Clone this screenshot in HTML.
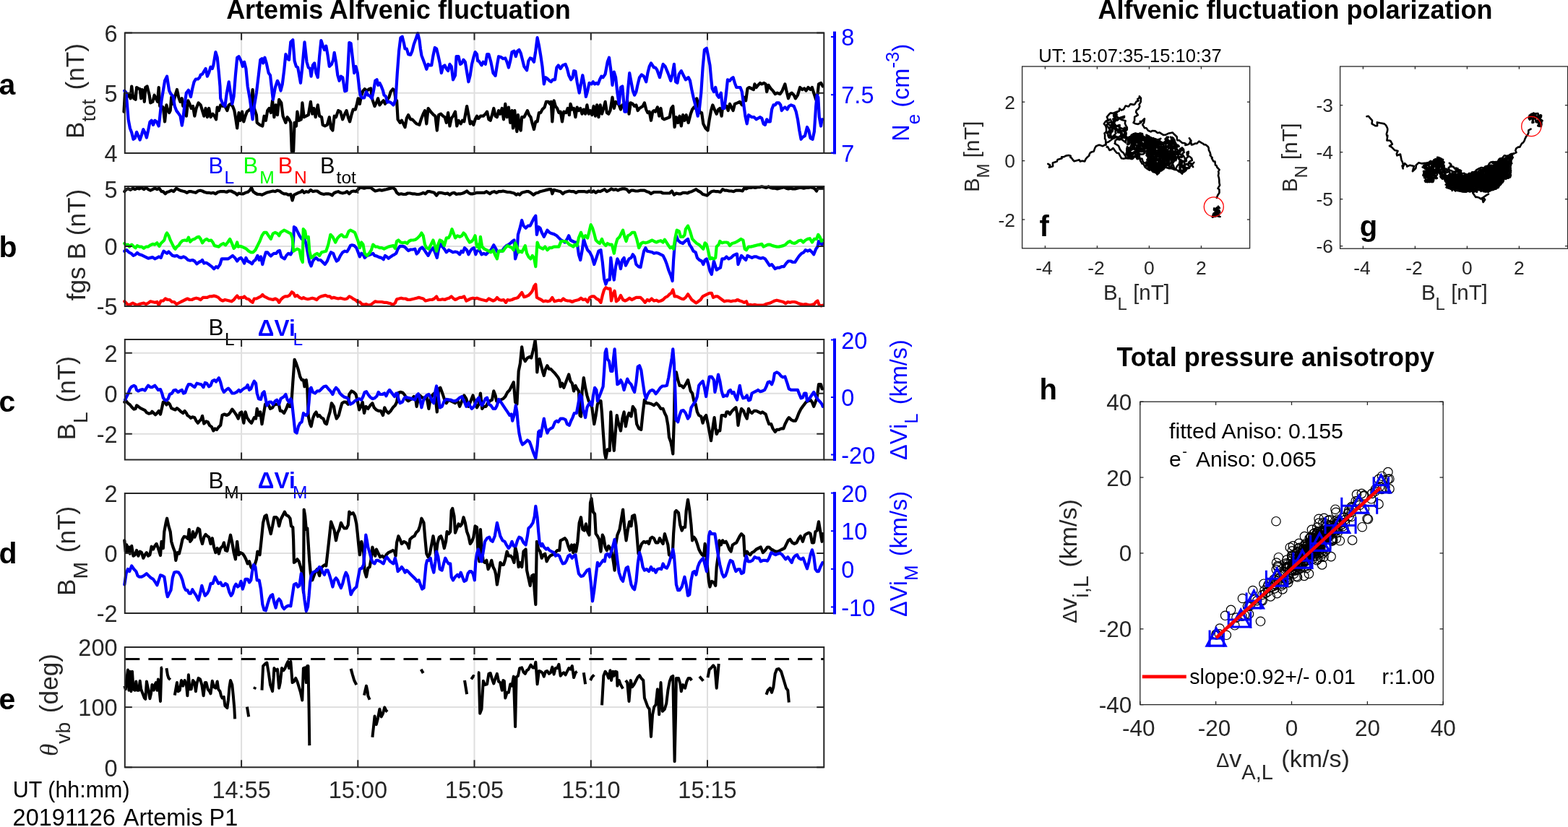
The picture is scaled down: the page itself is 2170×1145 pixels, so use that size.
<!DOCTYPE html><html><head><meta charset="utf-8"><style>html,body{margin:0;padding:0;background:#fff;overflow:hidden}svg{display:block}</style></head><body><svg width="2170" height="1145" viewBox="0 0 2170 1145" font-family="'Liberation Sans', Arial, Helvetica, sans-serif">
<rect width="2170" height="1145" fill="#fff"/>
<text x="551.5" y="26.4" font-size="36" text-anchor="middle" fill="#000" font-weight="bold" >Artemis Alfvenic fluctuation</text>
<text x="1792.5" y="26.4" font-size="36" text-anchor="middle" fill="#000" font-weight="bold" >Alfvenic fluctuation polarization</text>
<text x="1765.2" y="507.4" font-size="36" text-anchor="middle" fill="#000" font-weight="bold" >Total pressure anisotropy</text>
<text x="-1.5" y="130.5" font-size="41" text-anchor="start" fill="#000" font-weight="bold" >a</text>
<text x="-1.5" y="356.3" font-size="41" text-anchor="start" fill="#000" font-weight="bold" >b</text>
<text x="-1.5" y="570.3" font-size="41" text-anchor="start" fill="#000" font-weight="bold" >c</text>
<text x="-1.5" y="779.5" font-size="41" text-anchor="start" fill="#000" font-weight="bold" >d</text>
<text x="-1.5" y="981.5" font-size="41" text-anchor="start" fill="#000" font-weight="bold" >e</text>
<line x1="334.1" y1="45.5" x2="334.1" y2="212.0" stroke="#dfdfdf" stroke-width="2" />
<line x1="495.3" y1="45.5" x2="495.3" y2="212.0" stroke="#dfdfdf" stroke-width="2" />
<line x1="656.5" y1="45.5" x2="656.5" y2="212.0" stroke="#dfdfdf" stroke-width="2" />
<line x1="817.8" y1="45.5" x2="817.8" y2="212.0" stroke="#dfdfdf" stroke-width="2" />
<line x1="979.0" y1="45.5" x2="979.0" y2="212.0" stroke="#dfdfdf" stroke-width="2" />
<line x1="172.8" y1="128.8" x2="1140.3" y2="128.8" stroke="#dfdfdf" stroke-width="2" />
<polyline points="171.5,154.6 173.1,127.1 175.3,130.2 177.6,133.2 179.2,131.7 180.7,136.3 182.2,119.5 183.8,131.7 185.3,136.3 187.6,137.8 189.1,121.0 191.4,122.5 193.7,123.3 195.2,136.3 196.7,124.0 198.3,125.6 199.8,140.9 201.3,121.0 203.6,119.5 206.7,131.7 208.2,142.4 211.3,140.9 213.6,131.7 215.8,136.3 218.1,140.9 219.7,121.0 221.2,147.0 223.5,147.0 225.8,148.5 228.1,168.4 230.4,145.4 231.9,151.6 234.2,156.1 235.7,153.1 237.2,134.7 239.5,143.9 241.8,134.7 244.9,124.0 247.2,134.7 249.5,140.9 251.8,136.3 253.3,147.0 255.6,145.4 257.9,160.7 260.2,139.3 262.5,143.9 264.7,150.0 267.0,147.0 269.3,160.7 271.6,150.0 274.7,142.4 277.7,145.4 280.0,153.1 282.3,160.7 284.6,150.0 286.9,162.2 289.2,150.0 291.5,162.2 294.5,157.7 296.8,160.7 299.1,165.3 300.7,148.5 302.9,153.1 305.2,145.4 308.3,147.0 311.4,147.0 314.4,153.1 316.7,145.4 319.0,143.9 322.0,147.0 324.3,153.1 325.9,162.2 328.2,177.5 330.5,156.1 332.7,166.8 335.0,154.6 337.3,168.4 339.6,160.7 341.9,154.6 344.2,153.1 347.3,150.0 349.6,124.0 351.8,150.0 354.9,159.2 355.7,169.9 359.5,172.9 363.3,174.5 365.6,160.7 367.9,166.8 370.2,153.1 372.5,150.0 374.8,156.1 377.1,139.3 379.4,162.2 381.6,145.4 383.9,159.2 386.2,137.8 389.3,142.4 391.6,160.7 395.4,169.9 397.7,162.2 400.0,165.3 402.3,169.9 403.8,209.6 406.1,209.6 407.6,169.9 409.9,174.5 411.4,154.6 413.7,166.8 416.8,165.3 418.4,142.4 420.7,162.2 423.8,160.7 426.8,159.2 429.9,140.9 432.2,157.7 434.4,150.0 436.7,162.2 439.8,145.4 442.1,160.7 445.1,162.2 446.7,172.9 449.7,174.5 452.8,172.9 455.8,162.2 458.1,177.5 460.4,180.6 462.7,160.7 465.0,162.2 468.1,153.1 471.1,154.6 474.2,165.3 477.2,157.7 479.5,153.1 481.8,162.2 484.1,168.4 486.4,159.2 488.7,151.6 491.8,151.6 494.0,143.9 495.6,136.3 497.9,143.9 500.2,131.7 502.5,125.6 504.7,123.3 507.8,125.6 510.9,123.3 513.1,122.5 515.4,137.8 518.5,147.0 520.8,142.4 523.1,136.3 525.4,145.4 527.7,142.4 530.7,139.3 533.0,143.9 535.3,139.3 538.4,134.7 540.7,127.1 543.7,123.3 546.0,125.6 547.5,137.8 549.1,139.3 550.6,165.3 553.6,169.9 555.9,166.8 558.2,171.4 560.5,176.0 562.8,163.8 565.1,159.2 568.2,165.3 570.5,165.3 573.5,168.4 576.6,171.4 580.4,172.9 582.7,165.3 585.7,157.7 588.0,153.1 590.3,171.4 592.6,150.0 594.9,153.1 597.2,156.1 600.3,159.2 602.5,160.7 604.8,180.6 607.1,159.2 610.2,157.7 613.2,160.7 615.5,162.2 617.8,169.9 620.1,156.1 622.4,174.5 624.7,163.8 627.0,160.7 630.0,154.6 632.3,174.5 634.6,166.8 637.7,171.4 640.0,166.8 642.3,168.4 646.1,147.0 648.4,159.2 650.7,171.4 653.0,168.4 655.3,172.9 657.6,165.3 660.0,160.7 661.1,163.8 662.6,163.8 664.9,160.7 668.8,160.7 671.8,157.7 674.1,154.6 676.4,165.3 678.7,166.8 681.0,159.2 683.3,150.0 685.6,160.7 687.9,162.2 690.1,153.1 692.4,157.7 694.7,150.0 697.0,165.3 699.3,143.9 701.6,162.2 703.9,148.5 706.2,169.9 708.5,153.1 710.0,177.5 712.3,153.1 713.8,171.4 715.4,182.1 716.9,159.2 719.2,177.5 720.7,180.6 722.2,162.2 725.3,162.2 727.6,157.7 729.9,153.1 732.2,159.2 734.5,162.2 736.8,171.4 739.0,179.1 741.3,168.4 743.6,168.4 745.9,156.1 748.2,156.1 750.5,151.6 753.6,148.5 755.9,140.9 758.9,140.9 761.2,143.9 762.7,140.9 764.3,168.4 766.6,139.3 768.8,147.0 771.1,150.0 773.4,156.1 775.7,154.6 778.0,168.4 780.3,154.6 783.4,156.1 785.7,150.0 787.9,159.2 789.5,143.9 791.8,151.6 794.1,150.0 796.4,162.2 798.6,148.5 800.9,153.1 803.2,150.0 805.5,157.7 807.8,151.6 810.1,157.7 812.4,145.4 814.7,157.7 817.0,153.1 819.3,159.2 821.6,147.0 823.9,160.7 826.1,145.4 828.4,162.2 830.7,145.4 833.0,157.7 835.3,150.0 837.6,140.9 839.9,156.1 842.2,157.7 844.5,153.1 847.5,134.7 849.8,150.0 852.1,140.9 854.4,142.4 856.7,145.4 859.0,151.6 861.3,145.4 863.6,147.0 865.9,147.0 868.2,139.3 870.5,157.7 872.8,142.4 875.8,143.9 878.1,147.0 880.4,145.4 882.7,153.1 885.0,150.0 887.3,148.5 889.6,147.0 891.9,142.4 894.2,151.6 896.4,156.1 898.7,154.6 901.0,166.8 903.3,154.6 905.0,153.1 906.9,154.6 909.9,148.5 912.2,160.7 914.5,150.0 916.8,163.8 919.1,165.3 922.9,163.8 926.7,162.2 929.0,150.0 931.3,147.0 933.6,176.0 935.9,162.2 938.2,169.9 940.5,160.7 942.8,174.5 945.1,159.2 947.4,166.8 949.7,159.2 952.7,169.9 955.8,157.7 958.1,151.6 960.4,148.5 962.7,150.0 964.2,136.3 966.5,145.4 968.8,156.1 971.1,156.1 973.3,171.4 976.4,177.5 979.5,180.6 981.8,165.3 984.0,153.1 986.3,145.4 989.4,153.1 991.7,157.7 994.0,151.6 996.3,150.0 998.6,160.7 1000.1,148.5 1002.4,148.5 1005.4,147.0 1007.7,153.1 1010.0,143.9 1012.3,148.5 1014.6,153.1 1016.9,143.9 1020.7,142.4 1023.8,140.9 1026.8,145.4 1029.9,134.7 1032.2,139.3 1034.5,122.5 1036.8,121.0 1039.8,122.5 1042.9,124.0 1044.4,116.4 1046.7,121.0 1049.0,117.9 1052.0,114.9 1054.3,116.4 1057.4,114.9 1059.7,116.4 1061.2,127.1 1063.5,117.9 1066.6,122.5 1069.6,125.6 1072.7,130.2 1075.7,128.6 1079.6,130.2 1082.6,125.6 1086.4,116.4 1088.7,127.1 1091.0,136.3 1093.3,130.2 1095.6,128.6 1098.7,131.7 1100.9,136.3 1104.0,131.7 1107.1,121.0 1110.1,124.0 1113.2,122.5 1115.5,125.6 1118.5,121.0 1121.6,124.0 1123.9,121.0 1126.2,128.6 1129.2,137.8 1131.5,130.2 1133.0,116.4 1136.1,114.9 1138.7,119.5" fill="none" stroke="#000" stroke-width="4.2" stroke-linejoin="round"  stroke-linecap="round"/>
<polyline points="172.3,125.6 174.6,128.6 176.1,147.0 177.6,165.3 179.9,177.5 182.2,183.6 184.5,192.8 186.8,191.3 189.1,182.9 191.4,188.2 193.7,193.6 196.0,186.7 198.3,179.1 200.6,183.6 202.9,190.5 205.1,180.6 207.4,169.1 209.7,166.8 212.0,172.9 214.3,166.8 216.6,168.4 219.7,174.5 221.2,162.2 223.5,139.3 225.8,125.6 228.1,111.8 231.1,105.7 232.7,116.4 234.2,125.6 236.5,130.2 239.5,133.2 241.8,147.0 244.1,153.1 246.4,156.1 249.5,160.7 251.8,173.7 253.3,165.3 255.6,143.9 257.9,128.6 260.9,124.8 264.0,134.0 266.3,122.5 268.6,113.3 270.9,109.5 273.9,109.5 276.2,107.2 277.7,103.4 280.0,102.7 282.3,98.8 284.6,95.0 286.9,105.7 289.2,100.4 291.5,92.7 293.8,95.0 295.3,90.4 298.4,72.1 300.7,79.7 302.9,101.1 304.5,119.5 305.2,136.3 308.3,143.9 311.4,147.0 313.6,130.2 316.7,113.3 319.0,128.6 321.3,143.9 323.6,133.2 325.9,104.2 328.2,79.7 330.5,78.2 333.5,84.3 335.8,92.0 338.1,85.8 340.4,95.0 342.7,119.5 345.7,136.3 349.6,165.3 351.8,147.0 354.9,128.6 358.0,102.7 360.3,82.8 362.5,81.3 364.1,87.4 366.4,79.7 368.7,87.4 371.7,101.1 374.0,104.2 377.8,137.8 380.9,121.0 383.9,111.8 386.2,116.4 388.5,125.6 390.8,116.4 393.1,98.1 395.4,75.1 397.7,81.3 400.0,82.8 402.3,58.3 405.3,55.3 407.6,84.3 409.9,92.0 412.2,93.5 416.0,114.9 418.3,93.5 421.5,58.3 424.5,85.8 426.8,93.5 429.1,95.0 430.6,105.7 432.9,90.4 435.2,87.4 437.5,101.1 439.8,107.2 442.1,78.2 444.4,56.0 446.7,62.9 449.0,69.0 451.3,63.7 453.6,76.7 455.8,92.0 458.9,88.9 461.2,82.8 462.7,72.9 465.0,85.8 467.3,104.2 469.6,111.8 471.9,105.7 474.2,107.2 475.7,116.4 477.2,126.3 479.5,125.6 481.1,101.1 483.3,59.1 485.6,59.9 487.9,79.7 490.2,101.1 492.5,92.0 494.8,101.1 497.1,121.0 498.6,131.7 500.9,135.5 504.0,135.5 507.0,127.1 509.3,131.7 511.6,132.5 514.7,136.3 517.0,125.6 519.3,111.8 521.6,110.3 523.1,117.9 525.4,114.9 527.7,119.5 530.0,125.6 531.5,131.7 533.8,133.2 536.1,141.6 538.4,140.9 541.4,142.4 544.5,145.4 547.5,137.8 549.8,101.1 552.1,70.6 554.4,52.2 556.7,50.7 559.0,59.9 560.5,67.5 562.8,67.5 565.1,75.1 568.2,75.9 570.5,70.6 572.7,61.4 575.0,55.3 578.1,46.1 580.4,55.3 581.9,67.5 583.4,76.7 585.7,82.8 588.0,88.9 590.3,95.8 592.6,88.9 594.9,90.4 597.2,90.4 599.5,76.7 601.8,66.0 604.1,67.5 606.4,76.7 608.7,87.4 610.9,101.1 613.2,92.0 615.5,90.4 617.8,95.0 620.1,98.1 622.4,88.9 624.7,92.0 627.0,110.3 630.0,104.2 631.6,78.2 634.6,78.2 636.9,88.9 639.2,87.4 641.5,82.8 643.8,85.8 646.1,99.6 648.4,113.3 650.7,104.2 653.0,88.9 655.3,79.7 657.6,72.1 660.0,75.1 661.1,84.3 662.6,84.3 666.5,90.4 668.8,85.8 671.8,88.9 674.1,75.1 676.4,75.1 679.4,85.8 682.5,101.1 685.6,104.9 687.9,90.4 690.1,78.2 693.2,79.0 696.3,81.3 699.3,80.5 701.6,85.8 703.9,93.5 706.2,84.3 708.5,72.1 711.5,70.6 713.8,78.2 716.1,70.6 718.4,69.0 720.7,73.6 723.0,82.8 725.3,92.0 729.1,97.3 731.4,84.3 733.7,80.5 736.0,81.3 739.0,85.8 741.3,70.6 743.6,52.2 745.9,62.9 748.2,76.7 750.5,92.0 752.8,116.4 755.1,107.2 757.4,108.8 760.4,111.8 762.7,113.3 765.0,110.3 768.1,110.3 770.4,93.5 772.7,90.4 775.7,95.0 778.8,90.4 782.6,88.9 784.9,95.0 787.2,104.2 790.2,110.3 792.5,107.2 794.1,98.1 796.4,98.8 798.6,113.3 801.7,128.6 804.0,116.4 806.3,104.2 808.6,116.4 810.9,134.0 813.2,125.6 815.5,114.9 818.5,116.4 820.8,113.3 823.1,116.4 825.4,114.9 827.7,116.4 830.0,110.3 832.3,105.7 834.6,107.2 837.6,102.7 840.7,85.8 843.0,79.7 845.3,96.5 847.5,117.9 849.8,99.6 852.1,107.2 854.4,128.6 856.7,143.9 859.0,121.0 861.3,119.5 862.8,136.3 864.4,154.6 866.6,154.6 868.9,125.6 871.2,101.1 873.5,113.3 875.8,125.6 878.1,131.7 880.4,127.1 882.7,116.4 885.0,107.2 888.0,103.4 891.1,105.7 894.2,113.3 896.4,101.1 898.7,92.0 901.0,87.4 905.0,93.5 906.9,93.5 909.2,96.5 913.0,107.2 915.3,98.1 917.6,88.9 920.6,92.0 924.4,101.1 928.3,111.8 930.6,102.7 932.9,88.9 935.1,113.3 937.4,114.9 939.7,102.7 942.8,98.1 945.8,104.2 948.9,110.3 952.7,107.2 955.0,111.8 957.3,124.0 959.6,134.7 962.7,147.0 965.7,160.7 968.0,150.0 970.3,128.6 972.6,93.5 974.9,69.0 977.9,66.7 980.2,78.2 982.5,90.4 984.0,107.2 985.6,122.5 987.9,127.1 990.2,121.0 992.5,131.7 994.7,134.7 997.8,128.6 1000.1,150.0 1002.4,150.0 1004.7,131.7 1007.0,110.3 1010.0,111.8 1012.3,108.8 1014.6,107.2 1016.9,114.9 1019.2,121.0 1022.2,121.0 1024.5,121.0 1026.8,127.1 1029.1,143.9 1031.4,160.7 1033.7,171.4 1036.0,159.2 1038.3,160.7 1040.6,162.2 1043.6,162.2 1046.7,165.3 1049.0,163.8 1052.0,162.2 1054.3,163.8 1056.6,171.4 1058.9,172.9 1061.2,165.3 1063.5,168.4 1065.8,168.4 1068.1,151.6 1070.4,145.4 1072.7,145.4 1075.0,142.4 1078.0,142.4 1080.3,145.4 1081.8,153.1 1084.1,150.0 1086.4,148.5 1089.5,151.6 1091.8,147.0 1094.8,145.4 1098.7,147.0 1101.7,154.6 1104.0,165.3 1106.3,180.6 1108.6,192.8 1110.9,189.8 1113.9,188.2 1117.0,176.0 1119.3,180.6 1121.6,191.3 1124.6,192.8 1126.9,182.1 1129.2,147.0 1130.7,131.7 1132.3,134.7 1133.8,162.2 1136.1,174.5 1137.6,165.3 1138.7,165.3" fill="none" stroke="#0000ff" stroke-width="4.2" stroke-linejoin="round"  stroke-linecap="round"/>
<rect x="172.8" y="45.5" width="967.5" height="166.5" fill="none" stroke="#262626" stroke-width="2"/>
<line x1="334.1" y1="212.0" x2="334.1" y2="202.0" stroke="#262626" stroke-width="2" />
<line x1="334.1" y1="45.5" x2="334.1" y2="55.5" stroke="#262626" stroke-width="2" />
<line x1="495.3" y1="212.0" x2="495.3" y2="202.0" stroke="#262626" stroke-width="2" />
<line x1="495.3" y1="45.5" x2="495.3" y2="55.5" stroke="#262626" stroke-width="2" />
<line x1="656.5" y1="212.0" x2="656.5" y2="202.0" stroke="#262626" stroke-width="2" />
<line x1="656.5" y1="45.5" x2="656.5" y2="55.5" stroke="#262626" stroke-width="2" />
<line x1="817.8" y1="212.0" x2="817.8" y2="202.0" stroke="#262626" stroke-width="2" />
<line x1="817.8" y1="45.5" x2="817.8" y2="55.5" stroke="#262626" stroke-width="2" />
<line x1="979.0" y1="212.0" x2="979.0" y2="202.0" stroke="#262626" stroke-width="2" />
<line x1="979.0" y1="45.5" x2="979.0" y2="55.5" stroke="#262626" stroke-width="2" />
<line x1="172.8" y1="212.0" x2="182.8" y2="212.0" stroke="#262626" stroke-width="2" />
<line x1="1140.3" y1="212.0" x2="1130.3" y2="212.0" stroke="#262626" stroke-width="2" />
<text x="162.6" y="224.2" font-size="32.5" text-anchor="end" fill="#262626" font-weight="normal" >4</text>
<line x1="172.8" y1="128.8" x2="182.8" y2="128.8" stroke="#262626" stroke-width="2" />
<line x1="1140.3" y1="128.8" x2="1130.3" y2="128.8" stroke="#262626" stroke-width="2" />
<text x="162.6" y="140.9" font-size="32.5" text-anchor="end" fill="#262626" font-weight="normal" >5</text>
<line x1="172.8" y1="45.5" x2="182.8" y2="45.5" stroke="#262626" stroke-width="2" />
<line x1="1140.3" y1="45.5" x2="1130.3" y2="45.5" stroke="#262626" stroke-width="2" />
<text x="162.6" y="57.7" font-size="32.5" text-anchor="end" fill="#262626" font-weight="normal" >6</text>
<line x1="1140.3" y1="212.0" x2="1155.0" y2="212.0" stroke="#262626" stroke-width="2" />
<line x1="1155.0" y1="43.6" x2="1155.0" y2="213.4" stroke="#0000ff" stroke-width="4" />
<line x1="1155.0" y1="211.5" x2="1150.0" y2="211.5" stroke="#0000ff" stroke-width="2" />
<text x="1164.3" y="223.7" font-size="32.5" text-anchor="start" fill="#0000ff" font-weight="normal" >7</text>
<line x1="1155.0" y1="131.2" x2="1150.0" y2="131.2" stroke="#0000ff" stroke-width="2" />
<text x="1164.3" y="143.4" font-size="32.5" text-anchor="start" fill="#0000ff" font-weight="normal" >7.5</text>
<line x1="1155.0" y1="51.0" x2="1150.0" y2="51.0" stroke="#0000ff" stroke-width="2" />
<text x="1164.3" y="63.2" font-size="32.5" text-anchor="start" fill="#0000ff" font-weight="normal" >8</text>
<text transform="translate(116.1,126.0) rotate(-90)" text-anchor="middle" fill="#262626" font-size="35.2"><tspan font-size="35.2" dy="0.0" >B</tspan><tspan font-size="28.2" dy="16.3" >tot</tspan><tspan font-size="35.2" dy="-16.3" dx="3"> (nT)</tspan></text>
<text transform="translate(1257.5,128.2) rotate(-90)" text-anchor="middle" fill="#0000ff" font-size="32.5"><tspan font-size="32.5" dy="0.0" >N</tspan><tspan font-size="26" dy="15.0" >e</tspan><tspan font-size="32.5" dy="-15.0" > (cm</tspan><tspan font-size="26" dy="-14.0" >-3</tspan><tspan font-size="32.5" dy="14.0" >)</tspan></text>
<text x="288.4" y="239.7" font-size="30.8" fill="#0000ff" font-weight="normal">B</text>
<text x="310.5" y="254.0" font-size="24.6" fill="#0000ff" font-weight="normal">L</text>
<text x="336.6" y="239.7" font-size="30.8" fill="#00ff00" font-weight="normal">B</text>
<text x="359.3" y="254.0" font-size="24.6" fill="#00ff00" font-weight="normal">M</text>
<text x="384.8" y="239.7" font-size="30.8" fill="#ff0000" font-weight="normal">B</text>
<text x="406.9" y="254.0" font-size="24.6" fill="#ff0000" font-weight="normal">N</text>
<text x="443.1" y="239.7" font-size="30.8" fill="#000" font-weight="normal">B</text>
<text x="465.6" y="254.0" font-size="24.6" fill="#000" font-weight="normal">tot</text>
<line x1="334.1" y1="258.0" x2="334.1" y2="424.0" stroke="#dfdfdf" stroke-width="2" />
<line x1="495.3" y1="258.0" x2="495.3" y2="424.0" stroke="#dfdfdf" stroke-width="2" />
<line x1="656.5" y1="258.0" x2="656.5" y2="424.0" stroke="#dfdfdf" stroke-width="2" />
<line x1="817.8" y1="258.0" x2="817.8" y2="424.0" stroke="#dfdfdf" stroke-width="2" />
<line x1="979.0" y1="258.0" x2="979.0" y2="424.0" stroke="#dfdfdf" stroke-width="2" />
<line x1="172.8" y1="341.0" x2="1140.3" y2="341.0" stroke="#dfdfdf" stroke-width="2" />
<polyline points="172.3,347.7 175.3,346.2 178.4,349.3 181.5,350.8 184.5,353.9 187.6,352.3 189.9,350.0 192.9,352.3 196.0,353.1 199.0,354.6 202.1,356.1 205.1,357.7 208.2,356.9 211.3,356.1 214.3,358.4 217.4,356.9 219.7,355.4 222.7,356.9 225.0,350.8 226.5,347.7 228.8,349.3 231.1,350.8 233.4,348.5 235.7,350.8 238.8,353.9 241.8,354.6 244.9,353.9 247.9,356.1 251.0,356.9 254.0,355.4 257.1,356.9 260.2,360.0 263.2,360.7 266.3,360.0 269.3,361.5 272.4,365.3 275.4,363.0 278.5,361.5 280.0,360.0 282.3,364.6 284.6,363.8 286.9,364.6 290.0,366.8 293.0,369.1 296.1,372.2 299.1,369.1 301.4,370.7 304.5,366.1 306.8,358.4 309.8,358.4 312.9,358.4 315.9,358.4 319.0,356.1 322.0,353.9 325.1,356.9 328.2,361.5 330.5,358.4 333.5,356.9 335.8,360.0 338.1,364.6 340.4,356.9 342.7,361.5 345.7,363.0 348.8,365.3 351.1,361.5 353.4,360.0 356.4,353.9 358.7,360.0 361.0,355.4 363.3,366.1 365.6,356.9 367.9,349.3 370.2,349.3 372.5,352.3 374.8,354.6 377.1,352.3 379.4,350.8 382.4,350.8 384.7,347.7 387.0,347.0 389.3,355.4 391.6,356.9 393.9,358.4 396.2,353.9 399.2,350.8 402.3,352.3 404.6,347.7 406.1,332.5 406.9,314.1 409.2,315.7 411.4,320.2 414.5,326.3 417.6,330.9 420.0,330.9 421.5,330.9 423.8,338.6 426.0,350.8 428.3,363.0 430.6,368.4 432.9,361.5 435.2,358.4 437.5,356.9 440.6,360.0 443.6,360.0 446.7,363.0 449.7,366.1 452.8,361.5 455.8,353.9 458.1,349.3 461.2,350.8 463.5,356.9 465.8,361.5 468.1,360.0 471.1,353.9 474.2,349.3 477.2,347.7 480.3,348.5 482.6,344.7 484.9,340.1 487.2,339.3 490.2,340.1 493.3,343.2 495.6,349.3 497.9,355.4 500.2,350.8 502.5,352.3 504.7,356.9 507.8,353.9 510.9,353.1 513.1,352.3 516.2,350.8 518.5,353.9 521.6,354.6 524.6,356.1 527.7,356.9 530.7,359.2 533.0,353.9 535.3,355.4 537.6,357.7 540.7,355.4 542.9,353.9 546.0,352.3 548.3,350.8 550.6,344.7 553.6,340.9 556.7,340.9 559.8,341.6 562.8,344.7 565.1,347.0 568.2,345.5 571.2,345.5 574.3,344.7 576.6,351.6 578.9,349.3 581.1,344.7 584.2,342.4 587.3,346.2 590.3,350.8 592.6,353.9 595.7,347.7 599.5,343.2 602.5,350.8 604.8,356.9 607.1,344.7 609.4,337.8 611.7,340.9 614.8,344.7 617.8,349.3 620.9,346.2 623.9,347.7 627.0,349.3 630.0,348.5 633.1,349.3 636.2,352.3 638.5,347.7 640.7,349.3 643.0,343.2 646.1,346.2 648.4,352.3 650.7,347.7 653.0,344.7 656.0,343.2 658.3,352.3 660.0,347.7 663.4,346.2 666.5,352.3 669.5,350.8 672.6,352.3 675.6,349.3 679.4,346.2 683.3,339.3 685.6,343.2 688.6,349.3 691.7,347.7 694.7,347.7 697.8,343.2 700.8,340.1 703.9,338.6 707.0,336.3 709.2,334.0 711.5,332.5 713.1,358.4 715.4,350.8 716.9,324.8 719.2,317.2 722.2,305.0 724.5,312.6 727.6,315.7 730.6,312.6 733.7,312.6 736.0,308.0 739.0,301.9 741.3,298.8 742.9,324.8 745.2,314.1 747.5,315.7 749.7,321.8 752.8,327.9 755.1,323.3 757.4,318.7 760.4,321.8 763.5,323.3 766.6,324.1 770.4,326.3 773.4,329.4 776.5,332.5 779.5,334.0 781.8,335.5 784.9,330.9 787.2,326.3 789.5,332.5 792.5,334.0 795.6,335.5 798.6,335.5 800.9,352.3 803.2,360.0 805.5,347.7 807.8,330.9 810.1,338.6 813.2,346.2 816.2,349.3 819.3,355.4 822.3,366.1 825.4,356.9 828.4,347.7 831.5,346.2 833.8,363.0 836.1,385.9 838.4,393.6 840.7,387.5 843.7,387.5 845.3,356.9 847.5,375.2 849.8,387.5 852.1,369.1 854.4,358.4 856.7,363.0 859.0,372.2 861.3,360.0 863.6,356.9 865.9,367.6 868.2,363.0 870.5,358.4 873.5,356.9 875.8,352.3 878.1,355.4 880.4,366.1 883.5,369.1 886.5,369.9 888.8,358.4 891.1,347.7 893.4,343.2 895.7,347.7 899.5,348.5 902.6,349.3 905.0,350.8 908.4,350.0 911.5,350.8 914.5,352.3 917.6,353.9 920.6,360.0 922.9,366.1 925.2,373.7 928.3,381.4 930.6,389.0 932.1,360.0 933.6,340.1 935.9,326.3 938.2,332.5 941.3,335.5 945.1,337.0 948.1,334.0 952.0,330.9 954.2,338.6 957.3,343.2 959.6,347.7 962.7,349.3 964.9,356.9 968.0,360.0 971.1,361.5 973.3,366.1 975.6,360.0 977.9,358.4 980.2,366.1 982.5,375.2 984.8,379.8 986.3,370.7 987.9,361.5 989.4,366.1 991.7,373.7 994.0,372.2 997.0,370.7 999.3,358.4 1002.4,358.4 1005.4,355.4 1008.5,358.4 1011.6,356.9 1014.6,353.9 1017.7,352.3 1020.0,351.6 1021.5,366.1 1023.8,360.0 1026.1,353.9 1029.1,356.9 1032.2,360.0 1034.5,353.9 1037.5,355.4 1040.6,356.9 1043.6,355.4 1046.7,355.4 1049.8,356.9 1052.8,357.7 1055.9,356.9 1058.9,358.4 1062.0,363.0 1065.0,367.6 1068.1,366.1 1070.4,369.1 1072.7,372.2 1075.7,370.7 1078.8,370.7 1081.8,369.1 1084.9,369.1 1088.0,364.6 1091.0,361.5 1094.1,361.5 1097.1,363.0 1100.2,363.0 1103.2,358.4 1106.3,353.9 1109.4,350.8 1112.4,349.3 1114.7,346.2 1117.8,347.7 1120.8,346.2 1123.9,349.3 1126.2,352.3 1129.2,344.7 1131.5,341.6 1133.0,334.0 1135.3,337.0 1137.6,338.6 1138.7,337.0" fill="none" stroke="#0000ff" stroke-width="4.2" stroke-linejoin="round"  stroke-linecap="round"/>
<polyline points="172.3,337.0 174.6,340.1 176.9,338.6 179.2,341.6 182.2,338.6 185.3,341.6 187.6,343.2 189.9,340.1 192.9,341.6 196.0,341.6 199.0,343.9 202.1,341.6 205.1,341.6 208.2,339.3 211.3,337.8 214.3,338.6 217.4,336.3 220.4,340.9 222.7,337.0 225.0,334.8 227.3,332.5 229.6,324.8 231.1,322.5 233.4,326.3 235.7,332.5 238.8,338.6 241.1,343.2 242.6,344.7 244.9,341.6 247.2,340.1 249.5,336.3 252.5,333.2 255.6,332.5 258.6,333.2 260.9,328.6 263.2,334.8 266.3,331.7 269.3,330.9 272.4,328.6 275.4,327.9 277.7,330.9 280.0,336.3 283.1,332.5 286.1,330.9 289.2,333.2 292.2,332.5 294.5,335.5 296.8,340.1 299.9,340.9 302.9,341.6 306.0,338.6 309.1,337.0 312.1,339.3 315.2,335.5 318.2,330.9 321.3,337.8 323.6,343.9 325.9,341.6 328.2,335.5 329.7,341.6 332.0,340.9 335.0,341.6 338.1,343.2 341.1,344.7 344.2,347.7 347.3,349.3 350.3,349.3 353.4,346.2 356.4,340.1 359.5,334.0 362.5,326.3 365.6,321.8 368.7,321.8 371.7,326.3 374.8,330.9 377.8,323.3 380.9,321.8 383.9,323.3 386.2,326.3 388.5,321.8 393.1,318.7 396.2,320.2 399.2,321.8 402.3,323.3 404.6,329.4 406.1,347.7 408.4,346.2 411.4,344.7 414.5,346.2 416.8,358.4 418.8,363.0 419.7,317.2 422.2,320.2 423.8,329.4 426.8,327.9 428.3,347.7 430.6,356.9 432.9,355.4 436.0,352.3 439.0,350.8 442.1,353.9 445.1,349.3 448.2,348.5 451.3,347.7 454.3,338.6 457.4,324.8 460.4,327.9 464.2,335.5 467.3,329.4 470.4,326.3 472.7,324.8 475.7,327.9 479.5,327.9 482.6,320.2 484.9,318.7 487.9,320.2 491.0,321.8 493.3,327.9 495.6,334.0 497.9,343.2 500.2,335.5 502.5,338.6 504.7,350.8 507.8,353.9 510.9,350.8 513.9,346.2 516.2,338.6 519.3,341.6 522.3,341.6 525.4,343.2 528.4,343.2 531.5,344.7 534.5,343.2 537.6,341.6 540.7,340.9 544.5,340.1 546.8,343.9 549.1,334.0 551.4,332.5 554.4,335.5 557.5,336.3 560.5,335.5 563.6,337.0 565.9,334.0 568.9,332.5 572.0,332.5 575.0,331.7 578.1,329.4 581.1,326.3 583.4,322.5 585.7,326.3 588.0,338.6 590.3,343.2 593.4,344.7 596.4,338.6 599.5,332.5 601.8,340.1 604.1,347.7 606.4,338.6 608.7,332.5 611.7,334.0 614.8,340.1 617.8,329.4 620.9,329.4 623.2,324.8 625.5,317.2 627.8,323.3 630.0,329.4 633.1,326.3 636.2,327.9 639.2,326.3 641.5,322.5 643.8,324.8 646.9,330.9 649.9,335.5 653.0,334.0 655.3,330.9 657.6,326.3 660.0,341.6 661.9,338.6 663.4,344.7 664.9,327.9 667.2,341.6 670.3,344.7 673.3,346.2 676.4,347.7 679.4,349.3 682.5,346.2 685.6,353.9 687.9,358.4 690.1,347.7 693.2,347.7 696.3,347.7 699.3,343.2 702.4,340.1 705.4,341.6 708.5,343.2 710.8,346.2 713.1,336.3 715.4,341.6 717.7,349.3 719.9,347.7 722.2,349.3 724.5,344.7 726.8,340.1 729.1,350.8 731.4,355.4 734.5,358.4 736.8,353.9 739.0,356.9 741.3,369.1 743.6,335.5 745.9,341.6 748.2,343.2 751.3,344.7 754.3,341.6 757.4,346.2 760.4,343.2 763.5,343.2 766.6,341.6 769.6,341.6 773.4,341.6 776.5,334.0 779.5,334.0 782.6,334.0 784.9,335.5 787.9,338.6 791.0,340.1 793.3,341.6 795.6,338.6 798.6,340.1 800.9,329.4 804.0,321.8 807.0,329.4 810.1,326.3 813.2,329.4 815.5,320.2 817.7,311.1 820.0,315.7 822.3,323.3 824.6,332.5 827.7,335.5 830.0,337.0 833.0,330.9 835.3,337.0 838.4,340.1 840.7,337.0 843.7,338.6 846.8,338.6 849.8,350.8 852.1,338.6 854.4,330.9 857.5,327.9 859.8,323.3 862.1,318.7 864.4,327.9 866.6,334.0 868.9,326.3 872.0,324.8 875.0,321.8 878.1,321.8 881.2,330.9 884.2,343.2 887.3,337.0 890.3,335.5 893.4,336.3 896.4,335.5 899.5,334.0 902.6,332.5 905.0,334.0 908.4,335.5 911.5,334.0 914.5,333.2 917.6,335.5 919.9,331.7 922.9,336.3 925.2,340.1 927.5,343.2 929.8,341.6 932.1,344.7 934.4,329.4 936.7,318.7 939.7,320.2 942.0,327.9 945.1,327.9 947.4,325.6 948.9,317.2 952.0,312.6 955.0,320.2 958.1,330.9 961.1,334.0 964.2,337.0 967.2,338.6 970.3,341.6 973.3,344.7 975.6,336.3 977.9,338.6 980.2,347.7 982.5,358.4 984.8,356.9 987.9,358.4 990.2,356.9 991.7,341.6 994.7,338.6 996.3,334.0 999.3,336.3 1002.4,335.5 1005.4,335.5 1007.7,336.3 1010.0,340.1 1013.1,337.0 1016.1,336.3 1019.2,334.8 1022.2,333.2 1025.3,330.9 1028.4,332.5 1030.7,344.7 1032.9,346.2 1036.0,341.6 1039.1,341.6 1042.1,340.9 1045.2,340.1 1048.2,339.3 1051.3,338.6 1054.3,337.8 1056.6,341.6 1059.7,340.1 1062.7,338.6 1065.8,338.6 1068.9,340.1 1071.9,340.9 1075.0,341.6 1078.0,341.6 1081.1,340.9 1084.1,340.1 1087.2,338.6 1090.3,335.5 1093.3,334.0 1096.4,336.3 1099.4,337.0 1102.5,335.5 1105.5,333.2 1108.6,332.5 1111.6,335.5 1114.7,332.5 1117.8,330.9 1120.8,330.2 1123.9,335.5 1126.9,330.9 1130.0,330.9 1132.3,324.8 1134.6,327.9 1136.9,334.0 1138.7,332.5" fill="none" stroke="#00ff00" stroke-width="4.2" stroke-linejoin="round"  stroke-linecap="round"/>
<polyline points="172.3,417.3 174.6,419.6 177.6,422.6 180.7,421.1 183.8,419.6 186.8,421.1 189.9,422.6 192.9,421.1 196.0,420.3 199.0,419.6 202.1,421.1 205.1,419.6 208.2,417.3 211.3,418.0 214.3,418.8 217.4,418.0 219.7,422.6 222.7,416.5 225.8,416.5 228.8,413.5 231.9,415.0 234.9,415.0 238.0,418.0 241.1,418.0 244.1,421.1 247.2,419.6 250.2,418.0 253.3,416.5 256.3,415.0 259.4,413.5 262.5,415.0 265.5,415.0 268.6,413.5 271.6,412.7 274.7,413.5 277.7,415.0 280.8,411.9 283.8,411.9 286.9,411.9 290.0,410.4 293.0,410.4 296.1,409.6 299.1,410.4 302.2,411.9 305.2,415.0 308.3,416.5 311.4,415.0 314.4,415.7 317.5,416.5 320.5,417.3 323.6,415.0 325.9,411.9 328.2,409.6 330.5,412.7 333.5,411.9 336.6,411.9 338.1,410.4 341.1,413.5 344.2,414.2 347.3,417.3 349.6,418.8 351.8,413.5 354.9,413.5 358.0,411.9 361.0,410.4 363.3,408.1 365.6,410.4 368.7,411.9 371.7,413.5 374.8,414.2 377.8,415.0 380.9,413.5 383.9,415.0 386.2,418.8 388.5,415.0 391.6,411.9 394.6,410.4 397.7,410.4 400.7,408.9 403.8,404.3 406.1,405.8 408.4,410.4 411.4,408.9 414.5,411.9 417.6,413.5 420.0,411.9 420.7,412.7 423.0,413.5 426.0,414.2 429.1,413.5 432.2,412.7 435.2,413.5 438.3,415.0 441.3,411.9 444.4,410.4 447.4,409.6 450.5,408.9 453.6,410.4 456.6,410.4 458.9,412.7 462.0,411.9 465.0,412.7 468.1,413.5 471.1,412.7 474.2,413.5 477.2,414.2 480.3,413.5 483.3,410.4 486.4,411.9 489.5,414.2 492.5,415.7 494.8,418.0 497.9,418.0 500.9,421.1 504.0,421.9 507.0,421.1 510.1,422.6 513.1,421.9 516.2,419.6 519.3,417.3 522.3,418.0 525.4,418.0 528.4,418.0 531.5,418.8 534.5,418.8 537.6,419.6 540.7,420.3 543.7,421.9 546.8,419.6 549.1,414.2 552.1,413.5 555.2,412.7 558.2,413.5 561.3,413.5 564.3,415.0 567.4,415.0 570.5,414.2 573.5,413.5 576.6,412.7 579.6,411.9 582.7,412.7 585.7,413.5 588.8,416.5 591.8,415.7 594.9,415.0 598.0,415.0 601.0,413.5 604.1,410.4 606.4,415.0 609.4,415.0 612.5,414.2 615.5,415.0 618.6,413.5 621.6,412.7 624.7,410.4 627.8,413.5 630.0,415.0 633.1,413.5 636.2,411.9 639.2,411.9 642.3,410.4 645.3,416.5 648.4,415.0 651.4,413.5 654.5,412.7 657.6,413.5 660.0,412.7 664.2,414.2 667.2,415.0 670.3,415.7 673.3,416.5 676.4,413.5 679.4,415.0 682.5,416.5 685.6,415.0 687.9,411.9 690.9,415.0 694.0,415.7 697.0,415.0 700.1,418.8 702.4,415.0 705.4,415.7 708.5,415.0 711.5,413.5 714.6,412.7 716.9,411.9 719.2,408.9 722.2,405.0 725.3,411.2 728.3,410.4 731.4,408.9 734.5,405.8 736.8,402.8 739.0,396.6 741.3,393.6 742.9,411.9 745.9,413.5 749.0,415.0 752.0,417.3 755.1,416.5 758.1,417.3 761.2,416.5 764.3,411.9 767.3,417.3 770.4,416.5 773.4,415.7 776.5,416.5 779.5,413.5 782.6,415.7 785.7,416.5 788.7,416.5 791.8,418.0 794.8,416.5 797.9,415.7 800.9,415.0 804.0,412.7 807.0,415.0 810.1,414.2 813.2,418.0 816.2,411.9 819.3,410.4 822.3,410.4 825.4,413.5 828.4,415.0 831.5,418.8 833.8,408.9 836.1,401.2 838.4,398.2 841.4,399.7 844.5,399.7 846.0,416.5 848.3,407.3 850.6,402.8 852.9,417.3 855.9,415.0 859.0,408.9 862.1,415.0 865.1,416.5 868.2,415.0 871.2,412.7 874.3,415.0 877.3,413.5 880.4,411.9 883.5,411.9 886.5,411.9 889.6,415.0 892.6,418.8 895.7,415.0 898.7,416.5 901.8,413.5 905.0,416.5 908.4,415.7 911.5,417.3 914.5,416.5 917.6,415.0 920.6,411.9 923.7,410.4 926.7,407.3 929.0,405.8 931.3,401.2 933.6,410.4 936.7,410.4 939.7,411.9 942.8,413.5 945.8,414.2 948.9,411.9 952.0,407.3 954.2,410.4 957.3,415.0 960.4,417.3 963.4,419.6 966.5,417.3 969.5,415.0 972.6,410.4 975.6,408.9 978.7,407.3 981.8,405.8 984.8,405.8 987.1,411.9 990.2,410.4 993.2,410.4 996.3,412.7 999.3,415.0 1002.4,417.3 1005.4,416.5 1008.5,416.5 1011.6,417.3 1014.6,416.5 1017.7,416.5 1020.7,415.0 1023.8,416.5 1026.8,417.3 1029.9,418.8 1032.9,417.3 1035.2,422.6 1038.3,421.9 1041.4,422.6 1044.4,421.9 1047.5,422.6 1050.5,422.6 1053.6,422.6 1056.6,422.6 1059.7,421.1 1062.7,420.3 1065.8,419.6 1068.9,418.0 1071.9,416.5 1075.0,415.7 1078.0,416.5 1081.1,417.3 1084.1,418.0 1087.2,420.3 1090.3,418.0 1093.3,418.8 1096.4,418.0 1099.4,418.0 1102.5,418.8 1105.5,420.3 1108.6,421.1 1111.6,421.9 1114.7,421.1 1117.8,421.9 1120.8,422.6 1123.9,421.9 1126.9,421.1 1129.2,418.0 1131.5,416.5 1133.8,422.6 1136.9,423.4 1138.7,422.6" fill="none" stroke="#ff0000" stroke-width="4.2" stroke-linejoin="round"  stroke-linecap="round"/>
<polyline points="172.3,265.2 174.6,262.2 177.6,261.4 180.7,262.9 183.8,260.6 186.8,262.2 189.9,260.6 192.9,261.4 196.0,259.9 199.0,262.2 202.1,259.9 205.1,262.2 208.2,263.7 211.3,262.2 214.3,260.6 217.4,262.2 220.4,260.6 223.5,265.2 225.8,265.2 228.8,268.3 231.1,266.0 234.2,265.2 237.2,263.7 240.3,265.2 244.1,260.6 246.4,262.2 249.5,263.7 252.5,264.5 255.6,265.2 258.6,266.8 261.7,265.2 264.7,265.2 267.8,266.0 270.9,266.8 273.9,264.5 277.0,263.7 280.0,264.5 283.1,266.0 286.1,266.8 289.2,266.8 292.2,267.5 295.3,266.8 298.4,268.3 301.4,266.0 304.5,265.2 307.5,265.2 310.6,265.2 313.6,266.0 316.7,264.5 319.8,264.5 322.8,266.0 325.9,267.5 328.2,269.8 330.5,267.5 333.5,268.3 336.6,268.3 339.6,266.8 342.7,266.0 345.7,263.7 348.0,259.9 350.3,265.2 353.4,267.5 356.4,269.0 359.5,269.0 362.5,269.8 365.6,268.3 368.7,266.8 371.7,266.0 374.8,265.2 377.8,264.5 380.9,265.2 383.9,263.7 387.0,264.5 390.0,266.8 393.1,268.3 396.2,268.3 399.2,269.8 402.3,269.0 404.6,277.4 406.9,269.8 409.9,268.3 413.0,266.8 416.0,266.0 418.3,263.7 420.7,266.8 423.8,265.2 426.8,266.0 429.9,262.9 432.9,265.2 436.0,264.5 439.0,264.5 442.1,266.8 445.1,268.3 448.2,269.0 451.3,268.3 454.3,268.3 457.4,269.0 459.7,270.6 462.0,267.5 465.0,266.0 468.1,265.2 471.1,266.8 474.2,267.5 477.2,266.8 480.3,265.2 483.3,268.3 486.4,265.2 489.5,264.5 492.5,265.2 495.6,262.2 497.9,259.9 500.9,259.9 504.0,260.6 507.0,259.9 510.1,259.9 513.1,259.9 516.2,262.2 519.3,264.5 522.3,263.7 525.4,262.9 528.4,263.7 531.5,262.9 534.5,262.2 537.6,261.4 540.7,260.6 543.7,259.9 546.8,262.2 549.1,266.8 552.1,269.0 555.2,268.3 558.2,269.0 561.3,269.0 564.3,267.5 567.4,267.5 570.5,268.3 573.5,268.3 576.6,269.0 579.6,269.0 582.7,268.3 585.7,266.8 588.8,268.3 591.8,265.2 594.9,265.2 598.0,266.0 601.0,266.8 604.1,270.6 607.1,266.8 610.2,266.8 613.2,267.5 616.3,268.3 619.4,267.5 622.4,269.8 625.5,267.5 628.5,266.8 631.6,269.0 634.6,268.3 637.7,268.3 640.7,267.5 643.8,266.0 646.1,264.5 648.4,266.8 651.4,268.3 654.5,268.3 657.6,267.5 660.0,266.8 664.2,266.8 667.2,266.8 670.3,266.8 673.3,265.2 677.9,268.3 681.0,266.0 684.0,265.2 687.1,266.8 690.1,265.2 693.2,265.2 696.3,264.5 699.3,265.2 702.4,266.0 705.4,266.0 708.5,266.8 711.5,267.5 714.6,269.8 716.9,268.3 719.2,269.8 722.2,266.8 725.3,266.0 728.3,265.2 731.4,265.2 734.5,266.8 738.3,269.8 741.3,267.5 744.4,266.8 747.5,265.2 750.5,264.5 753.6,263.7 756.6,262.9 759.7,262.2 762.7,262.2 764.3,268.3 766.6,262.9 769.6,263.7 772.7,264.5 775.7,265.2 778.8,268.3 781.8,266.0 784.9,265.2 787.9,264.5 791.0,265.2 794.1,265.2 797.1,266.8 800.2,265.2 803.2,265.2 806.3,265.2 809.3,265.2 812.4,266.0 815.5,264.5 818.5,266.0 821.6,264.5 824.6,266.8 827.7,264.5 830.7,265.2 833.8,263.7 836.8,262.2 839.9,265.2 843.0,263.7 846.0,261.4 849.1,262.9 852.1,262.2 855.2,263.7 858.2,262.2 861.3,261.4 864.4,261.4 867.4,262.2 870.5,266.0 873.5,263.7 876.6,263.7 879.6,264.5 882.7,264.5 885.7,263.7 888.8,263.7 891.9,263.7 894.9,265.2 898.0,266.0 901.0,268.3 903.3,266.8 905.0,266.0 908.4,266.0 911.5,266.0 914.5,266.0 917.6,267.5 920.6,267.5 923.7,267.5 926.7,267.5 929.8,264.5 932.9,269.8 935.9,267.5 939.0,268.3 942.0,268.3 945.1,266.8 948.1,266.8 951.2,267.5 954.2,266.0 957.3,265.2 960.4,263.7 963.4,262.2 966.5,264.5 969.5,266.0 972.6,269.0 975.6,269.8 978.7,270.6 981.8,267.5 984.8,265.2 987.9,264.5 990.9,265.2 994.0,265.2 997.0,266.0 1000.1,262.2 1003.1,263.7 1006.2,263.7 1009.3,264.5 1012.3,264.5 1015.4,265.2 1018.4,263.7 1021.5,263.7 1024.5,263.7 1027.6,264.5 1029.9,260.6 1032.9,261.4 1036.0,259.9 1039.1,259.9 1042.1,259.1 1045.2,259.9 1048.2,259.1 1051.3,259.1 1054.3,258.3 1057.4,259.1 1060.5,259.9 1063.5,258.3 1066.6,259.9 1069.6,260.6 1072.7,260.6 1075.7,261.4 1078.8,260.6 1081.8,259.9 1084.9,259.1 1088.0,260.6 1091.0,261.4 1094.1,260.6 1097.1,261.4 1100.2,261.4 1103.2,260.6 1106.3,259.9 1109.4,259.9 1112.4,260.6 1115.5,259.9 1118.5,259.9 1121.6,259.1 1124.6,259.9 1127.7,261.4 1130.0,264.5 1132.3,259.9 1135.3,259.1 1138.7,259.9" fill="none" stroke="#000" stroke-width="4.2" stroke-linejoin="round"  stroke-linecap="round"/>
<rect x="172.8" y="258.0" width="967.5" height="166.0" fill="none" stroke="#262626" stroke-width="2"/>
<line x1="334.1" y1="424.0" x2="334.1" y2="414.0" stroke="#262626" stroke-width="2" />
<line x1="334.1" y1="258.0" x2="334.1" y2="268.0" stroke="#262626" stroke-width="2" />
<line x1="495.3" y1="424.0" x2="495.3" y2="414.0" stroke="#262626" stroke-width="2" />
<line x1="495.3" y1="258.0" x2="495.3" y2="268.0" stroke="#262626" stroke-width="2" />
<line x1="656.5" y1="424.0" x2="656.5" y2="414.0" stroke="#262626" stroke-width="2" />
<line x1="656.5" y1="258.0" x2="656.5" y2="268.0" stroke="#262626" stroke-width="2" />
<line x1="817.8" y1="424.0" x2="817.8" y2="414.0" stroke="#262626" stroke-width="2" />
<line x1="817.8" y1="258.0" x2="817.8" y2="268.0" stroke="#262626" stroke-width="2" />
<line x1="979.0" y1="424.0" x2="979.0" y2="414.0" stroke="#262626" stroke-width="2" />
<line x1="979.0" y1="258.0" x2="979.0" y2="268.0" stroke="#262626" stroke-width="2" />
<line x1="172.8" y1="424.0" x2="182.8" y2="424.0" stroke="#262626" stroke-width="2" />
<line x1="1140.3" y1="424.0" x2="1130.3" y2="424.0" stroke="#262626" stroke-width="2" />
<text x="162.6" y="436.2" font-size="32.5" text-anchor="end" fill="#262626" font-weight="normal" >-5</text>
<line x1="172.8" y1="341.0" x2="182.8" y2="341.0" stroke="#262626" stroke-width="2" />
<line x1="1140.3" y1="341.0" x2="1130.3" y2="341.0" stroke="#262626" stroke-width="2" />
<text x="162.6" y="353.2" font-size="32.5" text-anchor="end" fill="#262626" font-weight="normal" >0</text>
<line x1="172.8" y1="262.0" x2="182.8" y2="262.0" stroke="#262626" stroke-width="2" />
<line x1="1140.3" y1="262.0" x2="1130.3" y2="262.0" stroke="#262626" stroke-width="2" />
<text x="162.6" y="274.2" font-size="32.5" text-anchor="end" fill="#262626" font-weight="normal" >5</text>
<text transform="translate(117.6,339.0) rotate(-90)" text-anchor="middle" fill="#262626" font-size="35.2"><tspan font-size="35.2" dy="0.0" >fgs B (nT)</tspan></text>
<text x="288.4" y="464.4" font-size="31.5" fill="#000" font-weight="normal">B</text>
<text x="311.0" y="478.2" font-size="24.5" fill="#000" font-weight="normal">L</text>
<text x="356.8" y="464.6" font-size="31.5" fill="#0000ff" font-weight="bold">ΔVi</text>
<text x="405.4" y="478.2" font-size="24.5" fill="#0000ff" font-weight="normal">L</text>
<line x1="334.1" y1="470.0" x2="334.1" y2="636.5" stroke="#dfdfdf" stroke-width="2" />
<line x1="495.3" y1="470.0" x2="495.3" y2="636.5" stroke="#dfdfdf" stroke-width="2" />
<line x1="656.5" y1="470.0" x2="656.5" y2="636.5" stroke="#dfdfdf" stroke-width="2" />
<line x1="817.8" y1="470.0" x2="817.8" y2="636.5" stroke="#dfdfdf" stroke-width="2" />
<line x1="979.0" y1="470.0" x2="979.0" y2="636.5" stroke="#dfdfdf" stroke-width="2" />
<line x1="172.8" y1="488.7" x2="1140.3" y2="488.7" stroke="#dfdfdf" stroke-width="2" />
<line x1="172.8" y1="544.7" x2="1140.3" y2="544.7" stroke="#dfdfdf" stroke-width="2" />
<line x1="172.8" y1="600.7" x2="1140.3" y2="600.7" stroke="#dfdfdf" stroke-width="2" />
<polyline points="172.3,556.7 174.6,555.2 176.9,558.2 179.9,560.5 183.0,564.3 185.3,566.6 187.6,565.9 189.1,561.3 191.4,562.8 194.4,565.1 197.5,566.6 200.6,568.1 202.9,571.2 205.9,572.7 209.0,572.0 210.5,569.7 212.8,572.0 215.1,574.3 217.4,572.0 219.7,568.9 222.0,573.5 224.2,564.3 225.8,556.7 228.1,556.7 230.4,560.5 232.7,557.5 234.9,559.7 237.2,565.1 240.3,566.6 242.6,567.4 244.9,565.1 247.9,567.4 251.0,570.4 253.3,572.0 255.6,568.9 257.9,572.0 259.4,575.0 261.7,576.6 264.0,578.8 266.3,577.3 269.3,578.1 271.6,582.7 273.9,585.7 276.2,582.7 278.5,580.4 280.0,575.8 282.3,586.5 285.4,583.4 287.7,584.2 290.0,588.8 293.0,591.1 295.3,596.4 297.6,593.4 299.9,594.9 302.2,591.8 305.2,588.8 307.5,575.0 310.6,573.5 313.6,575.0 316.7,573.5 319.0,570.4 321.3,566.6 324.3,570.4 327.4,575.0 329.7,579.6 332.0,572.0 334.3,570.4 337.3,585.7 339.6,570.4 341.9,578.1 345.0,582.7 348.0,585.7 350.3,581.1 351.8,578.1 354.1,579.6 355.7,565.9 358.0,575.0 360.3,570.4 362.5,587.2 364.8,573.5 367.1,559.7 369.4,558.2 371.7,560.5 374.0,565.9 377.1,564.3 379.4,560.5 383.2,559.7 385.5,558.2 387.8,568.9 390.0,568.9 393.1,572.0 396.2,565.9 398.5,559.7 400.7,562.8 403.0,562.8 405.3,529.2 407.6,497.9 409.9,503.2 413.0,512.4 415.3,521.5 417.6,526.1 420.0,526.1 421.5,535.3 423.8,526.1 425.3,538.3 426.8,576.6 429.1,587.2 430.6,590.3 432.9,579.6 435.2,573.5 437.5,570.4 439.8,576.6 442.1,575.0 444.4,578.1 447.4,579.6 449.7,585.7 452.0,587.2 454.3,578.1 456.6,570.4 458.9,558.2 462.0,562.8 463.5,572.0 465.8,579.6 468.8,575.0 471.1,565.9 473.4,558.2 475.7,556.7 478.8,556.7 481.8,559.7 483.3,546.0 486.4,541.4 489.5,542.9 492.5,546.0 494.8,555.2 497.1,567.4 499.4,562.8 501.7,556.7 504.0,572.0 506.3,562.8 509.3,565.9 512.4,561.3 515.4,558.2 517.7,564.3 520.8,567.4 523.8,568.9 526.9,568.9 530.0,575.0 532.2,564.3 534.5,568.9 537.6,572.0 540.7,568.9 543.7,564.3 546.8,561.3 549.1,556.7 551.4,543.7 554.4,542.9 557.5,543.7 560.5,547.5 562.8,553.6 565.1,555.2 567.4,553.6 570.5,552.1 572.7,549.0 575.0,550.6 576.6,562.8 578.9,552.1 581.1,547.5 584.2,550.6 587.3,550.6 590.3,549.0 593.4,565.9 595.7,552.1 598.0,547.5 601.0,544.5 603.3,556.7 604.8,570.4 607.1,538.3 609.4,536.8 611.7,542.9 614.8,552.1 617.8,558.2 620.9,553.6 623.9,555.2 627.0,556.7 630.0,558.2 633.1,553.6 636.2,562.8 639.2,555.2 642.3,547.5 645.3,552.1 648.4,562.8 651.4,555.2 654.5,547.5 657.6,558.2 660.0,564.3 662.6,559.7 664.9,544.5 667.2,565.9 669.5,562.8 672.6,562.8 674.9,558.2 677.9,555.2 681.0,553.6 683.3,541.4 685.6,547.5 687.1,555.2 689.4,556.7 692.4,553.6 696.3,552.1 699.3,549.0 702.4,542.9 705.4,539.9 708.5,533.8 710.8,529.2 713.1,556.7 715.4,559.7 716.9,530.7 717.7,513.9 719.9,503.2 722.2,480.3 724.5,495.6 726.8,500.1 729.9,495.6 732.9,494.0 735.2,495.6 738.3,483.3 740.6,471.1 742.1,484.9 743.3,515.4 745.2,498.6 746.7,497.1 749.0,506.3 751.3,515.4 752.8,520.0 755.1,510.8 757.4,506.3 759.7,510.8 762.0,510.8 765.0,513.9 768.1,517.0 770.4,520.0 772.7,523.1 774.2,526.1 775.7,535.3 778.0,530.7 780.3,536.8 782.6,530.7 784.9,524.6 787.2,518.5 789.5,527.7 791.8,530.7 794.1,541.4 796.4,533.8 798.6,538.3 800.9,541.4 802.5,575.0 804.0,576.6 805.5,542.9 807.8,523.1 810.1,536.8 812.4,547.5 814.7,555.2 817.0,558.2 819.3,564.3 822.3,587.2 824.6,575.0 826.9,559.7 829.2,555.2 831.5,555.2 833.0,572.0 834.6,596.4 836.8,627.0 838.4,634.6 840.7,622.4 843.7,623.9 845.3,570.4 847.5,602.5 849.8,623.9 851.4,602.5 853.7,575.0 855.9,585.7 859.0,596.4 861.3,579.6 863.6,570.4 865.9,590.3 868.2,578.1 870.5,572.0 873.5,576.6 875.8,562.8 878.9,567.4 881.2,587.2 884.2,593.4 887.3,594.9 889.6,572.0 891.9,553.6 894.9,558.2 898.0,558.2 901.0,559.0 905.0,561.3 908.4,558.2 911.5,561.3 914.5,565.9 917.6,565.9 919.9,572.0 922.2,576.6 924.4,588.8 926.0,605.6 928.3,611.7 929.8,619.3 931.3,628.5 932.9,579.6 933.9,526.1 935.9,515.4 938.2,526.1 940.5,533.8 942.8,533.8 945.8,536.8 948.9,532.2 952.0,526.1 953.5,532.2 955.8,541.4 958.1,544.5 960.4,555.2 962.7,559.7 964.9,570.4 967.2,575.0 970.3,576.6 972.6,585.7 974.9,578.1 977.2,575.0 979.5,585.7 981.8,597.9 984.0,610.2 986.3,593.4 988.6,578.1 990.2,591.8 991.7,601.0 994.0,596.4 996.3,596.4 998.6,575.0 1001.6,575.0 1003.9,576.6 1005.4,570.4 1007.7,570.4 1010.0,573.5 1013.1,568.9 1016.1,565.9 1018.4,564.3 1020.0,572.0 1021.5,588.8 1023.8,575.0 1026.1,565.9 1029.1,568.9 1031.4,575.0 1033.7,579.6 1036.0,565.9 1038.3,570.4 1040.6,572.0 1043.6,568.9 1046.7,568.9 1049.8,570.4 1052.8,572.0 1055.1,570.4 1057.4,572.0 1059.7,573.5 1062.0,581.1 1064.3,587.2 1067.3,587.2 1069.6,593.4 1072.7,597.9 1075.0,594.9 1078.0,594.9 1081.1,593.4 1084.1,593.4 1086.4,587.2 1089.5,581.1 1091.8,578.1 1094.8,581.1 1097.9,582.7 1100.9,582.7 1103.2,578.1 1105.5,572.0 1108.6,565.9 1110.9,562.8 1113.2,559.7 1115.5,556.7 1118.5,555.2 1121.6,553.6 1123.9,556.7 1126.2,562.8 1128.5,556.7 1130.7,550.6 1133.0,532.2 1136.1,532.2 1137.6,538.3 1138.7,538.3" fill="none" stroke="#000" stroke-width="4.2" stroke-linejoin="round"  stroke-linecap="round"/>
<polyline points="173.1,553.6 175.3,549.0 177.6,544.5 179.9,538.3 182.2,535.3 185.3,533.8 187.6,535.3 189.1,539.9 191.4,541.4 194.4,539.9 197.5,539.1 200.6,540.6 202.9,536.8 205.1,533.8 208.2,536.1 210.5,536.1 214.3,533.8 216.6,536.8 218.9,539.9 222.0,539.1 224.2,544.5 225.8,550.6 228.1,553.6 230.4,554.4 232.7,552.1 234.9,546.0 238.0,544.5 240.3,540.6 243.3,539.9 246.4,542.9 248.7,541.4 251.8,539.9 254.0,544.5 256.3,543.7 258.6,536.8 260.9,532.2 264.0,532.2 267.0,534.5 269.3,536.1 272.4,530.7 275.4,531.5 278.5,532.2 281.6,536.1 283.8,529.9 286.1,530.7 289.2,535.3 291.5,533.8 293.8,527.7 296.8,526.1 299.1,528.4 302.9,523.1 305.2,529.2 307.5,538.3 309.8,542.9 312.9,539.9 315.9,537.6 318.2,539.9 321.3,544.5 324.3,544.5 327.4,542.9 330.5,539.9 332.7,542.2 335.0,539.9 338.1,537.6 340.4,536.8 342.7,533.0 345.0,539.9 347.3,538.3 349.6,532.2 351.8,527.7 354.1,530.7 355.7,544.5 358.0,552.1 361.0,552.9 363.3,544.5 365.6,542.2 367.9,553.6 369.4,561.3 372.5,556.7 375.5,556.7 377.8,559.7 380.9,555.2 383.2,553.6 386.2,559.7 388.5,552.1 390.8,550.6 393.1,549.0 395.4,546.0 397.7,553.6 400.0,556.7 402.3,552.1 403.8,555.2 406.1,576.6 408.4,597.9 410.7,599.5 413.0,590.3 415.3,585.7 417.6,584.2 420.0,572.0 420.7,573.5 423.8,575.0 426.0,572.0 427.6,556.7 429.1,538.3 430.6,536.8 432.9,542.9 436.0,544.5 439.0,541.4 442.1,541.4 445.1,538.3 448.2,535.3 451.3,534.5 454.3,538.3 457.4,541.4 460.4,546.0 462.7,539.9 465.0,536.8 468.1,539.9 470.4,544.5 473.4,547.5 476.5,549.8 479.5,550.6 481.8,552.1 484.9,559.7 487.9,558.2 491.0,555.2 494.0,553.6 497.1,552.1 500.2,553.6 502.5,549.0 504.7,542.9 507.0,542.2 509.3,546.0 512.4,549.8 515.4,552.1 518.5,551.3 521.6,548.3 523.8,542.9 526.1,546.0 529.2,546.0 532.2,544.5 534.5,548.3 536.8,542.9 539.1,539.9 541.4,542.9 543.7,546.0 546.0,549.0 548.3,544.5 549.8,544.5 551.4,552.1 553.6,558.2 556.7,556.7 559.0,552.1 561.3,549.8 564.3,550.6 567.4,551.3 570.5,552.1 574.3,553.6 576.6,547.5 578.9,545.2 581.1,552.1 583.4,564.3 585.7,555.2 588.0,550.6 590.3,547.5 593.4,546.0 595.7,549.8 598.0,555.2 600.3,558.2 602.5,541.4 604.1,534.5 606.4,547.5 608.7,564.3 611.7,562.8 614.8,555.2 617.8,552.9 620.9,553.6 623.9,553.6 627.0,555.2 630.0,555.2 633.1,553.6 636.2,550.6 639.2,549.0 642.3,555.2 645.3,562.8 648.4,557.5 650.7,562.8 653.0,565.9 656.0,562.8 660.0,553.6 662.6,550.6 664.9,558.2 667.2,561.3 669.5,556.7 671.8,552.1 674.1,550.6 676.4,559.7 679.4,561.3 682.5,565.9 685.6,565.9 687.9,561.3 690.1,552.9 693.2,556.7 696.3,561.3 699.3,565.9 702.4,570.4 705.4,575.0 707.7,573.5 709.2,582.7 711.5,575.0 713.8,561.3 715.4,570.4 716.9,587.2 718.4,599.5 720.7,610.2 723.0,615.5 726.1,613.2 729.9,609.4 732.9,611.7 735.2,617.8 738.3,627.0 741.3,634.6 743.6,617.8 745.2,597.9 746.7,596.4 748.2,604.1 750.5,591.8 752.8,579.6 755.1,591.8 757.4,599.5 759.7,594.9 762.0,593.4 765.0,591.8 768.1,584.2 770.4,582.7 772.7,584.2 775.7,579.6 779.5,579.6 782.6,581.1 784.9,587.2 787.9,588.8 790.2,582.7 792.5,578.1 794.8,572.0 797.9,572.0 800.2,559.7 802.5,546.0 804.8,549.0 807.0,567.4 810.1,578.1 812.4,564.3 814.7,559.7 817.0,556.7 819.3,561.3 820.8,549.0 823.1,536.8 825.4,539.9 826.9,555.2 830.0,547.5 832.3,541.4 834.6,535.3 836.1,513.9 837.6,487.9 839.1,483.3 840.7,497.1 843.0,500.1 845.3,513.9 847.5,513.9 849.1,495.6 850.6,483.3 852.1,504.7 854.4,532.2 856.7,530.7 859.0,526.1 861.3,530.7 863.6,539.9 865.9,532.2 868.2,524.6 870.5,529.2 873.5,532.2 875.8,538.3 878.1,542.9 880.4,529.2 882.7,507.8 885.0,506.3 887.3,512.4 889.6,529.2 891.9,544.5 894.2,552.1 896.4,546.0 899.5,541.4 902.6,539.9 905.0,541.4 907.6,545.2 910.7,541.4 913.8,536.8 916.8,534.5 919.9,534.5 922.9,533.8 925.2,523.1 927.5,509.3 929.8,495.6 931.3,483.3 932.9,503.2 934.4,541.4 935.5,581.1 938.2,584.2 940.5,575.0 942.8,568.9 945.8,568.1 948.9,572.0 952.0,579.6 954.2,576.6 956.5,564.3 959.6,559.7 962.7,555.2 964.9,549.0 967.2,533.8 969.5,530.7 972.6,527.7 974.9,536.8 977.2,549.0 979.5,533.8 981.8,521.5 984.8,521.5 987.9,526.1 989.4,542.9 991.7,532.2 994.0,518.5 996.3,527.7 998.6,541.4 1000.9,549.0 1003.9,547.5 1006.2,548.3 1008.5,541.4 1010.8,539.9 1013.1,544.5 1015.4,542.9 1017.7,549.0 1020.0,553.6 1022.2,541.4 1023.8,533.8 1026.1,546.0 1028.4,551.3 1031.4,550.6 1033.7,547.5 1036.0,554.4 1038.3,553.6 1040.6,544.5 1043.6,542.9 1046.7,541.4 1049.0,539.9 1052.0,542.2 1055.1,541.4 1058.2,539.9 1060.5,535.3 1062.7,529.2 1065.0,528.4 1068.1,532.2 1070.4,526.1 1071.9,517.0 1075.0,515.4 1078.0,517.0 1081.1,520.8 1083.4,522.3 1086.4,521.5 1089.5,530.7 1091.8,538.3 1094.8,539.9 1097.9,539.9 1100.9,539.9 1104.0,539.9 1106.3,546.0 1108.6,551.3 1110.9,550.6 1113.2,544.5 1115.5,544.5 1117.0,555.2 1120.0,552.1 1123.1,547.5 1126.2,542.9 1129.2,549.0 1132.3,553.6 1135.3,556.7 1137.6,559.7 1138.7,562.8" fill="none" stroke="#0000ff" stroke-width="4.2" stroke-linejoin="round"  stroke-linecap="round"/>
<rect x="172.8" y="470.0" width="967.5" height="166.5" fill="none" stroke="#262626" stroke-width="2"/>
<line x1="334.1" y1="636.5" x2="334.1" y2="626.5" stroke="#262626" stroke-width="2" />
<line x1="334.1" y1="470.0" x2="334.1" y2="480.0" stroke="#262626" stroke-width="2" />
<line x1="495.3" y1="636.5" x2="495.3" y2="626.5" stroke="#262626" stroke-width="2" />
<line x1="495.3" y1="470.0" x2="495.3" y2="480.0" stroke="#262626" stroke-width="2" />
<line x1="656.5" y1="636.5" x2="656.5" y2="626.5" stroke="#262626" stroke-width="2" />
<line x1="656.5" y1="470.0" x2="656.5" y2="480.0" stroke="#262626" stroke-width="2" />
<line x1="817.8" y1="636.5" x2="817.8" y2="626.5" stroke="#262626" stroke-width="2" />
<line x1="817.8" y1="470.0" x2="817.8" y2="480.0" stroke="#262626" stroke-width="2" />
<line x1="979.0" y1="636.5" x2="979.0" y2="626.5" stroke="#262626" stroke-width="2" />
<line x1="979.0" y1="470.0" x2="979.0" y2="480.0" stroke="#262626" stroke-width="2" />
<line x1="172.8" y1="488.7" x2="182.8" y2="488.7" stroke="#262626" stroke-width="2" />
<line x1="1140.3" y1="488.7" x2="1130.3" y2="488.7" stroke="#262626" stroke-width="2" />
<text x="162.6" y="500.9" font-size="32.5" text-anchor="end" fill="#262626" font-weight="normal" >2</text>
<line x1="172.8" y1="544.7" x2="182.8" y2="544.7" stroke="#262626" stroke-width="2" />
<line x1="1140.3" y1="544.7" x2="1130.3" y2="544.7" stroke="#262626" stroke-width="2" />
<text x="162.6" y="556.9" font-size="32.5" text-anchor="end" fill="#262626" font-weight="normal" >0</text>
<line x1="172.8" y1="600.7" x2="182.8" y2="600.7" stroke="#262626" stroke-width="2" />
<line x1="1140.3" y1="600.7" x2="1130.3" y2="600.7" stroke="#262626" stroke-width="2" />
<text x="162.6" y="612.9" font-size="32.5" text-anchor="end" fill="#262626" font-weight="normal" >-2</text>
<line x1="1140.3" y1="636.5" x2="1155.0" y2="636.5" stroke="#262626" stroke-width="2" />
<line x1="1155.0" y1="468.6" x2="1155.0" y2="638.0" stroke="#0000ff" stroke-width="4" />
<line x1="1155.0" y1="470.5" x2="1150.0" y2="470.5" stroke="#0000ff" stroke-width="2" />
<text x="1164.3" y="482.7" font-size="32.5" text-anchor="start" fill="#0000ff" font-weight="normal" >20</text>
<line x1="1155.0" y1="550.0" x2="1150.0" y2="550.0" stroke="#0000ff" stroke-width="2" />
<text x="1164.3" y="562.2" font-size="32.5" text-anchor="start" fill="#0000ff" font-weight="normal" >0</text>
<line x1="1155.0" y1="629.5" x2="1150.0" y2="629.5" stroke="#0000ff" stroke-width="2" />
<text x="1164.3" y="641.7" font-size="32.5" text-anchor="start" fill="#0000ff" font-weight="normal" >-20</text>
<text transform="translate(104.2,551.2) rotate(-90)" text-anchor="middle" fill="#262626" font-size="35.2"><tspan font-size="35.2" dy="0.0" >B</tspan><tspan font-size="28.2" dy="16.3" >L</tspan><tspan font-size="35.2" dy="-16.3" dx="3"> (nT)</tspan></text>
<text transform="translate(1254.5,553.5) rotate(-90)" text-anchor="middle" fill="#0000ff" font-size="32.5"><tspan font-size="32.5" dy="0.0" >ΔVi</tspan><tspan font-size="26" dy="15.0" >L</tspan><tspan font-size="32.5" dy="-15.0" dx="3"> (km/s)</tspan></text>
<text x="288.4" y="675.8" font-size="31.5" fill="#000" font-weight="normal">B</text>
<text x="310.3" y="689.6" font-size="24.5" fill="#000" font-weight="normal">M</text>
<text x="356.8" y="675.8" font-size="31.5" fill="#0000ff" font-weight="bold">ΔVi</text>
<text x="405.0" y="689.6" font-size="24.5" fill="#0000ff" font-weight="normal">M</text>
<line x1="334.1" y1="683.0" x2="334.1" y2="849.0" stroke="#dfdfdf" stroke-width="2" />
<line x1="495.3" y1="683.0" x2="495.3" y2="849.0" stroke="#dfdfdf" stroke-width="2" />
<line x1="656.5" y1="683.0" x2="656.5" y2="849.0" stroke="#dfdfdf" stroke-width="2" />
<line x1="817.8" y1="683.0" x2="817.8" y2="849.0" stroke="#dfdfdf" stroke-width="2" />
<line x1="979.0" y1="683.0" x2="979.0" y2="849.0" stroke="#dfdfdf" stroke-width="2" />
<line x1="172.8" y1="766.0" x2="1140.3" y2="766.0" stroke="#dfdfdf" stroke-width="2" />
<polyline points="172.3,748.3 173.8,763.6 175.3,754.4 176.9,763.6 178.4,757.5 179.9,766.6 182.2,755.9 184.5,769.7 186.8,768.2 189.1,762.0 191.4,769.7 193.7,763.6 196.0,765.1 198.3,772.7 200.6,768.2 202.9,765.1 205.1,769.7 207.4,768.2 209.7,756.7 212.0,760.5 214.3,755.9 216.6,752.9 218.9,759.0 222.0,768.9 223.5,749.8 225.8,759.0 227.3,736.1 229.6,723.8 231.1,717.7 233.4,728.4 235.7,736.1 237.2,749.8 239.5,757.5 241.8,763.6 243.3,775.8 245.6,765.1 247.9,766.6 250.2,757.5 252.5,746.8 254.8,742.9 257.9,743.7 260.2,746.0 261.7,733.0 263.2,749.8 265.5,746.8 267.0,736.1 269.3,743.7 271.6,739.1 273.9,731.5 276.2,733.0 277.7,745.2 280.0,752.9 282.3,743.7 284.6,739.9 286.9,742.2 289.2,743.7 291.5,752.9 293.8,745.2 296.1,757.5 298.4,765.1 300.7,759.0 302.9,766.6 305.2,759.0 308.3,755.9 309.8,751.3 312.1,762.0 314.4,762.8 316.7,751.3 319.0,740.7 321.3,751.3 323.6,765.1 325.9,774.3 328.2,749.8 330.5,768.2 332.7,765.1 335.8,766.6 338.1,769.7 340.4,774.3 342.7,780.4 345.0,777.3 347.3,785.0 349.6,788.0 352.6,781.9 354.9,774.3 356.4,763.6 359.5,768.2 361.8,746.8 364.1,723.8 366.4,714.7 368.7,713.1 370.9,723.8 373.2,733.0 374.8,739.1 377.1,728.4 379.4,716.2 382.4,716.2 383.9,717.7 386.2,728.4 388.5,719.3 390.8,714.7 393.9,708.6 396.2,713.1 399.2,714.7 401.5,717.7 403.0,728.4 405.3,730.0 406.1,746.8 406.9,778.9 409.2,777.3 411.4,774.3 413.7,777.3 416.0,785.0 418.3,794.1 420.0,820.1 420.7,705.5 422.2,714.7 423.8,733.0 425.3,731.5 426.8,754.4 428.3,777.3 429.9,794.1 432.2,803.3 434.4,797.2 436.7,791.1 439.0,788.0 442.1,797.2 444.4,786.5 447.4,783.4 449.7,781.9 451.3,783.4 453.6,763.6 455.8,743.7 458.1,722.3 460.4,728.4 462.7,734.5 465.0,748.3 467.3,737.6 469.6,733.0 471.9,723.8 474.2,728.4 476.5,731.5 479.5,731.5 481.8,726.9 483.3,708.6 485.6,711.6 488.7,710.1 491.0,714.7 493.3,725.4 494.8,739.1 496.3,754.4 497.9,768.2 500.2,749.8 501.7,755.9 503.2,765.1 504.7,791.1 507.0,798.7 509.3,786.5 511.6,785.0 513.9,772.7 515.4,757.5 517.0,763.6 519.3,769.7 520.8,760.5 523.1,765.1 526.1,771.2 529.2,769.7 532.2,772.7 534.5,768.2 537.6,765.1 540.7,763.6 543.7,762.0 546.0,763.6 547.5,769.7 549.1,751.3 551.4,742.2 553.6,746.8 555.9,752.9 559.0,749.8 562.0,751.3 564.3,754.4 565.9,759.0 567.4,746.8 570.5,743.7 573.5,742.2 575.8,737.6 578.9,734.5 581.1,728.4 583.4,717.7 586.5,723.8 588.0,742.2 590.3,766.6 592.6,771.2 594.9,766.6 597.2,754.4 599.5,742.2 601.8,755.9 603.3,769.7 605.6,751.3 607.9,743.7 610.2,742.2 612.5,748.3 614.8,759.0 617.1,749.8 618.6,736.1 620.9,739.1 623.2,736.1 624.7,707.0 626.2,704.0 628.5,714.7 630.0,737.6 632.3,731.5 634.6,725.4 636.9,728.4 639.2,725.4 641.5,716.2 643.8,723.8 646.1,736.1 648.4,742.2 650.7,752.9 653.0,749.8 655.3,743.7 657.6,728.4 660.0,730.0 661.1,757.5 663.4,777.3 664.9,733.0 666.5,757.5 668.8,777.3 671.0,778.9 673.3,775.8 675.6,788.0 677.9,783.4 680.2,775.8 682.5,785.0 684.8,789.6 686.3,795.7 687.9,809.4 690.1,797.2 692.4,778.9 694.7,781.9 697.0,781.9 699.3,774.3 701.6,763.6 703.9,769.7 707.0,769.7 709.2,772.7 711.5,778.9 713.1,757.5 715.4,766.6 717.7,785.0 719.9,778.9 722.2,785.0 724.5,763.6 727.6,760.5 729.1,789.6 731.4,800.2 733.7,810.9 736.0,797.2 738.3,795.7 739.8,818.6 741.3,836.9 742.9,749.8 745.2,760.5 747.5,763.6 749.7,772.7 752.0,768.2 754.3,766.6 756.6,777.3 758.9,772.7 761.2,769.7 764.3,768.2 767.3,766.6 771.1,762.0 774.2,762.0 775.7,748.3 778.8,746.8 781.8,745.2 784.1,748.3 786.4,755.9 788.7,762.0 791.0,754.4 793.3,765.1 794.8,754.4 797.1,763.6 799.4,749.8 801.7,723.8 804.0,716.2 806.3,733.0 808.6,734.5 810.9,725.4 813.2,736.1 815.5,740.7 817.0,696.3 818.5,690.2 820.8,708.6 823.1,711.6 824.6,739.1 826.9,742.2 829.2,746.8 831.5,763.6 833.8,740.7 835.3,743.7 837.6,757.5 839.9,762.0 842.2,755.9 844.5,759.0 846.8,765.1 849.1,778.9 850.6,789.6 852.1,754.4 854.4,740.7 857.5,733.0 859.8,719.3 862.1,705.5 864.4,731.5 866.6,748.3 868.9,733.0 871.2,722.3 873.5,728.4 875.0,714.7 878.1,713.1 880.4,728.4 881.9,746.8 883.5,766.6 885.7,759.0 888.0,752.9 891.1,749.8 893.4,751.3 895.7,749.8 898.0,752.9 900.3,745.2 902.6,743.7 905.0,745.2 907.6,751.3 910.7,751.3 913.0,745.2 915.3,749.8 917.6,752.9 919.9,739.1 922.2,746.8 924.4,754.4 926.0,768.2 928.3,769.7 930.6,771.2 932.1,739.1 934.4,708.6 935.9,707.0 939.0,710.1 941.3,726.9 943.6,734.5 945.8,730.0 948.1,730.0 949.7,707.0 952.0,691.8 954.2,705.5 956.5,726.9 958.1,748.3 960.4,743.7 962.7,746.8 964.9,752.9 967.2,760.5 969.5,765.1 971.8,768.2 974.1,769.7 975.6,752.9 977.2,760.5 978.7,781.9 981.0,804.8 982.5,812.5 984.8,804.8 987.9,806.4 990.2,810.9 991.7,785.0 994.0,768.2 995.5,748.3 997.8,754.4 1000.1,748.3 1002.4,751.3 1004.7,749.8 1007.0,754.4 1009.3,760.5 1011.6,763.6 1013.8,754.4 1016.1,752.9 1019.2,751.3 1021.5,746.8 1023.8,742.2 1026.1,739.1 1029.1,742.2 1030.7,769.7 1033.7,763.6 1036.0,766.6 1038.3,768.2 1040.6,765.1 1043.6,763.6 1046.7,760.5 1049.8,759.0 1052.8,757.5 1055.9,765.1 1058.9,762.0 1062.0,757.5 1064.3,757.5 1067.3,760.5 1070.4,762.0 1073.4,763.6 1076.5,763.6 1079.6,762.0 1082.6,760.5 1085.7,759.0 1088.7,752.9 1091.0,748.3 1093.3,746.8 1096.4,751.3 1099.4,752.9 1102.5,751.3 1105.5,745.2 1107.8,742.2 1110.9,749.8 1113.9,740.7 1116.2,739.1 1119.3,737.6 1121.6,739.1 1123.9,751.3 1126.2,751.3 1128.5,736.1 1130.7,734.5 1133.0,722.3 1135.3,736.1 1137.6,749.8 1138.7,739.1" fill="none" stroke="#000" stroke-width="4.2" stroke-linejoin="round"  stroke-linecap="round"/>
<polyline points="172.3,809.4 174.6,794.1 176.9,788.0 179.2,791.1 182.2,783.4 185.3,788.0 188.3,791.1 190.6,797.2 192.9,798.7 196.0,798.7 199.0,797.2 202.9,794.1 205.9,797.2 209.0,800.2 212.0,801.8 215.1,806.4 217.4,810.2 219.7,803.3 222.0,796.4 225.0,797.2 227.3,798.7 228.8,807.9 230.4,820.1 231.9,826.2 234.2,821.6 236.5,817.1 238.8,800.2 241.1,792.6 244.1,791.8 247.2,792.6 250.2,797.2 252.5,803.3 254.8,812.5 257.1,817.1 259.4,817.1 261.7,821.6 264.0,821.6 266.3,816.3 268.6,820.1 271.6,824.7 274.7,830.8 277.0,821.6 279.3,810.9 281.6,818.6 283.8,824.7 286.9,821.6 289.2,817.1 291.5,807.9 294.5,807.9 297.6,798.7 299.9,803.3 302.2,807.9 305.2,806.4 307.5,810.9 309.8,810.9 312.1,807.9 314.4,809.4 317.5,820.1 319.8,824.7 322.0,821.6 324.3,812.5 326.6,808.7 328.9,812.5 331.2,810.9 333.5,804.8 335.8,815.5 337.3,810.9 339.6,801.8 342.7,801.8 345.0,806.4 347.3,803.3 348.8,792.6 351.1,781.9 353.4,785.0 355.7,803.3 358.7,803.3 361.0,815.5 363.3,836.9 365.6,844.6 367.9,845.3 370.2,836.9 372.5,829.3 374.8,824.7 377.1,823.2 379.4,833.9 381.6,841.5 383.9,832.3 386.2,829.3 388.5,832.3 390.8,840.0 393.1,843.0 396.2,840.0 399.2,838.5 402.3,839.2 404.6,824.7 406.9,809.4 409.9,807.9 412.2,812.5 414.5,810.9 416.8,794.1 418.3,800.2 419.7,815.5 421.5,830.8 423.8,846.1 426.0,840.0 427.6,824.7 429.1,806.4 430.6,797.2 432.9,792.6 436.0,791.1 439.0,789.6 442.1,785.0 444.4,786.5 446.7,792.6 449.0,795.7 451.3,789.6 453.6,789.6 455.8,795.7 458.1,803.3 460.4,812.5 462.7,803.3 465.0,800.2 467.3,803.3 469.6,809.4 471.9,814.0 474.2,807.9 476.5,798.7 478.8,792.6 481.1,797.2 483.3,809.4 485.6,823.2 487.9,818.6 490.2,815.5 493.3,812.5 495.6,800.2 497.9,788.0 500.9,786.5 503.2,781.9 504.7,763.6 506.3,740.7 507.8,748.3 509.3,757.5 511.6,765.1 513.9,774.3 516.2,778.9 518.5,780.4 520.8,775.8 523.1,775.8 526.1,777.3 528.4,778.9 530.7,780.4 533.0,774.3 535.3,771.2 537.6,774.3 539.9,777.3 542.2,778.9 544.5,780.4 546.8,772.7 549.1,781.9 550.6,791.1 553.6,788.0 555.9,785.0 558.2,788.0 560.5,792.6 562.8,789.6 565.9,792.6 568.9,795.7 572.0,798.7 575.0,801.8 577.3,804.8 579.6,803.3 581.9,809.4 584.2,815.5 586.5,814.0 588.0,798.7 589.6,781.9 591.1,775.8 593.4,775.8 595.7,772.7 598.0,785.0 600.3,792.6 602.5,777.3 604.1,763.6 606.4,771.2 608.7,788.0 611.7,789.6 614.0,780.4 616.3,772.7 618.6,777.3 620.9,780.4 623.2,780.4 624.7,798.7 627.0,803.3 630.0,798.7 633.1,795.7 635.4,798.7 637.7,792.6 640.0,798.7 642.3,804.8 645.3,803.3 647.6,794.1 649.9,791.1 652.2,791.1 654.5,794.1 656.8,803.3 658.3,777.3 660.0,766.6 661.9,760.5 664.2,769.7 666.5,777.3 668.8,763.6 671.0,749.8 674.1,745.2 677.2,743.7 679.4,748.3 681.7,749.8 684.8,742.2 687.9,723.8 690.1,733.0 692.4,742.2 695.5,748.3 698.6,749.8 700.8,754.4 703.9,759.0 706.2,755.9 708.5,749.8 710.8,755.9 713.8,755.9 716.1,748.3 718.4,743.7 721.5,745.2 724.5,751.3 727.6,754.4 729.9,742.2 731.4,731.5 734.5,728.4 737.5,723.8 739.8,714.7 741.3,700.9 743.6,716.2 745.2,736.1 746.7,751.3 749.0,755.9 750.5,752.9 752.8,757.5 755.9,760.5 758.1,759.0 760.4,762.0 763.5,763.6 766.6,765.1 768.8,769.7 771.9,768.2 774.2,769.7 776.5,775.8 778.8,780.4 781.8,779.6 784.1,775.8 786.4,769.7 788.7,768.2 791.8,772.7 794.1,769.7 796.4,768.2 798.6,781.9 800.9,794.1 804.0,798.0 807.0,797.2 809.3,794.1 812.4,789.6 815.5,788.0 817.7,806.4 820.0,832.3 822.3,817.1 824.6,797.2 826.9,778.9 829.2,783.4 832.3,778.9 834.6,775.8 836.8,777.3 838.4,768.2 840.7,766.6 843.7,771.2 846.0,763.6 848.3,755.9 850.6,746.8 852.1,755.9 854.4,775.8 856.7,792.6 859.8,801.8 862.1,804.8 864.4,794.1 866.6,786.5 868.9,785.0 871.2,797.2 873.5,809.4 875.8,814.0 878.1,816.3 880.4,804.8 882.7,780.4 885.0,765.1 887.3,772.7 889.6,785.0 891.9,789.6 894.9,788.0 898.0,791.1 901.0,785.0 903.3,789.6 905.0,788.0 907.6,792.6 909.9,788.0 913.0,787.3 915.3,788.0 917.6,780.4 919.9,785.0 922.9,786.5 925.2,781.9 927.5,774.3 929.8,766.6 931.3,760.5 932.9,769.7 934.4,788.0 935.9,809.4 938.2,817.1 940.5,817.1 943.6,812.5 945.8,804.8 947.4,798.7 949.7,809.4 952.0,824.7 954.2,823.2 956.5,803.3 958.8,792.6 961.1,791.1 963.4,795.7 965.7,785.0 968.0,778.9 970.3,775.8 973.3,772.7 975.6,781.9 977.9,791.1 979.5,769.7 981.0,742.2 982.5,736.1 984.8,739.1 987.1,739.1 989.4,739.1 991.7,754.4 994.0,769.7 996.3,781.9 999.3,794.1 1001.6,798.7 1003.9,797.2 1006.2,791.1 1008.5,781.9 1010.8,775.8 1013.8,777.3 1016.1,785.0 1018.4,791.1 1021.5,788.0 1023.8,788.0 1026.1,794.1 1029.1,792.6 1030.7,778.9 1032.9,769.7 1035.2,777.3 1038.3,777.3 1041.4,775.8 1044.4,771.2 1047.5,772.7 1050.5,772.7 1052.8,777.3 1055.9,775.8 1058.9,775.8 1062.0,776.6 1064.3,772.7 1067.3,765.1 1070.4,766.6 1073.4,768.2 1076.5,766.6 1079.6,765.9 1082.6,768.2 1084.9,771.2 1087.2,774.3 1090.3,771.2 1092.5,774.3 1095.6,778.9 1097.9,772.7 1100.2,769.7 1103.2,768.2 1105.5,772.7 1108.6,774.3 1111.6,772.7 1113.9,778.9 1117.0,787.3 1119.3,778.9 1121.6,768.2 1123.9,761.3 1126.2,769.7 1128.5,788.0 1130.7,791.1 1133.0,791.1 1135.3,785.0 1138.4,778.9" fill="none" stroke="#0000ff" stroke-width="4.2" stroke-linejoin="round"  stroke-linecap="round"/>
<rect x="172.8" y="683.0" width="967.5" height="166.0" fill="none" stroke="#262626" stroke-width="2"/>
<line x1="334.1" y1="849.0" x2="334.1" y2="839.0" stroke="#262626" stroke-width="2" />
<line x1="334.1" y1="683.0" x2="334.1" y2="693.0" stroke="#262626" stroke-width="2" />
<line x1="495.3" y1="849.0" x2="495.3" y2="839.0" stroke="#262626" stroke-width="2" />
<line x1="495.3" y1="683.0" x2="495.3" y2="693.0" stroke="#262626" stroke-width="2" />
<line x1="656.5" y1="849.0" x2="656.5" y2="839.0" stroke="#262626" stroke-width="2" />
<line x1="656.5" y1="683.0" x2="656.5" y2="693.0" stroke="#262626" stroke-width="2" />
<line x1="817.8" y1="849.0" x2="817.8" y2="839.0" stroke="#262626" stroke-width="2" />
<line x1="817.8" y1="683.0" x2="817.8" y2="693.0" stroke="#262626" stroke-width="2" />
<line x1="979.0" y1="849.0" x2="979.0" y2="839.0" stroke="#262626" stroke-width="2" />
<line x1="979.0" y1="683.0" x2="979.0" y2="693.0" stroke="#262626" stroke-width="2" />
<line x1="172.8" y1="683.0" x2="182.8" y2="683.0" stroke="#262626" stroke-width="2" />
<line x1="1140.3" y1="683.0" x2="1130.3" y2="683.0" stroke="#262626" stroke-width="2" />
<text x="162.6" y="695.2" font-size="32.5" text-anchor="end" fill="#262626" font-weight="normal" >2</text>
<line x1="172.8" y1="766.0" x2="182.8" y2="766.0" stroke="#262626" stroke-width="2" />
<line x1="1140.3" y1="766.0" x2="1130.3" y2="766.0" stroke="#262626" stroke-width="2" />
<text x="162.6" y="778.2" font-size="32.5" text-anchor="end" fill="#262626" font-weight="normal" >0</text>
<line x1="172.8" y1="849.0" x2="182.8" y2="849.0" stroke="#262626" stroke-width="2" />
<line x1="1140.3" y1="849.0" x2="1130.3" y2="849.0" stroke="#262626" stroke-width="2" />
<text x="162.6" y="861.2" font-size="32.5" text-anchor="end" fill="#262626" font-weight="normal" >-2</text>
<line x1="1140.3" y1="849.0" x2="1155.0" y2="849.0" stroke="#262626" stroke-width="2" />
<line x1="1155.0" y1="681.1" x2="1155.0" y2="850.4" stroke="#0000ff" stroke-width="4" />
<line x1="1155.0" y1="682.6" x2="1150.0" y2="682.6" stroke="#0000ff" stroke-width="2" />
<text x="1164.3" y="694.8" font-size="32.5" text-anchor="start" fill="#0000ff" font-weight="normal" >20</text>
<line x1="1155.0" y1="735.2" x2="1150.0" y2="735.2" stroke="#0000ff" stroke-width="2" />
<text x="1164.3" y="747.4" font-size="32.5" text-anchor="start" fill="#0000ff" font-weight="normal" >10</text>
<line x1="1155.0" y1="787.8" x2="1150.0" y2="787.8" stroke="#0000ff" stroke-width="2" />
<text x="1164.3" y="800.0" font-size="32.5" text-anchor="start" fill="#0000ff" font-weight="normal" >0</text>
<line x1="1155.0" y1="840.4" x2="1150.0" y2="840.4" stroke="#0000ff" stroke-width="2" />
<text x="1164.3" y="852.6" font-size="32.5" text-anchor="start" fill="#0000ff" font-weight="normal" >-10</text>
<text transform="translate(104.4,762.8) rotate(-90)" text-anchor="middle" fill="#262626" font-size="35.2"><tspan font-size="35.2" dy="0.0" >B</tspan><tspan font-size="28.2" dy="16.3" >M</tspan><tspan font-size="35.2" dy="-16.3" dx="3"> (nT)</tspan></text>
<text transform="translate(1254.5,767.0) rotate(-90)" text-anchor="middle" fill="#0000ff" font-size="32.5"><tspan font-size="32.5" dy="0.0" >ΔVi</tspan><tspan font-size="26" dy="15.0" >M</tspan><tspan font-size="32.5" dy="-15.0" dx="3"> (km/s)</tspan></text>
<line x1="334.1" y1="896.0" x2="334.1" y2="1062.3" stroke="#dfdfdf" stroke-width="2" />
<line x1="495.3" y1="896.0" x2="495.3" y2="1062.3" stroke="#dfdfdf" stroke-width="2" />
<line x1="656.5" y1="896.0" x2="656.5" y2="1062.3" stroke="#dfdfdf" stroke-width="2" />
<line x1="817.8" y1="896.0" x2="817.8" y2="1062.3" stroke="#dfdfdf" stroke-width="2" />
<line x1="979.0" y1="896.0" x2="979.0" y2="1062.3" stroke="#dfdfdf" stroke-width="2" />
<line x1="172.8" y1="979.1" x2="1140.3" y2="979.1" stroke="#dfdfdf" stroke-width="2" />
<line x1="173.3" y1="912.6" x2="1140.3" y2="912.6" stroke="#000" stroke-width="3" stroke-dasharray="20,12.1"/>
<polyline points="172.3,949.6 173.8,954.2 175.3,940.4 176.9,927.4 178.4,955.7 179.9,929.7 181.5,957.2 183.0,929.7 184.5,954.2 186.8,955.7 188.3,943.5 189.9,955.7 192.2,955.7 193.7,942.7 195.2,954.2 197.5,960.3 199.8,966.4 201.3,967.9 202.9,943.5 205.1,954.2 207.4,967.2 209.0,960.3 210.5,948.1 212.8,955.7 214.3,948.1 215.8,945.0 217.4,955.7 218.9,940.4 220.4,954.2 222.0,971.0 223.5,924.4 224.7,924.4" fill="none" stroke="#000" stroke-width="4" stroke-linejoin="round" stroke-linecap="butt"/>
<polyline points="230.4,925.1 231.9,934.3 233.4,938.9 235.7,941.2" fill="none" stroke="#000" stroke-width="4" stroke-linejoin="round" stroke-linecap="butt"/>
<polyline points="241.8,962.6 243.3,954.2 244.9,945.0 246.4,957.2 248.7,955.7 251.0,942.0 253.3,949.6 255.6,942.0 257.9,948.1 259.4,963.3 260.9,934.3 262.5,954.2 264.7,954.2 267.0,942.0 269.3,945.0 270.9,957.2 272.4,946.5 274.7,938.9 277.0,940.4 279.3,948.1 281.6,963.3 283.8,945.0 285.4,945.0 287.7,954.2 290.0,957.2 291.5,960.3 293.8,942.7 296.1,951.1 298.4,952.7 300.7,943.5 302.2,954.2 304.5,957.2 306.0,963.3 307.5,966.4 309.8,964.9 311.4,977.1 314.4,980.2 315.9,969.5 317.5,951.1 319.0,942.0 321.3,948.1 322.8,963.3 324.3,980.2 325.1,995.4" fill="none" stroke="#000" stroke-width="4" stroke-linejoin="round" stroke-linecap="butt"/>
<polyline points="341.9,978.6 344.2,992.4" fill="none" stroke="#000" stroke-width="4" stroke-linejoin="round" stroke-linecap="butt"/>
<polyline points="351.8,954.2 353.4,951.1" fill="none" stroke="#000" stroke-width="4" stroke-linejoin="round" stroke-linecap="butt"/>
<polyline points="362.5,955.7 364.1,922.1 367.1,919.0 369.4,917.5 371.7,931.3 374.0,948.1 377.1,957.2 378.6,938.9 379.4,925.1 381.6,928.2 383.9,926.7 386.2,952.7 387.8,945.0 390.0,925.1 392.3,928.2 394.6,925.1 396.2,920.6 398.5,916.0 400.0,925.1 402.3,916.0 404.6,945.0 406.9,943.5 409.2,938.9 411.4,943.5 413.7,951.1 416.0,958.8 418.3,969.5 419.9,925.1 422.2,924.4 423.8,945.0 425.3,922.1 426.5,922.1 427.6,981.7 428.3,1032.1" fill="none" stroke="#000" stroke-width="4" stroke-linejoin="round" stroke-linecap="butt"/>
<polyline points="485.6,925.9 487.9,934.3 490.2,942.0 493.3,948.1" fill="none" stroke="#000" stroke-width="4" stroke-linejoin="round" stroke-linecap="butt"/>
<polyline points="504.0,962.6 505.5,955.7 507.0,949.6 508.6,957.2 509.3,963.3 511.6,968.7" fill="none" stroke="#000" stroke-width="4" stroke-linejoin="round" stroke-linecap="butt"/>
<polyline points="515.4,1020.7 517.0,1006.1 518.5,991.6 520.8,1003.1 523.1,993.9 525.4,981.7 527.7,992.4 530.0,987.8 532.2,979.4 534.5,984.0 536.1,985.5" fill="none" stroke="#000" stroke-width="4" stroke-linejoin="round" stroke-linecap="butt"/>
<polyline points="582.7,926.7 585.7,932.0" fill="none" stroke="#000" stroke-width="4" stroke-linejoin="round" stroke-linecap="butt"/>
<polyline points="643.0,942.0 646.1,961.1" fill="none" stroke="#000" stroke-width="4" stroke-linejoin="round" stroke-linecap="butt"/>
<polyline points="652.2,940.4 655.3,935.8 656.5,936.6" fill="none" stroke="#000" stroke-width="4" stroke-linejoin="round" stroke-linecap="butt"/>
<polyline points="661.1,931.3 662.6,931.3 664.2,987.8 666.5,981.7 668.8,942.7 671.0,948.1 674.1,947.3 676.4,932.8 678.7,932.0 681.0,940.4 683.3,946.5 685.6,938.9 687.9,932.8 690.1,943.5 692.4,945.0 694.7,955.7 696.3,942.0 697.8,942.7 699.3,966.4 701.6,958.8 703.9,958.8 706.2,947.3 708.5,949.6 710.8,936.6 713.1,1006.1 714.6,937.4 716.9,935.8 719.2,925.1 722.2,924.4 724.5,930.5 726.8,932.8 729.1,928.2 731.4,926.7 734.5,920.6 737.5,924.4 739.8,924.4 741.3,916.7 743.6,947.3 745.9,929.0 748.2,929.7 750.5,931.3 752.8,936.6 755.1,929.7 757.4,929.0 759.7,932.8 762.0,931.3 764.3,923.6 766.6,933.6 768.8,925.1 771.1,925.1 773.4,919.8 775.7,935.8 778.0,932.8 780.3,931.3 782.6,934.3 784.9,929.7 787.2,925.1 789.5,926.7 791.8,922.1 794.1,938.1 796.4,931.3 798.6,929.7" fill="none" stroke="#000" stroke-width="4" stroke-linejoin="round" stroke-linecap="butt"/>
<polyline points="807.8,931.3 810.1,947.3" fill="none" stroke="#000" stroke-width="4" stroke-linejoin="round" stroke-linecap="butt"/>
<polyline points="817.0,942.0 819.3,937.4 822.3,934.3" fill="none" stroke="#000" stroke-width="4" stroke-linejoin="round" stroke-linecap="butt"/>
<polyline points="833.0,976.3 835.3,935.8 837.6,929.7 839.9,932.8 842.2,938.9 844.5,928.2 846.0,942.0 848.3,929.7 849.8,935.8 851.4,929.7 853.7,930.5 854.4,949.6 856.7,942.0 859.0,948.1 862.1,953.4" fill="none" stroke="#000" stroke-width="4" stroke-linejoin="round" stroke-linecap="butt"/>
<polyline points="865.9,942.0 868.2,945.0 870.5,971.0 872.8,942.0 875.0,951.1 877.3,948.1 879.6,943.5 882.7,937.4 885.0,935.1 887.3,938.9 890.3,942.0 891.9,966.4 894.2,972.5 896.4,978.6 898.7,981.7 901.0,1019.9 903.1,989.3 905.3,978.6 907.6,975.6 909.9,954.2 912.2,989.3 914.5,945.0 916.8,984.7 919.9,981.7 922.2,974.0 924.4,955.7 926.7,943.5 929.0,937.4 931.3,935.8 932.1,981.7 933.6,1054.3 935.1,989.3 935.9,938.9 939.0,938.9 941.3,946.5 942.8,957.2 945.1,948.1 948.1,952.7 950.4,943.5 952.7,938.9 955.0,938.9 957.3,942.0" fill="none" stroke="#000" stroke-width="4" stroke-linejoin="round" stroke-linecap="butt"/>
<polyline points="968.0,936.6 973.3,942.7" fill="none" stroke="#000" stroke-width="4" stroke-linejoin="round" stroke-linecap="butt"/>
<polyline points="979.5,938.1 981.8,926.7 984.0,925.1 987.1,921.3 989.4,924.4 991.7,952.7 993.2,935.8 994.7,919.0" fill="none" stroke="#000" stroke-width="4" stroke-linejoin="round" stroke-linecap="butt"/>
<polyline points="1060.5,961.8 1062.7,955.7 1065.8,952.7 1068.1,958.8 1070.4,951.1 1072.7,932.8 1075.0,926.7 1078.0,925.9 1081.1,929.7 1083.4,937.4 1085.7,945.0 1088.0,952.7 1090.3,955.7 1091.8,972.5" fill="none" stroke="#000" stroke-width="4" stroke-linejoin="round" stroke-linecap="butt"/>
<rect x="172.8" y="896.0" width="967.5" height="166.3" fill="none" stroke="#262626" stroke-width="2"/>
<line x1="334.1" y1="1062.3" x2="334.1" y2="1052.3" stroke="#262626" stroke-width="2" />
<line x1="334.1" y1="896.0" x2="334.1" y2="906.0" stroke="#262626" stroke-width="2" />
<line x1="495.3" y1="1062.3" x2="495.3" y2="1052.3" stroke="#262626" stroke-width="2" />
<line x1="495.3" y1="896.0" x2="495.3" y2="906.0" stroke="#262626" stroke-width="2" />
<line x1="656.5" y1="1062.3" x2="656.5" y2="1052.3" stroke="#262626" stroke-width="2" />
<line x1="656.5" y1="896.0" x2="656.5" y2="906.0" stroke="#262626" stroke-width="2" />
<line x1="817.8" y1="1062.3" x2="817.8" y2="1052.3" stroke="#262626" stroke-width="2" />
<line x1="817.8" y1="896.0" x2="817.8" y2="906.0" stroke="#262626" stroke-width="2" />
<line x1="979.0" y1="1062.3" x2="979.0" y2="1052.3" stroke="#262626" stroke-width="2" />
<line x1="979.0" y1="896.0" x2="979.0" y2="906.0" stroke="#262626" stroke-width="2" />
<line x1="172.8" y1="1062.3" x2="182.8" y2="1062.3" stroke="#262626" stroke-width="2" />
<line x1="1140.3" y1="1062.3" x2="1130.3" y2="1062.3" stroke="#262626" stroke-width="2" />
<text x="162.6" y="1074.5" font-size="32.5" text-anchor="end" fill="#262626" font-weight="normal" >0</text>
<line x1="172.8" y1="979.1" x2="182.8" y2="979.1" stroke="#262626" stroke-width="2" />
<line x1="1140.3" y1="979.1" x2="1130.3" y2="979.1" stroke="#262626" stroke-width="2" />
<text x="162.6" y="991.4" font-size="32.5" text-anchor="end" fill="#262626" font-weight="normal" >100</text>
<line x1="172.8" y1="896.0" x2="182.8" y2="896.0" stroke="#262626" stroke-width="2" />
<line x1="1140.3" y1="896.0" x2="1130.3" y2="896.0" stroke="#262626" stroke-width="2" />
<text x="162.6" y="908.2" font-size="32.5" text-anchor="end" fill="#262626" font-weight="normal" >200</text>
<text transform="translate(80.3,976.0) rotate(-90)" text-anchor="middle" fill="#262626" font-size="35.2"><tspan font-size="35.2" dy="0.0" font-family="'Liberation Serif', serif" font-style="italic">θ</tspan><tspan font-size="28.2" dy="16.3" >vb</tspan><tspan font-size="35.2" dy="-16.3" dx="3"> (deg)</tspan></text>
<text x="334.1" y="1104.7" font-size="32.5" text-anchor="middle" fill="#262626" font-weight="normal" >14:55</text>
<text x="495.3" y="1104.7" font-size="32.5" text-anchor="middle" fill="#262626" font-weight="normal" >15:00</text>
<text x="656.5" y="1104.7" font-size="32.5" text-anchor="middle" fill="#262626" font-weight="normal" >15:05</text>
<text x="817.8" y="1104.7" font-size="32.5" text-anchor="middle" fill="#262626" font-weight="normal" >15:10</text>
<text x="979.0" y="1104.7" font-size="32.5" text-anchor="middle" fill="#262626" font-weight="normal" >15:15</text>
<text x="17.8" y="1103.9" font-size="30.45" text-anchor="start" fill="#000" font-weight="normal" >UT (hh:mm)</text>
<text x="17.6" y="1143.4" font-size="32.5" text-anchor="start" fill="#000" font-weight="normal" >20191126</text>
<text x="170.8" y="1143.4" font-size="32.4" text-anchor="start" fill="#000" font-weight="normal" >Artemis P1</text>
<polyline points="1450.3,226.9 1453.2,228.7 1452.0,231.8 1457.1,230.2 1456.9,225.4 1459.9,224.4 1462.9,223.5 1463.6,221.1 1469.5,219.3 1469.1,217.3 1472.5,217.1 1475.2,215.6 1478.8,215.0 1481.7,215.8 1481.3,217.6 1483.1,218.9 1484.5,221.0 1486.6,223.3 1493.7,221.3 1495.0,223.6 1497.5,222.8 1501.2,223.4 1502.8,219.8 1504.7,217.7 1507.3,215.6 1507.5,213.9 1509.1,211.2 1511.3,210.3 1513.7,209.7 1515.3,204.9 1516.8,202.5 1520.2,200.9 1521.8,200.8 1526.0,202.3 1530.2,199.8 1530.9,197.4 1534.1,196.5 1537.1,194.3 1539.5,192.3 1541.6,191.5 1545.6,189.6 1546.0,190.8 1549.5,189.0 1552.7,186.2 1556.7,188.0 1557.3,188.8 1559.8,189.9" fill="none" stroke="#000" stroke-width="2.6" stroke-linejoin="round"  stroke-linecap="round"/>
<polyline points="1530.5,200.6 1530.3,196.4 1530.1,193.4 1529.1,192.2 1529.1,186.7 1528.5,184.5 1530.5,183.0 1531.1,181.1 1531.0,177.1 1530.1,174.2 1527.8,171.5 1530.2,167.9 1533.7,166.2 1531.9,161.9 1534.9,158.3 1536.9,156.4 1539.8,156.8 1541.9,156.3 1545.7,154.7 1548.8,153.8 1549.4,150.3 1551.9,152.6 1555.2,151.2 1557.7,146.5 1561.7,147.5 1562.2,147.2 1564.5,144.1 1568.6,144.9 1570.4,144.4 1572.8,140.4 1575.4,139.5 1574.2,137.4 1576.8,135.5 1576.9,133.2 1579.0,135.8 1578.7,139.3 1578.8,141.1 1576.5,144.9 1577.3,147.1 1575.7,150.4 1572.7,152.7 1572.1,155.2 1574.8,159.3 1571.6,161.1 1570.2,161.7 1570.1,167.2 1568.6,169.9 1571.1,171.2 1575.0,171.9 1579.2,169.5 1577.9,168.0 1580.0,168.2 1584.0,164.3 1583.1,170.0 1581.2,172.6 1584.1,177.2 1586.4,177.3 1589.0,180.7 1592.6,182.4 1594.6,181.0 1598.9,181.4 1602.0,184.0 1604.6,183.4 1610.0,186.9 1611.6,186.7 1612.8,186.8 1616.8,184.8 1622.9,183.5 1624.0,185.0 1625.4,186.2 1628.6,189.2 1629.2,194.1 1632.2,194.4 1636.3,197.9 1638.6,198.0 1641.1,198.9 1640.3,200.9 1643.8,200.2 1645.8,199.2 1648.0,194.6 1645.9,191.3 1648.5,195.0 1648.0,196.0 1648.9,200.4 1650.9,200.1 1654.4,198.5 1656.2,198.8 1659.4,195.6 1662.6,197.6 1665.3,199.2 1666.2,200.2 1668.7,200.4 1671.7,202.9 1672.6,204.7 1672.9,207.9 1674.5,210.9 1675.5,214.6 1674.7,215.0 1677.7,218.3 1676.9,218.9 1679.3,223.4 1681.4,223.5 1682.0,228.6 1683.5,229.2 1684.3,231.5 1687.6,235.1 1686.2,237.2 1686.6,239.8 1686.0,243.2 1686.9,246.3 1687.3,249.5 1687.3,251.3 1687.4,253.3 1688.1,256.4 1685.5,260.9 1687.4,262.2 1687.5,266.5 1687.1,267.5 1685.3,270.2 1683.8,273.8" fill="none" stroke="#000" stroke-width="2.6" stroke-linejoin="round"  stroke-linecap="round"/>
<polyline points="1531.7,203.5 1532.9,203.1 1535.6,208.0 1538.3,207.0 1540.5,205.1 1542.6,208.1 1545.5,211.8 1548.2,212.1 1550.0,215.6 1552.1,219.3 1555.1,219.8 1557.8,219.1 1561.3,219.1 1558.8,218.7 1556.5,214.5 1554.5,211.4 1552.2,209.8 1550.0,206.9 1548.2,202.4 1547.2,201.4 1542.6,198.7 1543.2,197.9 1543.5,194.5 1546.1,192.7 1549.3,193.5 1552.1,192.8 1556.1,195.9 1558.1,197.5 1558.0,194.9 1558.5,191.9 1557.8,188.2 1556.2,183.6 1556.8,183.0 1555.1,179.0 1552.4,177.8 1549.5,176.8 1549.6,173.1 1546.3,174.1 1542.2,175.2 1542.1,177.7 1536.8,175.9 1535.6,178.9 1532.5,174.5 1530.9,173.5 1534.9,169.6 1539.5,169.2 1542.8,167.6 1545.8,166.6 1545.9,164.5 1550.2,163.9 1551.7,165.8 1557.7,167.2 1556.8,170.3 1557.9,173.6 1559.8,176.4 1559.8,179.4" fill="none" stroke="#000" stroke-width="2.6" stroke-linejoin="round"  stroke-linecap="round"/>
<polyline points="1578.3,222.2 1577.8,221.9 1580.6,226.7 1582.4,227.0 1584.7,231.4 1586.5,232.8 1590.8,235.7 1590.4,232.2 1588.9,231.7 1588.0,227.1 1586.5,224.4 1590.7,227.7 1593.0,228.9 1595.2,230.4 1596.9,232.1 1598.3,234.4 1597.2,235.5 1599.8,238.4 1601.5,241.6 1604.1,239.2 1606.0,234.5 1607.9,235.1 1610.2,234.6 1611.8,231.8 1615.3,232.0 1618.0,233.2 1620.9,233.1 1623.4,234.1 1625.4,234.9 1628.7,235.1 1631.0,237.2 1634.0,238.6 1636.0,240.7 1638.5,235.5 1638.0,233.8 1639.8,231.9 1644.2,232.6 1646.3,231.5 1647.0,230.4 1650.7,226.9 1652.4,224.8" fill="none" stroke="#000" stroke-width="2.6" stroke-linejoin="round"  stroke-linecap="round"/>
<polyline points="1626.1,196.9 1624.7,199.2 1623.3,198.5 1622.1,196.5 1621.2,194.9 1621.1,193.1 1620.9,191.7 1623.4,191.1 1622.4,190.2 1622.1,191.8 1623.4,192.7 1624.7,192.8 1625.5,194.7 1624.1,197.1 1625.0,198.9 1627.6,200.5 1629.4,201.5 1631.8,202.5 1629.9,203.3 1626.7,201.4 1624.9,201.2 1624.2,198.4 1623.7,196.2 1622.4,194.7 1622.7,192.2 1620.1,189.7 1622.7,192.2 1624.1,191.4 1621.3,192.2 1620.7,195.4 1617.8,195.4 1616.6,197.7 1614.9,198.4 1611.9,198.4 1610.8,199.7 1608.2,199.6 1605.7,200.1 1603.1,197.8 1600.1,196.4 1598.6,199.7 1602.0,201.5 1600.7,204.0 1597.7,203.5 1596.6,206.4 1593.6,205.2 1591.5,206.4 1588.9,204.3 1592.0,206.3 1594.2,208.6 1596.8,207.7 1597.7,209.2 1595.3,210.9 1592.2,210.5 1591.2,209.0 1590.6,207.2 1588.5,207.1 1587.7,203.5 1586.9,200.7 1587.6,198.5 1586.3,197.1 1586.9,195.2 1590.1,194.9 1591.0,192.5 1591.4,189.9 1592.9,190.5 1594.5,192.5 1596.8,192.5 1598.8,194.8 1601.4,196.5 1601.9,198.9 1599.8,200.1 1599.5,203.6 1597.1,205.7 1593.8,204.8 1593.0,206.6 1591.7,207.0 1590.0,206.1 1591.1,203.7 1593.0,204.5 1592.4,206.6 1594.6,207.9 1596.7,208.6 1599.0,205.9 1598.5,203.5 1597.8,202.3 1597.8,200.4 1596.5,198.0 1594.9,196.0 1596.9,194.3 1599.4,196.8 1600.0,198.3 1601.4,200.9 1601.3,202.5 1601.5,205.0 1604.1,205.0 1604.6,206.6 1605.7,208.1 1607.5,210.7 1607.6,212.3 1605.8,214.7 1603.2,213.4 1601.1,215.6 1600.8,217.0 1598.3,218.2 1596.1,219.9 1593.8,222.3 1592.2,220.8 1591.8,217.2 1590.1,213.9 1589.9,211.8 1588.6,211.3 1586.4,211.6 1587.8,211.4 1588.6,209.6 1590.4,208.8 1591.7,211.8 1590.4,213.8 1588.4,215.9 1586.5,215.2 1589.2,217.2 1589.2,219.5 1587.3,221.5 1589.5,223.1 1589.3,225.1 1592.3,227.2 1591.1,230.6 1591.0,234.0 1592.5,234.5 1594.2,234.1 1595.7,232.8 1597.5,231.1 1599.1,230.2 1600.5,232.6 1601.4,234.1 1604.9,234.5 1607.6,232.5 1609.3,233.1 1608.5,234.4 1608.1,235.8 1606.7,236.6 1604.7,235.9 1603.9,234.7 1603.1,233.7 1601.2,232.9 1600.1,230.7 1600.3,229.3 1600.8,227.5 1598.1,225.9 1596.5,225.0 1595.5,222.9 1592.0,222.4" fill="none" stroke="#000" stroke-width="2.6" stroke-linejoin="round"  stroke-linecap="round"/>
<polyline points="1618.2,222.3 1615.3,220.9 1615.3,219.4 1618.6,218.6 1620.5,217.4 1622.9,217.2 1625.7,217.7 1626.7,214.7 1629.7,212.6 1632.7,212.8 1633.9,214.1 1636.3,216.9 1635.5,218.0 1632.6,217.1 1631.0,217.2 1630.2,215.4 1630.0,213.9 1630.1,211.6 1629.2,210.1 1626.0,211.8 1624.7,212.0 1621.4,211.6 1619.0,214.4 1616.4,213.7 1616.8,211.9 1614.7,211.1 1611.7,213.5 1612.5,215.6 1611.5,216.5 1612.7,218.9 1613.8,219.7 1615.2,222.9 1616.7,222.5 1617.0,220.0 1618.1,218.3 1619.7,218.4 1620.1,220.3 1621.9,220.5 1625.3,221.6 1627.0,219.2 1628.7,217.3 1630.6,217.4 1631.1,219.5 1632.6,221.7 1633.9,224.5 1632.0,227.6 1633.1,229.0 1632.3,232.3 1634.2,235.3 1633.4,236.5 1634.3,237.8 1637.2,235.6 1639.7,236.3 1638.5,235.1 1636.9,236.4 1634.5,237.0 1637.9,235.9 1639.3,235.0 1642.7,233.4 1641.2,236.0 1638.8,238.1 1636.0,236.4 1634.4,235.6 1632.2,237.2 1632.4,234.6 1634.0,232.8 1635.2,230.1 1633.9,227.8 1636.1,225.5 1636.6,223.9 1634.4,222.9 1632.3,224.2 1632.0,227.4 1634.7,228.7 1637.8,229.1 1637.6,231.6 1640.0,232.2 1640.1,234.7 1639.7,236.1 1637.5,233.2 1637.1,231.8 1639.8,231.0 1639.4,229.4 1642.1,226.9 1643.8,227.0 1646.3,225.5 1648.6,227.5 1650.0,229.1 1651.2,231.1 1649.1,228.4 1648.3,226.0 1646.8,226.5 1645.4,226.2 1645.1,224.7 1647.2,223.0 1649.9,222.1 1649.2,219.3 1646.6,216.9 1645.3,216.4 1642.9,214.6 1642.6,210.9 1644.8,209.9 1644.7,212.6 1643.6,215.5 1643.9,217.5 1641.5,219.3 1641.9,223.1 1639.2,223.8 1639.2,226.9 1642.4,227.7 1645.3,229.1 1646.0,232.8 1642.9,233.5 1640.2,231.9 1638.1,229.7 1636.1,228.3 1632.9,229.1 1631.0,227.7 1629.1,229.8 1627.3,233.3 1626.1,234.0 1623.0,231.9 1621.0,231.0 1619.7,231.5 1618.1,230.7 1617.2,229.1 1614.9,228.4 1612.5,225.9 1610.9,224.4 1612.9,221.4 1613.2,218.7 1611.8,218.3 1612.1,216.7 1611.3,215.2 1608.7,216.3 1605.5,214.2 1604.1,215.6 1606.0,217.7 1607.5,216.7 1611.2,216.7 1612.2,214.4 1613.1,211.7 1613.8,210.0 1612.3,206.7 1611.3,205.5 1609.2,205.9 1607.5,205.3 1605.6,207.5 1603.1,209.5 1599.9,208.1 1597.2,206.4" fill="none" stroke="#000" stroke-width="2.6" stroke-linejoin="round"  stroke-linecap="round"/>
<polyline points="1600.8,198.4 1598.9,198.6 1598.2,201.1 1596.4,203.4 1594.1,203.9 1594.3,205.8 1592.5,207.5 1589.9,209.1 1588.3,208.6 1589.9,205.3 1592.6,205.4 1596.2,206.3 1598.2,206.4 1599.0,207.8 1598.6,210.7 1599.4,214.4 1599.1,216.1 1599.5,219.8 1602.9,220.3 1606.2,221.2 1606.1,222.7 1606.5,225.2 1607.2,228.6 1609.0,228.6 1611.4,231.0 1610.5,232.2 1609.2,232.1 1608.2,230.4 1610.4,228.4 1611.5,227.1 1613.6,228.0 1613.3,229.4 1613.3,230.8 1615.1,232.2 1613.2,230.3 1611.1,229.1 1610.1,227.9 1611.6,224.8 1612.9,223.3 1611.0,221.3 1613.4,218.3 1617.1,219.1 1618.5,220.6 1618.1,223.8 1616.1,226.5 1612.5,225.9 1608.9,226.5 1608.6,229.6 1607.5,231.5 1606.1,233.3 1603.2,233.4 1600.1,231.9 1598.8,232.5 1596.4,229.9 1594.7,230.0 1593.7,228.5 1592.1,227.3 1589.5,228.4 1592.0,228.4 1593.5,227.6 1595.8,227.0 1598.0,226.1 1598.3,223.7 1595.0,221.8 1593.9,223.7 1594.0,225.4 1593.7,227.2 1595.4,227.5 1597.6,227.4 1597.7,225.6 1594.3,224.7 1590.8,225.4 1589.2,224.2 1588.4,221.7 1588.9,218.0 1587.6,215.4 1589.0,214.1 1591.9,211.6 1591.9,208.8 1591.3,207.1 1589.9,207.1 1588.4,206.7 1588.7,204.7 1590.9,203.2 1592.0,204.6 1590.2,207.4 1587.4,206.7 1588.5,203.8 1586.3,202.8 1587.7,202.7 1588.4,200.7 1591.5,200.8 1592.9,204.1 1595.5,204.0 1596.1,205.2 1594.7,208.1 1592.1,209.9 1589.4,212.0 1586.7,212.9 1590.0,212.0 1593.6,213.4 1593.0,214.9 1595.4,217.5 1596.8,219.7 1597.0,221.9 1595.8,223.1 1593.4,226.0 1594.2,227.2 1594.7,230.8 1596.1,233.1 1596.1,236.3 1599.7,237.1 1601.8,238.6 1603.7,238.8 1604.0,236.6 1603.2,235.2 1605.1,233.6 1606.9,235.1 1604.8,235.6 1604.5,234.2 1604.0,232.3 1604.0,230.3 1604.9,228.5 1607.7,225.9 1609.6,224.5 1608.2,222.2 1605.4,222.1 1605.1,225.1 1608.5,226.2 1611.3,226.8 1611.6,229.8 1609.4,230.7 1607.0,230.0 1605.3,232.3 1603.5,233.1 1601.2,231.0 1598.3,232.0 1597.1,232.8 1594.5,233.5 1592.0,232.7 1592.0,234.1 1591.9,230.7 1592.8,228.1 1595.3,228.2 1596.9,227.1 1600.7,227.1 1602.1,226.0 1603.8,228.2 1605.4,230.3 1607.3,232.5 1609.6,231.8" fill="none" stroke="#000" stroke-width="2.6" stroke-linejoin="round"  stroke-linecap="round"/>
<polyline points="1605.9,223.9 1603.1,225.3 1601.1,226.8 1602.3,228.6 1603.8,230.6 1605.7,229.7 1607.9,226.8 1611.4,226.0 1611.1,224.1 1611.1,222.7 1608.9,221.0 1607.5,222.8 1609.0,224.1 1608.0,226.2 1609.2,229.7 1607.8,231.0 1606.8,232.5 1604.4,232.9 1601.9,230.7 1600.4,231.5 1597.0,230.4 1594.3,232.6 1594.5,234.8 1593.9,236.4 1595.6,234.7 1597.5,232.8 1596.1,230.8 1598.6,228.9 1599.6,226.0 1599.7,223.2 1598.5,222.7 1597.3,220.5 1593.6,222.0 1591.7,221.9 1588.3,221.8 1589.8,224.2 1591.9,225.4 1591.2,229.1 1592.7,232.2 1595.0,233.6 1596.5,232.0 1597.4,230.9 1600.4,232.2 1600.0,234.8 1601.7,236.4 1603.8,234.8 1605.2,233.4 1608.3,233.9 1606.2,234.9 1604.1,234.4 1603.1,232.0 1601.5,231.8 1600.7,234.5 1601.7,236.4 1600.8,237.5 1597.3,238.3 1595.5,238.0 1599.0,238.5 1599.8,239.6 1600.7,236.4 1599.4,235.3 1597.2,233.1 1594.1,231.6 1590.4,232.0 1589.0,231.5 1590.0,229.9 1588.7,228.7 1592.0,229.6 1595.8,228.8 1597.0,231.6 1600.0,233.7 1602.1,233.4 1603.5,235.5 1602.8,237.7 1601.6,238.7 1603.8,237.1 1602.9,239.4 1600.5,236.9 1598.4,235.9 1594.9,234.8 1595.4,231.3 1596.5,228.9 1598.6,229.8 1600.5,231.7 1600.7,234.2 1597.8,236.5 1595.9,236.1 1599.4,236.9 1601.4,235.8 1600.5,233.1 1598.3,233.0 1596.7,233.5 1593.7,234.1 1591.5,232.7 1589.4,231.5 1591.2,230.1 1592.0,228.1 1594.9,228.1 1595.2,224.9 1598.1,225.2 1598.5,223.2 1596.6,219.8 1599.5,217.4 1601.2,218.5 1600.8,219.8 1601.9,221.0 1599.5,223.3 1600.1,226.8 1603.7,227.1 1604.5,230.9 1605.0,233.3 1603.3,234.9 1603.9,237.3 1600.0,236.6 1597.1,236.2 1596.8,237.9 1598.6,235.1 1600.1,233.3 1601.8,232.7 1602.7,230.0 1604.8,229.6 1604.5,227.0 1601.9,225.6 1600.5,227.2 1598.2,228.0 1596.1,229.8 1594.3,231.4 1592.7,233.5 1595.0,234.3 1596.5,232.9 1596.4,230.5 1596.8,229.3 1596.9,227.3 1596.6,225.5 1598.6,224.9 1597.9,222.4 1598.3,219.5 1598.3,217.6 1594.9,216.7 1594.6,212.9 1592.4,213.1 1591.7,211.7 1589.7,212.6 1587.9,215.3 1589.6,218.5 1592.6,217.2 1594.4,219.9 1595.4,220.7 1596.6,220.2 1598.3,222.1 1600.2,222.9" fill="none" stroke="#000" stroke-width="2.6" stroke-linejoin="round"  stroke-linecap="round"/>
<polyline points="1600.6,239.0 1599.1,236.5 1599.3,233.9 1596.6,231.8 1596.9,230.0 1598.8,227.5 1602.1,226.8 1603.6,228.5 1605.6,231.0 1606.9,230.7 1607.6,227.3 1606.9,225.3 1605.3,225.3 1605.2,223.9 1608.0,223.7 1608.8,222.6 1611.0,223.3 1610.7,224.8 1608.0,226.0 1605.8,224.7 1605.0,222.3 1603.5,221.7 1600.5,220.7 1599.9,222.3 1597.2,221.9 1594.5,221.1 1592.8,222.9 1591.6,225.8 1590.5,228.6 1592.4,225.3 1593.2,223.5 1596.3,224.4 1597.7,222.8 1598.7,221.7 1598.4,220.1 1596.9,219.9 1595.8,216.6 1595.1,214.5 1597.7,212.5 1599.2,210.8 1600.1,211.7 1600.8,214.4 1603.0,216.0 1605.9,214.9 1608.9,215.5 1610.1,216.2 1611.8,213.4 1614.4,215.0 1612.8,218.2 1612.1,221.0 1610.7,220.8 1608.4,223.3 1607.2,222.3 1604.7,219.4 1604.8,215.8 1603.2,214.2 1603.2,212.3 1601.3,209.1 1603.1,207.2 1606.4,205.7 1605.7,204.1 1602.8,202.2 1603.4,199.6 1604.7,199.2 1607.1,198.7 1608.6,199.2 1610.3,198.2 1612.2,197.9 1614.7,196.6 1618.5,196.3 1619.6,195.4 1621.9,197.1 1621.5,199.5 1620.5,201.1 1617.6,201.7 1614.9,202.5 1613.4,202.9 1611.6,204.2 1609.4,202.8 1607.8,204.1 1608.5,205.6 1608.5,208.1 1608.2,209.7 1607.6,213.6 1604.6,214.1 1604.1,212.4 1601.2,210.9 1601.7,209.5 1604.5,208.0 1606.1,207.1 1609.8,207.4 1609.8,209.5 1609.1,212.2 1607.0,212.6 1606.2,213.7 1607.0,216.9 1603.9,219.3 1605.0,221.1 1605.3,222.6 1605.3,225.7 1604.8,228.3 1605.2,231.0 1603.0,231.7 1599.9,233.0 1598.7,233.7 1599.5,235.2 1597.4,238.1 1598.8,237.1 1598.9,235.3 1597.3,233.3 1595.8,230.4 1592.4,230.6 1591.0,233.0 1591.6,231.3 1592.5,230.0 1596.1,230.1 1597.2,233.9 1597.8,235.1 1598.5,237.7 1596.0,237.8 1599.2,238.4 1601.0,239.3 1602.3,239.5 1600.4,236.4 1598.1,234.0 1597.8,231.4 1597.2,227.9 1598.4,226.9 1600.0,228.3 1602.4,229.9 1602.3,231.7 1602.4,235.3 1603.1,237.6 1600.3,239.5 1602.3,238.1 1603.6,235.5 1605.8,234.4 1608.4,231.6 1609.6,232.2 1610.7,231.4 1608.5,230.3 1606.9,231.4 1605.9,232.8 1605.5,235.4 1605.7,233.8 1607.2,231.3 1604.9,229.5 1602.3,229.9 1600.1,230.0 1598.7,233.2 1599.1,236.1" fill="none" stroke="#000" stroke-width="2.6" stroke-linejoin="round"  stroke-linecap="round"/>
<polyline points="1590.8,196.9 1589.8,194.4 1591.8,192.5 1593.4,194.1 1593.9,196.6 1593.9,198.7 1591.1,200.6 1588.3,200.8 1588.1,204.1 1588.8,205.5 1590.8,206.0 1592.3,203.9 1595.1,204.6 1597.3,204.3 1599.0,207.0 1599.8,208.8 1597.4,210.6 1595.6,209.7 1593.9,207.9 1590.6,207.0 1587.3,204.9 1587.4,203.6 1588.1,201.7 1591.5,201.0 1592.8,197.5 1594.4,194.4 1595.7,193.4 1597.8,192.0 1597.5,194.5 1599.2,195.9 1601.2,195.5 1603.3,194.2 1606.3,191.9 1604.8,192.8 1601.8,193.6 1600.5,193.0 1597.3,194.3 1595.1,195.3 1593.5,193.9 1593.1,192.2 1589.6,194.0 1588.2,194.4 1586.7,194.0 1586.0,192.1 1586.5,189.1 1586.5,186.7 1587.0,188.2 1587.2,190.7 1586.8,194.2 1589.6,194.8 1591.9,197.2 1590.4,199.0 1589.7,200.7 1588.5,201.2 1587.8,203.7 1589.1,204.6 1591.2,206.9 1592.2,209.4 1591.1,210.0 1589.2,210.8 1587.7,209.6 1588.0,207.9 1590.1,205.8 1590.8,204.6 1591.9,203.2 1593.9,200.3 1597.0,198.0 1600.4,199.5 1603.0,202.3 1604.9,205.0 1608.4,205.6 1612.3,205.5 1614.2,207.2 1616.2,209.1 1619.9,209.5 1622.7,207.3 1623.1,206.0 1620.6,204.4 1621.2,201.5 1619.8,199.4 1618.2,197.8 1617.3,196.6 1616.3,194.7 1614.8,191.7 1617.2,189.9 1614.6,189.7 1614.1,191.5 1612.5,192.3 1613.3,194.8 1616.8,196.3 1620.7,195.9 1622.0,196.5 1623.1,194.6 1624.8,195.1 1625.6,194.0 1625.7,195.6 1626.7,197.6 1628.4,200.7 1626.9,203.2 1626.8,204.8 1628.9,206.8 1630.9,208.6 1633.8,207.2 1636.6,206.1 1638.0,206.6 1635.9,204.5 1634.8,205.6 1633.2,205.9 1633.1,209.4 1632.6,212.5 1631.0,213.6 1630.6,215.9 1632.3,219.2 1632.0,220.8 1634.6,221.6 1636.5,223.1 1639.6,222.9 1640.1,221.4 1639.5,218.7 1637.9,215.9 1636.0,213.0 1638.8,210.7 1637.6,209.3 1638.4,208.0 1634.9,207.4 1634.0,209.9 1630.4,208.5 1629.0,212.0 1627.8,213.7 1625.4,216.4 1621.8,217.1 1621.0,219.8 1622.9,220.7 1624.4,217.9 1626.9,217.7 1628.6,218.8 1627.2,222.2 1623.8,220.8 1622.3,218.2 1622.6,216.9 1620.9,214.9 1618.0,212.4 1618.1,210.2 1619.6,208.2 1622.4,208.2 1624.0,209.9 1626.7,209.2 1627.8,210.0 1630.9,211.5 1632.0,212.5 1631.2,214.2" fill="none" stroke="#000" stroke-width="2.6" stroke-linejoin="round"  stroke-linecap="round"/>
<polyline points="1592.1,228.1 1592.5,229.4 1590.5,230.3 1591.4,232.0 1592.7,234.9 1594.2,235.8 1596.6,233.2 1596.8,231.2 1600.0,231.5 1601.9,234.1 1604.8,232.4 1606.7,235.8 1603.7,236.1 1601.7,234.7 1602.8,232.3 1604.8,228.9 1607.6,228.9 1611.5,229.3 1613.1,228.9 1614.3,227.9 1617.8,229.2 1618.6,228.0 1620.4,225.2 1621.5,224.0 1623.6,225.1 1625.0,223.0 1625.6,221.7 1625.6,219.7 1624.3,217.7 1622.0,217.8 1620.7,216.5 1619.9,215.3 1618.2,212.9 1617.0,212.2 1614.4,212.8 1612.8,212.5 1611.5,213.3 1609.7,212.9 1610.0,209.4 1608.0,206.7 1605.7,208.0 1603.2,207.0 1600.9,209.3 1599.1,209.9 1598.9,213.4 1602.1,213.9 1604.2,211.3 1606.2,211.2 1607.7,210.2 1611.1,209.9 1614.8,209.2 1617.1,211.8 1620.7,211.1 1622.2,210.5 1624.5,211.7 1625.7,215.0 1626.2,216.5 1627.7,217.5 1627.1,219.1 1623.7,219.6 1621.4,219.1 1620.7,221.2 1621.5,222.5 1621.8,224.2 1622.4,225.9 1623.9,229.3 1624.8,231.8 1623.7,232.8 1621.1,232.4 1617.8,232.8 1619.2,231.9 1620.9,229.8 1622.8,226.9 1623.3,225.3 1622.7,223.3 1621.3,222.9 1620.0,226.2 1617.6,226.5 1616.8,223.6 1615.1,223.5 1614.1,226.5 1613.1,227.4 1613.3,231.0 1611.7,230.3 1610.6,231.7 1607.4,232.0 1604.8,229.1 1602.3,226.2 1604.0,224.2 1602.8,222.5 1601.1,220.3 1599.5,217.1 1600.6,216.4 1602.1,216.5 1605.0,218.8 1607.3,217.8 1610.3,215.3 1613.7,215.1 1616.0,214.4 1619.7,213.5 1620.5,212.4 1623.3,214.3 1622.8,217.9 1621.5,220.3 1618.6,218.7 1617.0,218.6 1614.3,217.0 1612.6,215.5 1611.0,214.8 1611.3,211.5 1611.3,208.3 1613.6,207.5 1614.2,204.1 1616.7,203.7 1619.3,204.1 1620.1,207.0 1620.1,210.1 1619.4,212.7 1617.6,215.3 1618.4,217.0 1619.1,218.8 1620.9,218.8 1622.7,218.9 1622.9,215.3 1620.1,214.9 1617.3,216.0 1614.5,214.8 1612.8,215.0 1610.2,212.6 1607.9,212.1 1608.2,210.2 1606.0,209.5 1604.7,212.0 1603.7,213.1 1601.2,211.6 1599.9,209.7 1598.5,208.1 1595.2,207.4 1592.2,206.9 1591.1,210.4 1591.2,213.5 1589.8,215.1 1588.8,217.3 1591.2,219.9 1591.6,221.6 1591.3,223.2 1588.6,225.0 1590.7,222.7 1593.1,223.2 1594.0,220.9 1597.2,218.7" fill="none" stroke="#000" stroke-width="2.6" stroke-linejoin="round"  stroke-linecap="round"/>
<polyline points="1611.3,211.9 1614.1,212.1 1615.0,215.2 1613.8,216.6 1611.4,214.8 1609.8,212.9 1606.2,212.4 1605.7,214.7 1608.2,217.4 1607.4,218.8 1604.6,218.0 1604.5,214.2 1605.4,212.4 1604.8,211.1 1604.5,209.6 1605.9,209.2 1607.0,210.3 1610.0,211.7 1611.4,211.2 1613.1,208.1 1614.8,208.4 1616.7,206.5 1618.6,204.3 1621.6,205.8 1623.1,206.5 1624.3,204.7 1622.1,203.2 1621.0,201.6 1620.5,199.3 1617.3,197.8 1615.8,198.1 1613.3,196.4 1612.1,197.7 1610.4,198.6 1609.5,199.8 1610.8,201.9 1612.7,203.5 1615.6,202.9 1617.4,200.6 1620.8,201.1 1621.4,198.5 1620.1,196.3 1618.0,195.7 1615.1,194.7 1614.2,195.8 1612.3,196.0 1610.0,198.1 1607.6,198.2 1606.1,198.2 1603.3,199.4 1601.7,198.8 1600.7,197.5 1598.3,198.5 1596.6,196.4 1594.3,198.1 1591.9,199.3 1590.6,198.1 1588.9,196.6 1589.6,195.1 1588.9,193.1 1588.6,195.0 1590.2,195.9 1593.0,194.4 1592.3,192.7 1588.7,193.5 1587.4,194.5 1589.0,197.5 1587.2,200.3 1588.5,201.2 1590.8,200.3 1590.1,197.9 1592.0,197.0 1593.1,195.4 1595.6,196.3 1596.2,197.9 1593.0,199.2 1590.2,198.0 1590.6,196.2 1592.8,194.7 1592.4,193.4 1590.3,191.1 1589.7,189.4 1586.4,190.3 1588.1,190.1 1589.5,190.5 1590.3,188.7 1590.6,191.6 1587.6,193.6 1586.9,190.5 1587.9,189.2 1588.5,187.9 1587.2,187.1 1590.1,189.1 1589.5,192.9 1589.3,194.6 1591.6,197.1 1593.1,196.1 1594.2,193.8 1595.2,192.0 1597.9,192.3 1596.1,195.3 1594.1,196.2 1594.6,198.5 1596.6,199.1 1599.7,198.8 1602.1,197.4 1603.5,195.4 1604.2,193.2 1605.0,195.3 1604.2,198.0 1601.8,199.8 1602.2,203.7 1599.9,204.0 1597.9,203.0 1596.4,202.2 1596.2,199.4 1593.2,199.1 1590.4,198.7 1588.0,197.1 1588.8,198.8 1587.7,200.6 1588.3,203.1 1587.9,205.5 1589.6,206.7 1590.3,208.0 1591.2,209.4 1592.7,211.2 1595.2,213.1 1597.3,212.3 1599.0,213.0 1598.6,215.8 1600.3,217.2 1603.6,215.6 1605.0,216.4 1607.2,216.1 1610.3,216.3 1611.6,217.6 1613.6,218.6 1616.1,217.0 1615.3,215.3 1612.2,216.1 1610.3,213.7 1610.2,211.7 1612.3,209.4 1611.3,206.7 1609.1,204.7 1605.9,206.2 1603.4,204.8 1604.7,202.4 1606.7,202.6 1609.0,203.6" fill="none" stroke="#000" stroke-width="2.6" stroke-linejoin="round"  stroke-linecap="round"/>
<polyline points="1608.5,220.9 1608.5,218.7 1610.9,215.9 1608.8,213.7 1609.9,210.2 1610.7,208.9 1610.9,207.6 1612.7,206.5 1612.9,204.8 1611.3,204.4 1610.3,206.0 1610.1,209.6 1611.8,210.5 1613.6,209.9 1615.4,211.6 1617.2,212.8 1616.5,215.1 1616.0,217.9 1614.1,220.1 1611.5,218.9 1609.4,218.5 1607.5,217.9 1606.5,219.0 1605.1,220.5 1602.5,220.4 1599.8,220.6 1598.6,217.2 1599.2,215.8 1601.1,215.2 1601.1,213.8 1598.8,212.8 1597.6,211.3 1599.0,209.1 1600.5,208.3 1602.5,209.2 1603.8,209.3 1606.5,210.9 1607.8,212.0 1609.5,212.6 1609.9,214.7 1606.8,215.6 1604.3,214.3 1601.3,215.2 1600.6,213.1 1601.4,211.4 1603.3,211.1 1606.3,212.8 1607.6,213.0 1609.0,214.0 1610.7,214.6 1613.5,213.2 1614.9,212.3 1613.3,209.0 1612.2,206.1 1614.2,202.9 1613.3,201.6 1613.8,198.2 1617.2,198.1 1619.0,200.3 1622.4,201.7 1623.6,203.3 1627.1,202.3 1627.7,200.4 1630.5,201.0 1629.1,201.3 1625.7,203.2 1626.2,205.5 1626.5,207.6 1628.2,207.4 1628.4,203.8 1626.9,201.7 1627.4,200.0 1626.5,198.1 1623.0,198.5 1621.9,201.7 1623.3,203.4 1621.3,205.3 1620.3,204.3 1619.9,201.3 1617.8,199.7 1617.0,198.0 1618.0,197.1 1617.9,195.1 1616.4,193.3 1615.3,191.9 1613.6,192.5 1614.0,195.0 1613.0,197.2 1610.1,197.2 1608.5,197.5 1605.9,195.9 1604.5,197.8 1604.8,199.6 1607.7,200.7 1608.3,199.1 1606.3,197.9 1603.6,196.4 1601.9,195.0 1599.3,192.5 1599.0,195.8 1598.5,197.3 1595.2,199.1 1595.2,201.4 1597.1,201.5 1600.7,201.2 1602.0,200.6 1602.0,198.5 1600.7,197.4 1600.4,194.5 1597.9,192.5 1595.9,191.1 1594.1,191.8 1592.3,190.1 1591.1,192.6 1589.2,193.4 1589.7,195.0 1591.4,196.2 1592.7,198.4 1592.5,200.1 1592.0,203.3 1590.4,204.3 1588.3,204.2 1588.0,201.5 1590.0,200.8 1592.1,199.5 1593.9,201.2 1597.4,201.3 1597.9,204.8 1596.4,207.3 1592.8,206.6 1590.2,206.9 1588.6,209.5 1589.0,212.1 1588.5,215.1 1590.7,216.9 1588.8,219.9 1590.2,222.8 1589.1,225.7 1591.0,225.6 1590.9,222.0 1591.4,218.8 1593.2,216.4 1596.0,214.9 1597.8,214.0 1597.2,212.0 1596.0,210.5 1593.3,210.6 1593.2,208.2 1592.2,207.1 1592.9,203.7 1595.8,202.3" fill="none" stroke="#000" stroke-width="2.6" stroke-linejoin="round"  stroke-linecap="round"/>
<polyline points="1558.6,214.3 1560.5,214.6 1561.9,215.0 1563.7,214.6 1566.8,213.7 1566.8,212.3 1563.8,210.7 1563.9,209.1 1565.3,207.8 1566.3,205.8 1566.4,204.5 1567.8,204.1 1570.0,206.9 1571.8,206.0 1573.2,204.8 1572.9,203.5 1572.7,201.5 1574.2,200.7 1576.3,201.6 1579.0,199.0 1580.1,197.4 1579.7,194.7 1577.7,191.6 1577.6,188.1 1575.4,186.2 1573.7,186.1 1571.2,185.9 1568.9,185.6 1571.6,188.0 1575.2,187.3 1577.0,185.2 1579.5,184.8 1581.1,185.3 1581.3,188.9 1582.2,190.4 1585.7,191.7 1588.3,190.4 1589.4,188.4 1587.8,190.9 1584.7,192.2 1581.1,191.0 1578.5,193.6 1576.1,192.6 1575.4,190.0 1574.5,187.3 1571.6,186.6 1569.7,186.1 1568.4,185.6 1571.9,186.4 1573.6,189.4 1574.1,191.2 1571.2,192.7 1568.6,191.5 1566.6,190.3 1564.0,191.9 1562.1,192.8 1560.6,194.2 1561.7,197.5 1560.6,200.2 1563.5,198.2 1565.5,196.0 1567.1,197.0 1568.8,200.1 1570.6,200.4 1571.3,198.9 1570.3,197.5 1569.4,196.3 1569.5,194.7 1569.7,191.8 1570.9,188.2 1568.9,186.6 1570.5,186.7 1571.2,185.5 1570.8,187.3 1570.2,189.4 1568.6,190.0 1565.6,188.6 1565.9,186.9 1567.2,190.1 1568.8,190.8 1571.4,192.6 1573.7,193.6 1573.7,195.2 1572.8,197.1 1570.2,197.7 1566.6,197.1 1565.0,197.1 1562.4,196.1 1561.3,197.4 1560.1,199.8 1562.2,200.0 1563.3,197.6 1562.8,196.0 1563.0,194.5 1564.0,192.4 1566.6,189.7 1567.1,188.2 1567.4,192.0 1565.4,193.8 1563.2,192.5 1561.4,193.2 1564.3,193.6 1566.5,191.7 1569.4,189.4 1571.9,189.2 1572.9,191.6 1575.4,194.0 1575.0,196.7 1576.0,198.6 1573.8,201.8 1574.0,203.2" fill="none" stroke="#000" stroke-width="2.6" stroke-linejoin="round"  stroke-linecap="round"/>
<polyline points="1587.4,208.8 1584.5,209.7 1582.4,209.0 1581.0,207.7 1580.3,205.8 1577.3,204.1 1575.5,201.0 1576.2,197.1 1576.8,195.6 1577.6,194.5 1579.1,192.5 1580.2,191.5 1581.6,191.8 1583.0,190.3 1586.7,191.5 1587.6,193.3 1588.2,195.1 1586.6,197.5 1587.4,200.8 1585.0,203.1 1584.2,206.3 1583.4,207.7 1581.8,209.9 1578.6,210.0 1576.9,209.1 1574.4,206.9 1573.1,207.5 1571.7,208.9 1569.4,210.3 1568.3,211.2 1566.1,211.8 1566.3,214.6 1566.6,216.3 1567.1,218.8 1570.0,216.9 1572.9,215.3 1574.5,215.1 1575.3,217.6 1573.9,216.1 1575.1,214.0 1574.7,210.5 1577.3,208.6 1579.3,209.7 1581.9,207.6 1582.5,204.8 1583.3,201.3 1585.2,199.8 1587.4,197.6 1586.4,196.4 1585.1,193.9 1583.1,191.5 1582.8,189.7 1580.0,189.3 1578.5,191.6 1579.6,193.6 1582.2,193.6 1583.9,195.3 1585.3,198.1 1586.5,199.0 1585.0,200.2 1585.3,201.8 1588.0,203.4 1585.2,205.3 1584.2,207.1 1583.2,210.5 1583.9,211.9 1582.4,213.4 1579.3,213.8 1576.1,212.8 1573.6,210.1 1572.9,208.7 1571.6,207.3 1571.4,205.1 1569.0,203.3 1566.7,200.9 1565.8,199.7 1566.9,196.3 1565.2,193.1 1567.0,190.3 1567.5,186.9 1564.9,189.3 1562.8,190.8 1561.0,192.2 1561.1,190.6 1562.4,189.8 1565.3,188.8 1565.5,187.5 1567.7,186.0 1571.1,184.8 1573.1,184.9 1575.4,185.5 1577.8,184.4 1579.3,186.9 1579.0,188.2 1581.2,190.2 1580.0,193.8 1577.4,195.3 1573.8,195.7 1571.2,194.8 1569.9,193.7 1568.1,193.9 1567.6,196.7 1566.6,197.8 1565.4,200.7 1567.5,202.9 1567.7,205.1 1567.9,206.5 1564.7,208.2 1561.3,206.8 1559.6,207.0 1559.2,209.0" fill="none" stroke="#000" stroke-width="2.6" stroke-linejoin="round"  stroke-linecap="round"/>
<polyline points="1585.8,229.4 1585.9,227.3 1587.8,228.4 1587.5,226.1 1586.8,224.7 1587.3,227.1 1586.4,229.9 1587.0,228.0 1585.5,225.7 1583.1,225.3 1581.6,223.5 1580.6,219.9 1577.8,219.6 1575.3,219.8 1574.3,218.7 1573.5,216.9 1573.6,213.9 1574.2,212.0 1576.0,209.4 1578.5,208.1 1579.9,208.6 1583.1,206.9 1584.5,203.7 1585.9,203.9 1587.0,200.7 1588.7,199.2 1587.7,200.8 1588.3,202.6 1587.4,203.6 1585.4,205.0 1582.5,205.5 1580.6,202.6 1581.3,201.0 1581.5,199.6 1583.1,198.9 1585.4,195.7 1586.1,192.4 1589.5,191.1 1588.0,190.9 1585.3,191.1 1583.6,189.3 1580.9,187.9 1578.8,190.2 1575.6,192.1 1573.9,192.3 1572.5,188.7 1573.0,187.0 1571.0,184.6 1569.4,187.0 1568.8,189.4 1570.7,192.6 1569.5,195.1 1571.8,197.0 1575.3,198.1 1576.9,200.9 1577.6,204.2 1578.6,205.5 1579.3,207.1 1580.7,207.4 1582.6,204.3 1585.4,202.3 1587.6,201.9 1587.7,198.8 1588.8,197.4 1587.4,194.8 1584.6,192.5 1582.6,191.1 1578.9,191.5 1577.5,192.8 1578.0,195.2 1577.7,196.8 1579.4,198.8 1580.7,198.0 1583.3,199.2 1585.3,199.2 1586.1,197.8 1589.1,197.9 1586.2,198.6 1584.9,197.9 1584.7,195.7 1582.6,194.8 1581.4,193.8 1580.0,193.7 1579.4,196.3 1578.9,198.1 1578.8,201.2 1578.3,203.2 1576.1,205.4 1574.6,205.3 1573.6,202.5 1571.1,199.9 1569.1,200.0 1567.7,202.4 1565.0,202.4 1563.7,204.7 1562.7,206.2 1560.7,206.3 1561.8,207.0 1562.6,210.4 1564.4,212.9 1567.9,214.2 1569.7,212.1 1572.2,211.3 1573.8,209.5 1575.0,210.1 1576.9,209.9 1578.0,207.3 1575.5,205.1 1573.6,206.1 1574.1,207.9 1576.2,209.6" fill="none" stroke="#000" stroke-width="2.6" stroke-linejoin="round"  stroke-linecap="round"/>
<polyline points="1561.7,205.6 1565.2,206.5 1567.9,203.7 1569.8,202.6 1569.4,198.9 1565.7,197.7 1562.7,195.3 1563.4,193.3 1562.2,191.0 1560.9,190.6 1559.9,191.8 1560.9,192.9 1564.0,192.2 1565.7,190.9 1568.7,190.7 1569.4,192.2 1572.4,192.1 1576.3,192.5 1577.7,193.1 1579.9,195.7 1578.4,198.0 1576.6,200.5 1574.1,203.5 1574.8,204.9 1576.7,205.5 1579.1,206.4 1582.5,206.5 1584.9,205.1 1585.2,202.7 1582.6,201.7 1581.3,199.9 1579.0,199.6 1576.8,202.5 1576.0,206.0 1572.8,205.9 1572.2,208.5 1571.0,209.8 1570.3,212.4 1571.9,213.8 1570.0,217.1 1567.6,217.8 1567.3,219.2 1566.1,220.2 1563.7,219.0 1562.5,216.0 1561.0,216.1 1560.3,214.0 1561.0,212.4 1560.3,211.1 1558.6,211.7 1560.3,212.5 1561.8,214.4 1562.5,217.7 1561.8,214.3 1558.4,213.3 1560.9,213.4 1562.7,210.2 1560.9,208.6 1559.9,210.6 1561.8,211.5 1562.9,213.3 1564.1,214.1 1566.7,214.3 1569.2,211.4 1571.6,210.6 1574.8,211.6 1577.1,212.9 1576.8,216.1 1577.4,219.0 1575.0,219.9 1573.6,220.1 1572.6,217.8 1569.0,216.5 1565.2,216.9 1562.9,217.3 1561.4,219.4 1563.1,219.0 1565.3,217.7 1567.4,218.0 1568.7,218.6 1567.2,219.9 1564.1,218.3 1561.4,217.9 1560.5,216.2 1561.6,215.1 1563.0,214.5 1564.5,214.6 1565.1,212.3 1562.4,210.1 1562.2,208.5 1562.5,207.1 1563.0,205.7 1560.1,203.1 1559.3,206.2 1559.9,207.6 1559.6,210.0 1560.2,211.4 1562.6,212.2 1565.4,213.3 1565.1,215.5 1564.1,217.9 1562.2,216.9 1560.8,216.9 1560.3,213.6 1558.7,212.4 1560.5,212.5 1562.1,212.9 1562.3,214.8 1561.9,217.5 1563.8,219.7 1565.9,219.8" fill="none" stroke="#000" stroke-width="2.6" stroke-linejoin="round"  stroke-linecap="round"/>
<polyline points="1542.7,178.5 1543.3,179.8 1546.7,179.2 1549.2,180.9 1552.1,180.8 1554.8,181.6 1556.5,179.9 1557.9,177.1 1555.9,176.9 1555.7,178.2 1555.5,180.3 1556.6,183.8 1557.2,186.5 1558.4,187.1 1558.7,184.1 1555.8,181.9 1555.8,178.7 1559.0,177.9 1559.4,179.6 1557.6,182.2 1556.4,184.6 1554.8,187.9 1553.3,191.0 1555.3,189.1 1554.1,190.9 1552.5,191.5 1551.3,189.8 1552.7,188.2 1555.3,190.0 1554.6,188.0 1552.1,187.3 1552.4,184.4 1549.2,183.3 1547.3,180.1 1544.1,179.9 1543.5,182.8 1544.4,184.5 1543.4,185.7 1540.9,188.2 1541.0,190.0 1538.8,191.0 1537.5,190.6 1535.7,190.8 1534.3,190.2 1534.7,188.9 1535.9,188.2 1536.7,184.9 1535.4,183.7 1534.8,181.5 1536.7,180.4 1539.9,179.8 1540.3,177.7 1537.9,177.1 1536.4,174.3 1538.7,172.0 1541.6,173.2 1543.4,173.8 1544.9,175.3 1547.1,174.3 1548.3,175.4 1549.5,177.3 1550.3,178.8 1548.7,179.9 1546.4,180.5 1547.0,183.2 1548.4,183.5 1548.9,181.8 1546.3,180.3 1543.1,178.2 1544.6,174.6 1543.4,172.4 1540.7,171.6 1538.1,169.4 1537.8,167.5 1536.6,165.1 1535.4,165.7 1534.2,166.8 1532.3,166.9 1531.8,168.6 1532.9,170.1 1534.2,172.3 1536.9,173.5 1540.1,171.7 1541.9,174.4 1543.7,176.2 1544.5,177.5 1546.4,179.3 1547.9,178.9 1549.6,180.4 1552.2,183.0 1553.1,184.9 1551.1,185.9 1552.3,188.7 1554.4,188.4 1556.2,190.9 1558.2,189.5 1555.7,189.3 1554.3,187.4 1552.8,187.9 1553.0,191.4 1550.1,192.3 1547.5,190.6 1545.6,189.4 1542.5,188.0 1540.0,188.8 1536.5,190.2 1533.4,188.1 1533.6,186.0 1531.8,184.1 1534.0,182.4 1535.5,182.9 1539.4,182.4 1540.1,180.2 1538.8,179.4 1539.5,175.6 1540.5,174.4 1540.6,172.5 1542.2,169.9 1543.2,167.4 1541.1,165.6 1542.9,162.9 1541.2,160.9 1541.1,158.9 1543.4,158.1 1545.7,158.8 1544.6,162.0 1543.7,163.4 1543.2,164.7 1541.0,167.5 1541.9,170.0 1542.8,172.1 1541.8,175.7 1539.8,177.2 1538.3,175.6 1538.5,172.6 1541.2,170.4 1541.2,167.5 1540.3,164.6 1543.1,163.6 1542.3,161.2 1543.5,157.8 1546.0,155.5 1542.9,157.0 1543.0,159.8 1543.5,161.8 1543.5,164.3 1546.7,166.4 1547.6,165.5 1550.0,163.0 1553.1,161.9 1556.0,160.9 1555.9,162.4 1554.5,163.5 1551.2,163.1 1548.2,163.6 1545.5,161.3 1544.0,162.0 1542.3,163.8 1542.1,165.1 1541.1,168.8 1541.4,171.5 1542.7,173.6 1541.4,175.2 1539.0,176.3 1535.5,177.4 1535.8,180.8 1537.8,183.1 1537.1,186.0 1537.5,189.5 1540.4,189.9 1543.0,189.4" fill="none" stroke="#000" stroke-width="2.6" stroke-linejoin="round"  stroke-linecap="round"/>
<polyline points="1684.9,288.6 1686.0,285.7 1687.8,288.1 1686.6,288.3 1683.3,289.5 1680.2,288.4 1680.0,290.7 1682.3,291.7 1683.2,292.6 1684.7,291.6 1685.2,294.6 1688.3,293.9 1687.3,291.4 1686.3,292.1 1685.6,290.5 1682.1,291.2 1682.2,289.3 1684.1,290.8 1684.2,292.5 1681.7,291.1 1684.8,289.8 1685.2,287.8 1683.7,287.5 1684.3,289.4 1684.1,290.5 1682.4,291.6 1682.1,294.8 1682.1,296.7 1682.4,299.6 1685.2,297.5 1682.3,296.9 1682.7,295.7 1684.7,295.9 1685.8,296.5 1685.6,294.8 1687.1,295.6 1686.6,299.0 1685.0,297.7 1682.6,297.7 1682.2,296.3 1684.7,294.5 1685.3,295.6 1683.9,295.5 1681.8,297.1 1681.3,295.2 1683.8,295.8 1685.3,294.5 1684.5,293.4 1682.4,295.4 1682.5,293.8 1679.4,295.7 1678.3,298.6 1677.9,300.8 1681.1,299.5 1679.0,298.3 1679.8,297.0 1683.2,297.4 1685.6,299.4 1686.4,297.3 1683.3,296.4 1681.6,297.9 1682.0,294.7 1683.5,296.4 1685.6,298.5 1687.1,299.7 1688.6,300.0 1686.3,299.4 1686.2,296.6 1683.2,294.8 1682.4,292.3 1681.2,294.6" fill="none" stroke="#000" stroke-width="2.6" stroke-linejoin="round"  stroke-linecap="round"/>
<circle cx="1679.8" cy="286.3" r="13.5" fill="none" stroke="#ff0000" stroke-width="1.3"/>
<rect x="1414.6" y="92.0" width="315.0" height="251.8" fill="none" stroke="#262626" stroke-width="1.3"/>
<line x1="1446.4" y1="343.8" x2="1446.4" y2="340.1" stroke="#262626" stroke-width="1.3" />
<line x1="1446.4" y1="92.0" x2="1446.4" y2="95.7" stroke="#262626" stroke-width="1.3" />
<line x1="1518.4" y1="343.8" x2="1518.4" y2="340.1" stroke="#262626" stroke-width="1.3" />
<line x1="1518.4" y1="92.0" x2="1518.4" y2="95.7" stroke="#262626" stroke-width="1.3" />
<line x1="1590.4" y1="343.8" x2="1590.4" y2="340.1" stroke="#262626" stroke-width="1.3" />
<line x1="1590.4" y1="92.0" x2="1590.4" y2="95.7" stroke="#262626" stroke-width="1.3" />
<line x1="1662.4" y1="343.8" x2="1662.4" y2="340.1" stroke="#262626" stroke-width="1.3" />
<line x1="1662.4" y1="92.0" x2="1662.4" y2="95.7" stroke="#262626" stroke-width="1.3" />
<line x1="1414.6" y1="141.2" x2="1418.3" y2="141.2" stroke="#262626" stroke-width="1.3" />
<line x1="1729.6" y1="141.2" x2="1725.9" y2="141.2" stroke="#262626" stroke-width="1.3" />
<line x1="1414.6" y1="222.6" x2="1418.3" y2="222.6" stroke="#262626" stroke-width="1.3" />
<line x1="1729.6" y1="222.6" x2="1725.9" y2="222.6" stroke="#262626" stroke-width="1.3" />
<line x1="1414.6" y1="304.0" x2="1418.3" y2="304.0" stroke="#262626" stroke-width="1.3" />
<line x1="1729.6" y1="304.0" x2="1725.9" y2="304.0" stroke="#262626" stroke-width="1.3" />
<text x="1444.9" y="380.0" font-size="26.4" text-anchor="middle" fill="#262626" font-weight="normal" >-4</text>
<text x="1516.9" y="380.0" font-size="26.4" text-anchor="middle" fill="#262626" font-weight="normal" >-2</text>
<text x="1590.4" y="380.0" font-size="26.4" text-anchor="middle" fill="#262626" font-weight="normal" >0</text>
<text x="1662.4" y="380.0" font-size="26.4" text-anchor="middle" fill="#262626" font-weight="normal" >2</text>
<text x="1405.0" y="150.7" font-size="26.4" text-anchor="end" fill="#262626" font-weight="normal" >2</text>
<text x="1405.0" y="232.1" font-size="26.4" text-anchor="end" fill="#262626" font-weight="normal" >0</text>
<text x="1405.0" y="313.5" font-size="26.4" text-anchor="end" fill="#262626" font-weight="normal" >-2</text>
<text x="1564.0" y="86.1" font-size="25.6" text-anchor="middle" fill="#000" font-weight="normal" >UT: 15:07:35-15:10:37</text>
<text x="1527" y="415.2" font-size="29.4" fill="#262626">B<tspan font-size="24" dy="13.3">L</tspan><tspan dy="-13.3"> [nT]</tspan></text>
<text transform="translate(1355.4,266) rotate(-90)" font-size="29.4" fill="#262626">B<tspan font-size="24" dy="13.6">M</tspan><tspan dy="-13.6"> [nT]</tspan></text>
<text x="1438.4" y="326.9" font-size="40" text-anchor="start" fill="#000" font-weight="bold" >f</text>
<polyline points="2042.8,235.7 2047.1,233.1 2050.2,231.9 2053.9,232.7 2054.3,232.2 2055.4,230.6 2059.5,229.5 2061.2,226.2 2063.2,224.5 2066.0,224.1 2067.9,224.4 2073.4,224.0 2074.0,221.1 2075.6,219.5 2078.8,219.1 2080.4,217.2 2081.9,215.3 2087.0,216.3 2089.1,214.4 2091.7,213.0 2094.3,212.9" fill="none" stroke="#000" stroke-width="2.6" stroke-linejoin="round"  stroke-linecap="round"/>
<polyline points="2070.0,253.7 2072.7,253.6 2076.2,251.0 2077.2,248.3 2078.5,245.5 2079.2,242.6 2083.4,242.1 2085.2,238.7 2085.5,237.6 2086.8,235.0 2088.0,233.7 2089.3,228.6 2087.9,229.4 2092.3,226.2 2090.6,224.2 2091.9,220.8 2093.8,218.1 2091.9,214.8 2094.3,212.9" fill="none" stroke="#000" stroke-width="2.6" stroke-linejoin="round"  stroke-linecap="round"/>
<polyline points="1891.4,161.2 1893.6,160.7 1898.2,165.8 1899.0,166.8 1898.6,171.4 1903.7,174.3 1906.1,174.1 1905.9,169.4 1910.0,170.3 1915.8,171.4 1918.0,173.4 1919.7,176.6 1920.3,178.6 1920.1,181.2 1918.8,185.7 1920.0,190.0 1920.3,187.5 1919.8,191.6 1919.4,194.5 1922.2,194.5 1924.4,195.1 1926.9,199.6 1922.9,202.0 1925.9,203.6 1929.3,207.1 1930.3,208.0 1934.5,209.1 1932.8,213.0 1933.4,215.3 1938.0,213.5 1938.6,216.9 1938.7,217.2 1939.7,222.2 1940.7,223.8 1942.1,228.4 1940.5,229.6 1941.7,233.4 1941.2,232.2 1942.6,229.1 1944.1,226.1 1947.2,229.2 1947.3,230.6 1950.9,228.8 1956.8,230.1 1954.9,237.2 1959.3,233.0 1959.8,230.3 1959.5,229.0 1963.2,225.3 1967.9,226.4 1970.2,226.1 1974.4,225.5 1977.1,225.0 1980.0,222.9" fill="none" stroke="#000" stroke-width="2.6" stroke-linejoin="round"  stroke-linecap="round"/>
<polyline points="2094.7,212.7 2098.6,211.1 2097.3,208.9 2098.1,205.8 2100.4,203.9 2103.5,203.4 2104.2,201.8 2106.1,198.6 2107.9,197.5 2109.9,194.4 2110.1,193.1 2112.0,189.1 2114.1,186.6 2115.3,184.0 2115.4,180.4 2118.6,178.6" fill="none" stroke="#000" stroke-width="2.6" stroke-linejoin="round"  stroke-linecap="round"/>
<polyline points="2038.2,266.9 2042.3,272.9 2043.8,272.7 2047.0,273.7 2049.4,275.4 2051.2,274.2 2052.6,279.9 2055.1,276.4 2052.7,273.3 2057.4,270.1 2060.0,268.6" fill="none" stroke="#000" stroke-width="2.6" stroke-linejoin="round"  stroke-linecap="round"/>
<polyline points="2078.2,236.1 2076.3,235.5 2075.0,234.4 2074.4,232.0 2071.9,230.9 2070.3,231.8 2067.5,230.1 2064.6,230.2 2062.7,230.8 2062.9,234.1 2064.8,236.9 2063.5,237.9 2065.1,241.0 2066.1,242.3 2066.9,245.9 2070.4,245.8 2072.9,245.6 2075.9,245.0 2076.8,248.4 2075.9,252.2 2074.4,251.8 2072.7,253.4 2073.5,256.9 2073.5,260.0 2074.7,257.5 2076.1,255.6 2077.2,253.0 2079.3,252.1 2079.0,250.8 2081.4,248.2 2079.8,246.7 2080.2,243.6 2077.8,242.4 2075.0,241.4 2071.8,241.1 2070.3,240.5 2067.9,238.6 2066.6,238.1 2065.2,235.1 2062.3,235.3 2061.0,238.8 2057.6,238.2 2057.3,240.0 2058.2,242.4 2059.4,243.0 2060.5,246.7 2062.4,248.9 2064.0,249.7 2065.7,251.9 2067.8,252.0 2069.7,249.4 2070.9,248.6 2072.6,250.3 2074.9,252.4 2074.2,253.5 2073.4,254.9 2071.0,254.4 2068.5,255.4 2067.4,253.9 2066.1,253.0 2063.3,253.9 2061.2,256.1 2060.4,259.5 2057.7,261.8 2057.4,264.8 2059.2,265.6 2059.7,262.6 2060.7,260.3 2060.2,256.9 2060.1,255.6 2058.4,253.5 2055.9,252.3 2054.0,252.9 2051.1,252.9 2049.6,253.4 2049.5,257.3 2048.0,258.5 2047.7,261.9 2048.7,263.7 2051.9,264.1 2052.4,262.6 2056.1,261.6 2058.6,261.2 2059.6,258.1 2060.1,254.7 2063.6,253.5 2063.0,251.1 2064.0,249.7 2067.3,250.1 2067.7,253.2 2066.2,254.4 2063.5,253.6 2063.1,252.3 2059.6,252.9 2056.8,253.1 2053.2,254.5 2051.3,256.4 2052.5,258.0 2050.9,261.4 2052.1,262.4 2053.0,263.5 2054.9,263.8 2056.2,264.4 2055.7,265.6 2058.2,264.6 2058.2,262.4 2060.9,261.5 2063.9,259.5 2066.6,261.7 2064.8,262.5 2062.8,263.9 2064.1,263.0 2063.9,259.8 2061.6,258.3 2059.7,257.0 2056.7,255.6 2055.1,254.8 2055.1,251.8 2055.6,250.4 2059.3,249.6 2061.8,247.7 2061.8,245.5 2063.1,244.4 2064.6,244.7 2064.8,246.1 2063.7,249.8 2066.0,253.0 2065.0,254.7 2062.0,256.4 2060.6,256.9 2057.9,255.5 2057.5,253.4 2055.7,250.6 2057.3,248.5 2058.7,245.7 2060.4,244.6 2060.3,242.1 2057.1,241.3 2057.1,237.6 2059.8,237.1 2061.6,237.4 2063.5,234.1 2066.5,235.4 2069.2,235.7 2070.8,238.8 2069.3,239.7 2067.7,242.7 2065.2,241.6 2062.9,244.5 2059.9,246.9 2057.1,245.7 2053.4,246.6 2054.0,248.8 2053.4,251.9 2054.5,253.5 2057.2,253.6 2060.5,254.1 2062.0,255.4 2061.2,257.0 2062.8,258.1 2064.2,256.9 2065.6,253.3 2062.1,251.9 2060.8,251.6 2057.0,252.0 2056.9,255.6 2059.2,258.4 2060.3,259.8 2063.0,261.6 2063.3,263.6 2064.8,262.1" fill="none" stroke="#000" stroke-width="2.6" stroke-linejoin="round"  stroke-linecap="round"/>
<polyline points="2040.7,241.6 2040.5,243.9 2041.9,245.4 2042.6,249.0 2043.5,252.7 2041.0,254.1 2038.9,256.9 2036.3,255.5 2034.6,258.1 2036.6,259.5 2034.5,262.6 2035.4,264.7 2032.2,264.2 2031.7,262.6 2030.9,261.2 2029.0,261.8 2025.5,260.2 2024.7,257.0 2022.5,253.9 2019.7,253.2 2018.1,250.1 2015.3,250.2 2013.8,253.0 2013.6,255.9 2013.2,257.5 2014.1,258.5 2016.8,259.6 2018.7,258.5 2019.3,254.7 2021.1,253.6 2022.5,252.6 2023.8,254.3 2027.1,254.4 2027.1,256.5 2029.5,258.4 2031.4,260.5 2030.6,262.6 2030.3,264.9 2028.9,265.5 2025.5,265.5 2022.5,264.9 2021.9,262.2 2018.3,261.9 2017.8,263.8 2021.3,263.0 2023.6,264.4 2021.4,261.4 2020.0,258.3 2020.6,256.3 2019.1,253.7 2021.3,252.3 2022.6,254.2 2022.9,257.5 2024.9,259.4 2026.1,262.8 2027.3,264.2 2030.4,262.2 2028.8,259.3 2031.6,257.8 2033.8,256.8 2036.4,258.3 2037.8,259.3 2039.1,261.5 2041.7,263.2 2040.5,265.4 2037.2,264.6 2035.1,264.8 2034.9,262.2 2038.6,261.8 2039.5,260.8 2038.8,257.0 2039.2,254.4 2040.7,252.0 2038.5,249.6 2040.9,246.8 2043.2,244.4 2044.9,243.4 2048.0,241.8 2049.2,238.4 2052.3,237.3 2054.8,238.1 2056.0,240.1 2058.5,240.4 2058.9,243.7 2056.4,244.9 2055.6,248.4 2054.4,250.9 2056.6,252.2 2058.4,252.5 2061.0,253.1 2062.7,250.8 2065.4,251.4 2065.3,254.2 2063.4,254.1 2062.1,253.2 2060.3,251.6 2060.9,249.6 2057.5,248.1 2056.1,249.0 2052.4,247.8 2052.4,246.4 2050.7,245.6 2049.1,245.2 2048.3,246.4 2048.2,248.5 2049.5,249.4 2052.1,251.2 2053.6,253.6 2054.0,256.1 2057.0,257.9 2059.1,259.9 2061.7,261.7 2063.0,261.7 2065.3,258.6 2067.2,256.1 2066.1,254.7 2063.4,253.0 2060.3,253.7 2059.0,253.7 2056.9,254.7 2055.8,253.6 2052.0,253.1 2051.5,251.9 2053.3,248.9 2053.0,246.6 2053.8,244.4 2055.2,244.0 2055.9,246.0 2055.6,248.6 2052.0,248.5 2048.1,249.1 2045.4,251.6 2042.8,252.8 2041.7,251.3 2040.5,252.3 2036.8,251.7 2035.9,255.3 2033.2,255.0 2031.5,254.3 2029.6,253.8 2027.7,254.7 2025.5,253.3 2025.2,250.1 2024.6,247.4 2027.5,245.8 2028.8,246.7 2029.6,247.8 2028.8,250.2 2030.2,252.5 2029.7,254.1 2030.8,255.2 2033.8,253.1 2034.2,251.5 2031.0,250.7 2029.9,252.5 2028.3,252.9 2026.2,253.3 2023.5,253.3 2020.3,252.8 2017.0,253.0 2016.4,250.8 2015.8,248.9 2013.2,247.5 2010.1,245.2 2010.6,243.5 2009.1,243.1 2008.0,243.8 2005.3,241.8 2004.0,243.1 2004.3,246.1 2006.9,247.7" fill="none" stroke="#000" stroke-width="2.6" stroke-linejoin="round"  stroke-linecap="round"/>
<polyline points="2031.4,257.3 2031.2,259.6 2033.4,260.2 2036.2,261.8 2036.5,263.5 2039.9,262.8 2041.1,261.7 2043.2,260.4 2044.7,260.9 2047.9,261.7 2049.4,264.8 2051.5,263.7 2050.9,262.5 2050.6,261.1 2047.2,261.1 2046.8,262.6 2046.8,260.9 2049.7,258.6 2050.9,259.3 2053.8,261.1 2054.9,259.8 2055.4,256.4 2055.3,254.3 2053.8,253.8 2051.1,251.7 2048.1,251.1 2045.4,251.9 2045.7,254.8 2048.0,257.4 2047.9,258.9 2045.9,259.5 2043.8,262.0 2042.5,264.1 2040.6,262.9 2039.2,264.7 2041.7,263.7 2043.8,263.4 2047.1,262.9 2047.9,261.2 2048.7,259.1 2050.3,259.6 2052.1,260.4 2055.4,261.2 2058.1,263.5 2057.9,265.2 2056.5,263.6 2054.2,262.7 2052.0,260.5 2050.4,259.4 2047.9,258.2 2045.5,258.1 2045.6,255.8 2043.9,254.0 2045.1,252.0 2046.9,251.1 2045.9,248.9 2045.8,247.3 2046.8,245.1 2049.4,245.3 2050.9,242.0 2054.3,243.1 2055.1,241.8 2058.8,241.5 2061.3,242.0 2062.6,241.1 2065.9,241.5 2068.8,244.0 2072.1,242.9 2073.5,246.6 2075.6,246.1 2076.3,248.6 2078.6,251.6 2077.7,253.2 2074.5,253.5 2073.1,254.9 2070.8,255.2 2069.4,256.1 2067.0,256.1 2066.9,257.8 2069.0,260.6 2068.8,262.0 2067.3,260.0 2065.9,260.9 2066.6,257.8 2065.9,255.6 2068.8,253.1 2069.3,251.2 2071.2,251.3 2072.3,247.5 2070.9,246.9 2069.1,247.8 2069.4,249.7 2069.5,252.5 2069.1,253.8 2070.9,255.0 2070.2,257.0 2071.0,259.8 2068.9,258.7 2067.4,257.4 2064.8,257.8 2063.8,260.6 2062.8,262.1 2064.0,261.2 2065.1,260.4 2067.2,260.1 2068.7,257.7 2070.2,257.3 2071.4,256.9 2074.0,257.5 2072.5,254.5 2070.4,254.4 2068.8,254.2 2067.1,254.4 2066.7,252.7 2066.6,251.1 2066.9,249.4 2066.8,247.5 2064.1,245.2 2063.9,243.4 2062.4,242.3 2061.8,240.5 2063.3,238.1 2061.8,235.6 2063.7,232.5 2062.8,229.0 2063.7,231.7 2061.5,233.5 2059.9,234.8 2061.4,238.2 2063.8,240.1 2065.8,238.0 2068.3,237.3 2069.5,236.7 2072.4,237.9 2071.5,240.5 2070.4,241.8 2071.3,243.7 2070.7,247.1 2070.0,248.4 2070.3,249.8 2068.3,251.4 2066.8,251.6 2064.5,252.1 2061.7,251.1 2060.1,252.1 2058.2,253.7 2056.0,252.6 2054.4,253.1 2052.5,252.7 2052.4,250.2 2052.9,248.4 2056.0,246.9 2057.1,248.8 2059.6,248.3 2062.8,246.7 2062.1,245.0 2059.0,242.9 2057.5,243.7 2054.7,244.0 2053.4,242.6 2050.0,244.0 2048.3,243.6 2046.7,241.3 2046.8,239.0 2049.6,239.0 2050.1,236.5 2049.0,234.4 2050.9,237.1 2053.2,238.2 2055.9,236.5 2055.2,233.1" fill="none" stroke="#000" stroke-width="2.6" stroke-linejoin="round"  stroke-linecap="round"/>
<polyline points="2067.8,236.0 2066.4,233.3 2065.5,229.8 2066.7,229.1 2067.7,230.1 2070.3,230.3 2070.6,231.6 2068.8,234.1 2071.3,236.6 2074.3,237.7 2078.0,238.5 2078.7,235.4 2080.1,235.2 2082.7,237.8 2082.1,239.3 2079.8,241.3 2076.3,242.3 2074.9,242.9 2074.9,245.1 2073.6,245.6 2072.4,245.0 2070.6,243.2 2067.8,244.4 2066.1,246.2 2063.7,244.2 2061.1,246.9 2057.8,247.4 2054.9,247.8 2052.9,250.7 2051.7,253.5 2049.3,255.0 2047.5,257.5 2045.0,258.7 2042.4,256.9 2039.9,258.0 2038.8,259.6 2039.6,263.0 2036.4,264.2 2034.7,262.6 2032.7,264.0 2031.3,263.7 2029.2,265.1 2027.4,263.5 2028.0,261.2 2029.4,260.3 2030.6,258.8 2032.0,258.5 2033.7,257.7 2033.7,256.3 2033.6,254.8 2035.2,251.8 2034.3,248.4 2032.4,246.5 2029.0,245.5 2026.7,248.4 2024.3,250.1 2022.6,248.1 2020.9,249.5 2020.5,250.8 2017.9,249.9 2018.9,246.6 2016.5,244.8 2013.8,245.7 2010.1,246.6 2008.2,248.9 2005.2,248.3 2003.6,251.2 2001.6,250.9 2000.0,249.7 1998.1,247.2 1999.2,248.2 2000.4,251.0 2001.2,252.5 2003.0,254.1 2004.2,254.5 2007.0,252.0 2009.3,252.5 2009.5,255.4 2008.0,257.4 2009.1,260.6 2009.7,263.9 2009.5,261.8 2011.3,260.7 2013.1,258.1 2014.4,255.6 2014.7,251.8 2016.2,249.5 2019.0,248.4 2021.5,249.5 2022.6,252.6 2021.8,254.2 2021.7,256.6 2021.9,260.1 2024.4,261.5 2026.5,262.8 2027.4,265.3 2028.9,264.5 2032.7,264.0 2032.8,261.7 2031.4,259.3 2030.0,258.8 2028.2,262.1 2029.0,264.1 2026.1,264.0 2023.9,261.9 2021.4,261.2 2019.7,263.9 2017.8,262.0 2015.3,259.4 2015.4,256.4 2011.9,255.5 2010.1,253.5 2008.4,252.4 2006.6,252.3 2006.3,254.7 2005.9,256.7 2005.7,258.1 2004.5,260.4 2004.6,257.5 2005.9,255.0 2007.3,255.2 2008.4,257.4 2008.0,260.4 2007.0,261.6 2008.2,258.6 2009.2,257.2 2009.7,255.5 2012.7,255.1 2015.0,253.0 2015.0,251.0 2013.2,248.1 2010.8,248.1 2009.9,251.2 2012.6,253.4 2013.8,254.2 2016.1,253.9 2015.8,250.8 2015.5,249.3 2017.6,247.1 2021.3,248.0 2023.1,246.6 2026.1,245.8 2028.3,244.9 2031.8,244.5 2033.0,242.8 2035.4,240.2 2038.6,240.4 2040.6,238.9 2042.6,238.0 2041.1,239.4 2039.4,240.1 2038.0,241.4 2036.4,243.8 2033.5,244.4 2033.5,247.0 2033.8,249.4 2034.8,251.6 2034.8,254.6 2033.4,255.2 2033.7,258.0 2032.5,261.0 2034.8,263.4 2035.9,264.6 2039.3,264.6 2042.3,264.3 2043.5,265.7 2043.3,264.3 2044.3,261.6 2046.2,261.9 2048.4,261.0 2051.2,262.8" fill="none" stroke="#000" stroke-width="2.6" stroke-linejoin="round"  stroke-linecap="round"/>
<polyline points="2043.1,253.2 2042.3,254.4 2039.5,253.1 2038.9,251.8 2038.6,250.4 2036.3,250.0 2034.3,248.1 2033.7,246.0 2034.5,244.9 2036.5,245.9 2037.1,247.7 2039.4,250.1 2038.0,253.2 2038.5,254.9 2040.7,257.1 2041.5,259.5 2042.9,259.0 2044.9,255.8 2043.8,254.7 2042.2,253.9 2040.4,251.3 2042.1,248.1 2042.9,245.3 2044.4,245.2 2045.1,242.2 2045.6,238.9 2043.1,237.9 2044.0,238.9 2042.9,242.3 2043.6,244.0 2042.2,245.5 2040.8,247.9 2037.4,248.4 2036.6,246.3 2034.7,243.5 2036.9,241.5 2039.7,241.9 2040.3,244.1 2041.8,246.2 2042.9,247.1 2044.8,245.2 2044.9,243.7 2043.5,242.6 2043.3,240.6 2044.6,239.9 2047.3,240.2 2048.2,243.9 2050.4,246.7 2047.7,248.8 2046.0,250.3 2044.3,249.7 2044.9,246.1 2042.7,243.2 2040.9,239.9 2037.5,238.3 2036.6,240.3 2035.2,241.8 2033.6,245.4 2033.7,249.0 2036.2,249.9 2039.9,250.0 2040.3,253.1 2042.1,253.7 2044.0,253.7 2045.5,254.8 2045.0,257.5 2043.3,260.0 2042.8,263.2 2040.6,263.1 2038.8,264.4 2040.6,265.2 2041.3,263.6 2043.2,260.7 2042.4,259.2 2043.9,256.8 2042.7,253.7 2042.3,252.0 2044.9,249.5 2046.1,247.4 2046.8,244.6 2044.3,243.1 2042.6,240.1 2042.9,236.9 2043.5,240.1 2040.2,241.2 2037.8,244.2 2035.7,246.0 2031.9,246.5 2029.5,247.0 2028.2,247.2 2025.7,250.2 2022.5,249.6 2022.1,251.0 2019.2,253.4 2016.4,254.5 2013.4,253.9 2011.4,257.0 2013.4,258.6 2015.8,256.0 2016.5,253.6 2016.9,252.1 2017.3,248.6 2018.1,245.8 2017.1,244.2 2017.5,240.9 2018.0,239.5 2016.2,236.2 2017.2,234.8 2017.5,233.3 2016.2,233.7 2016.1,235.2 2017.3,235.7 2019.2,237.6 2022.1,238.8 2022.4,241.1 2021.1,243.7 2018.5,242.8 2017.0,245.5 2014.5,247.1 2011.1,246.1 2010.9,242.7 2013.9,240.6 2015.2,237.5 2017.8,236.7 2019.6,236.3 2020.8,235.6 2022.1,236.6 2019.7,236.7 2016.9,234.6 2016.3,233.3 2015.1,232.5 2013.3,233.6 2011.3,230.8 2009.3,230.6 2007.7,227.1 2005.8,225.8 2007.9,227.4 2006.9,230.9 2004.7,232.2 2005.4,234.8 2002.8,236.0 1999.6,237.6 1999.9,240.8 1999.1,243.4 1997.8,242.8 1998.0,245.2 1998.5,246.7 2000.7,246.2 2004.3,245.5 2005.7,243.5 2009.0,241.8 2010.0,238.1 2013.4,238.5 2014.8,238.8 2015.3,236.7 2014.8,234.6 2016.3,237.6 2017.7,236.8 2019.8,239.3 2020.3,242.7 2017.9,243.2 2017.7,247.0 2019.6,247.2 2022.2,245.0 2023.8,244.9 2025.5,244.8 2026.9,246.0 2025.9,247.8 2024.8,251.4 2022.5,251.5 2021.3,253.9" fill="none" stroke="#000" stroke-width="2.6" stroke-linejoin="round"  stroke-linecap="round"/>
<polyline points="2029.8,245.4 2031.5,244.0 2031.4,242.2 2033.4,239.8 2032.2,240.9 2031.8,243.9 2031.5,247.6 2031.5,249.2 2030.7,251.1 2028.7,250.5 2029.4,248.0 2030.8,245.4 2034.3,243.9 2034.6,240.7 2037.1,240.7 2040.1,239.6 2041.1,242.7 2044.5,242.9 2045.0,244.6 2044.8,246.3 2044.0,247.6 2041.5,247.5 2038.8,244.8 2038.5,242.2 2037.4,240.1 2038.7,238.5 2041.9,237.7 2042.6,239.3 2044.3,240.3 2044.6,241.8 2045.5,244.0 2042.2,245.6 2039.8,247.7 2040.9,249.8 2044.3,248.7 2046.4,245.7 2046.1,242.8 2044.5,242.2 2044.7,239.7 2046.1,237.0 2047.6,235.8 2050.5,235.1 2052.1,235.6 2052.8,239.0 2053.5,240.5 2054.7,242.1 2055.7,243.6 2057.4,243.2 2059.1,244.2 2058.9,246.8 2060.6,248.1 2060.2,249.6 2060.7,251.6 2062.9,253.1 2064.0,255.0 2066.1,255.0 2067.6,255.9 2066.2,258.5 2065.1,260.8 2062.7,262.9 2061.7,264.5 2060.5,263.8 2060.4,260.7 2058.6,260.8 2056.8,263.2 2056.5,264.9 2059.9,265.7 2059.8,263.3 2063.4,263.4 2064.6,262.1 2066.2,261.2 2068.5,259.0 2067.4,257.5 2065.5,254.7 2065.9,251.5 2066.7,250.4 2070.2,249.1 2069.5,247.2 2068.7,244.4 2066.9,241.1 2063.4,239.8 2062.3,236.3 2060.9,232.7 2061.7,231.6 2064.0,229.9 2066.3,230.3 2069.6,229.4 2071.1,229.0 2070.1,231.9 2072.1,233.6 2074.6,233.7 2075.8,233.1 2076.2,229.9 2074.0,232.9 2071.6,233.6 2068.4,231.7 2065.1,231.9 2064.6,234.7 2067.4,235.5 2069.0,237.6 2071.5,236.8 2070.7,233.2 2070.9,230.3 2071.7,229.2 2068.1,229.5 2065.7,230.2 2065.8,231.8 2066.8,235.3 2068.4,235.3 2069.2,233.7 2069.8,232.5 2073.1,232.5 2073.5,235.1 2071.3,237.1 2068.5,237.0 2066.0,239.1 2063.7,236.6 2061.2,234.6 2059.6,235.6 2057.4,236.7 2057.8,238.0 2059.1,237.7 2061.7,240.1 2061.7,243.7 2059.5,246.1 2056.3,246.1 2055.6,249.6 2052.1,251.1 2049.0,253.0 2045.6,253.3 2043.8,251.9 2040.8,250.8 2039.5,248.9 2036.9,247.6 2036.7,244.2 2038.5,242.9 2041.8,244.4 2044.3,244.4 2045.5,243.7 2048.4,242.1 2051.4,240.9 2050.9,238.2 2049.5,235.1 2052.6,235.0 2055.0,233.5 2055.1,232.0 2053.1,234.2 2051.3,236.9 2047.9,235.4 2046.2,236.9 2046.1,240.0 2048.6,242.0 2051.4,244.0 2052.5,246.3 2053.5,248.5 2056.2,248.7 2057.3,245.7 2054.0,244.3 2053.0,246.6 2054.6,248.0 2058.2,248.3 2060.0,245.2 2063.4,246.9 2063.8,248.2 2061.4,249.9 2058.9,248.6 2058.2,250.2 2054.7,250.7 2053.8,248.2 2050.0,248.1 2047.3,249.7" fill="none" stroke="#000" stroke-width="2.6" stroke-linejoin="round"  stroke-linecap="round"/>
<polyline points="2054.5,236.9 2055.8,233.8 2058.5,234.5 2061.7,235.4 2064.3,233.6 2066.9,233.8 2068.5,233.8 2069.3,235.8 2069.3,237.2 2070.5,240.6 2070.5,243.9 2067.1,244.7 2064.9,242.1 2066.1,241.0 2069.2,243.2 2068.2,246.7 2066.0,246.1 2065.8,243.7 2067.9,241.4 2065.2,238.9 2062.8,239.0 2061.2,235.6 2057.9,234.1 2061.4,233.5 2061.4,231.8 2063.6,231.5 2064.6,234.7 2063.5,236.6 2062.5,237.9 2062.8,240.8 2062.8,242.7 2062.4,245.7 2062.7,248.7 2059.3,249.0 2057.0,248.5 2056.3,252.2 2055.2,255.4 2057.3,257.2 2056.6,258.4 2056.8,261.4 2053.9,262.4 2051.5,262.7 2048.5,262.6 2046.9,262.4 2045.1,262.6 2042.5,262.4 2038.9,262.7 2037.3,260.8 2036.2,261.5 2034.5,262.3 2031.5,262.8 2031.8,259.5 2032.9,257.1 2031.9,254.2 2032.2,252.1 2032.9,249.1 2033.4,246.4 2034.2,244.9 2034.1,241.5 2035.6,240.7 2038.5,241.4 2039.9,242.9 2043.1,242.9 2046.8,242.7 2048.2,240.8 2050.8,241.4 2054.5,241.4 2056.3,239.6 2056.8,237.9 2060.3,238.9 2061.4,235.9 2059.6,233.2 2059.2,231.7 2059.1,230.2 2058.0,231.4 2058.3,232.9 2062.1,232.8 2062.3,235.1 2060.2,236.9 2058.6,236.7 2056.7,233.9 2055.3,234.4 2053.6,233.8 2050.4,235.1 2049.7,236.8 2049.0,239.5 2047.5,240.6 2049.4,243.8 2050.6,243.2 2052.6,245.9 2053.9,246.6 2054.6,250.1 2055.5,251.3 2057.5,250.5 2058.7,251.7 2061.9,251.4 2065.7,252.0 2066.7,253.2 2070.2,253.1 2071.5,254.4 2071.9,256.4 2070.6,258.7 2067.7,258.5 2064.7,259.8 2064.0,261.0 2061.9,260.8 2060.1,262.7 2057.6,262.0 2055.9,261.8 2053.3,261.3 2051.9,261.0 2051.3,259.8 2051.9,257.3 2053.0,256.2 2053.5,253.3 2050.6,251.6 2048.6,249.2 2050.3,246.3 2050.1,242.6 2047.6,242.6 2046.1,241.5 2044.5,243.0 2043.1,243.4 2042.1,245.1 2043.9,246.5 2042.0,249.3 2042.8,252.1 2042.7,254.1 2044.7,256.8 2048.4,257.3 2050.0,259.8 2052.6,261.0 2056.4,260.2 2059.1,261.7 2060.9,260.5 2061.3,257.8 2063.1,257.1 2065.6,255.4 2065.9,253.2 2065.8,250.4 2065.3,247.8 2062.6,247.8 2061.6,246.0 2059.9,246.4 2056.2,247.0 2055.7,250.3 2054.3,253.0 2052.7,252.6 2051.5,250.8 2051.8,248.7 2052.3,246.8 2051.0,245.7 2049.1,246.8 2047.6,249.3 2048.8,252.2 2047.3,253.9 2048.0,255.5 2049.0,257.2 2050.4,257.5 2053.3,255.9 2053.0,254.6 2051.9,253.4 2049.9,255.0 2049.8,257.8 2053.3,258.9 2052.8,260.8 2054.2,261.6 2054.4,263.1 2055.6,263.8 2055.3,265.3 2053.2,265.3" fill="none" stroke="#000" stroke-width="2.6" stroke-linejoin="round"  stroke-linecap="round"/>
<polyline points="2077.5,234.9 2074.5,232.5 2071.4,231.0 2068.9,230.9 2068.3,233.0 2069.8,233.5 2072.3,233.2 2072.8,236.4 2071.4,237.9 2073.7,240.7 2072.1,244.2 2070.7,246.5 2071.8,247.6 2074.7,248.9 2076.6,246.8 2080.1,246.8 2081.6,246.8 2082.3,243.7 2082.0,241.9 2079.6,240.5 2077.7,240.0 2076.8,238.8 2075.4,235.7 2074.3,234.4 2072.1,234.1 2069.7,233.1 2068.0,233.0 2067.0,232.2 2065.1,229.3 2062.8,229.5 2062.6,232.1 2059.7,233.3 2059.8,236.4 2058.3,238.5 2057.0,240.1 2057.1,244.0 2058.8,245.8 2060.6,245.0 2061.5,241.8 2062.6,238.5 2059.7,237.4 2057.1,239.2 2056.9,242.2 2055.0,242.3 2051.9,241.8 2052.1,240.3 2050.5,238.3 2049.0,238.6 2049.5,240.8 2052.2,242.6 2052.7,244.7 2056.2,246.1 2055.3,249.3 2052.7,250.6 2052.2,252.9 2050.9,254.8 2048.9,255.4 2046.7,255.0 2043.9,255.7 2040.4,256.2 2038.8,254.4 2037.5,254.8 2036.5,252.2 2035.2,252.5 2034.7,254.8 2031.8,255.4 2030.0,258.3 2030.5,260.7 2027.3,262.0 2025.8,260.3 2022.1,259.4 2021.1,260.8 2019.3,261.3 2016.9,258.8 2015.3,257.3 2013.8,258.2 2014.7,260.5 2017.2,262.9 2020.4,264.2 2022.5,261.1 2021.9,257.7 2022.0,254.0 2021.0,251.1 2019.2,250.1 2016.0,251.6 2015.6,253.0 2013.8,252.7 2013.3,249.4 2015.5,246.4 2018.1,247.1 2021.0,248.4 2022.6,250.7 2020.0,253.4 2017.9,254.6 2018.1,257.5 2016.7,257.6 2013.9,259.8 2012.7,261.3 2009.5,260.2 2007.6,260.0 2006.2,256.4 2004.1,256.7 2003.0,258.0 2003.4,259.9 2001.5,259.3 2005.1,259.1 2005.5,260.8 2002.7,258.9 2002.2,256.4 2005.1,255.9 2006.2,258.2 2008.5,257.7 2011.0,255.8 2013.6,256.7 2015.8,258.8 2019.0,256.9 2021.9,256.1 2025.3,256.3 2027.1,255.3 2028.5,252.8 2027.3,251.5 2026.2,249.0 2024.2,247.7 2021.1,246.1 2019.6,246.4 2018.0,249.6 2016.0,249.5 2014.0,249.4 2011.4,246.6 2008.8,247.6 2008.0,249.6 2006.4,249.2 2003.5,251.6 2001.9,251.0 2000.0,250.7 2000.5,248.1 2000.4,245.6 1999.8,244.4 2000.7,242.8 2003.1,244.2 2004.9,243.9 2007.0,245.5 2009.2,243.5 2012.4,242.9 2015.6,241.5 2017.0,241.3 2017.6,244.7 2014.3,246.3 2013.8,249.5 2011.5,250.9 2012.0,252.3 2012.9,254.1 2014.3,255.5 2016.2,254.7 2018.7,253.7 2019.7,255.0 2019.7,256.8 2020.1,258.4 2016.7,260.0 2013.8,260.5 2012.2,262.1 2014.1,264.2 2017.2,262.3 2020.2,264.2 2021.7,264.9 2023.2,264.0 2022.8,261.4 2022.0,259.0 2018.6,257.2 2016.6,258.8 2016.7,261.0" fill="none" stroke="#000" stroke-width="2.6" stroke-linejoin="round"  stroke-linecap="round"/>
<polyline points="2047.0,257.5 2049.4,257.8 2050.4,254.8 2047.2,252.8 2048.3,249.6 2050.4,246.9 2052.1,245.1 2055.6,246.6 2054.4,249.5 2053.1,250.2 2050.0,248.0 2049.1,245.6 2051.5,244.3 2052.9,245.8 2054.4,245.5 2056.4,246.6 2059.8,246.3 2060.6,243.9 2062.8,244.0 2064.5,245.2 2064.0,248.1 2062.4,249.2 2061.8,251.7 2063.5,253.0 2064.4,256.2 2065.2,257.6 2067.8,258.1 2069.6,257.7 2071.0,257.2 2074.0,257.5 2074.7,255.7 2073.4,255.0 2072.9,253.6 2069.8,253.9 2067.6,251.1 2066.4,250.7 2064.0,248.4 2061.9,247.1 2059.6,248.6 2058.4,251.1 2058.1,254.2 2058.5,256.1 2056.2,257.7 2056.9,261.2 2056.0,263.9 2054.6,263.3 2053.4,260.7 2053.6,258.8 2053.5,257.1 2052.6,256.2 2050.8,254.1 2050.0,252.6 2047.3,251.5 2043.5,250.8 2042.2,250.2 2040.5,253.6 2036.8,254.0 2035.2,254.6 2032.8,254.4 2030.6,256.1 2028.7,257.9 2026.5,259.0 2026.3,261.2 2026.0,262.6 2027.4,263.6 2029.5,265.1 2033.0,264.5 2034.3,265.3 2035.4,263.0 2036.8,260.8 2038.1,258.8 2036.4,257.5 2036.1,255.8 2034.5,255.0 2032.6,253.2 2030.2,252.8 2029.0,256.1 2029.5,258.0 2032.3,259.3 2034.6,260.1 2036.7,260.8 2038.0,259.8 2038.9,258.2 2036.6,256.4 2034.5,253.4 2030.9,251.9 2029.3,252.0 2029.0,248.7 2031.5,247.8 2031.1,244.7 2030.7,242.1 2028.6,242.0 2026.6,243.0 2026.9,245.0 2024.8,245.4 2022.1,243.5 2020.5,244.0 2018.3,243.4 2017.8,245.6 2017.7,247.3 2020.1,249.4 2022.3,249.8 2024.8,252.5 2028.2,254.4 2028.2,256.3 2029.1,257.8 2030.1,258.8 2032.4,260.0 2031.7,262.4 2033.4,265.4 2035.3,265.0 2036.7,264.0 2039.0,265.5 2041.5,264.0 2043.7,261.2 2046.7,261.4 2049.7,260.1 2051.1,259.2 2052.4,256.3 2054.9,253.8 2056.9,253.6 2058.0,255.5 2058.4,259.3 2061.0,260.4 2061.9,261.4 2063.8,262.5 2063.4,260.4 2062.0,260.0 2061.4,257.9 2059.0,255.7 2059.2,253.6 2061.2,251.2 2064.2,251.9 2066.8,250.6 2068.2,252.7 2067.6,254.8 2065.8,257.5 2063.1,258.3 2060.9,259.7 2059.7,258.8 2056.9,261.6 2057.2,263.0 2058.6,263.8 2060.2,265.1 2060.0,261.6 2060.1,259.7 2060.2,255.9 2059.1,252.8 2057.0,253.5 2054.9,255.8 2054.5,257.8 2054.2,260.2 2057.3,262.2 2059.5,261.5 2061.8,261.6 2062.2,263.0 2064.6,261.0 2066.5,259.9 2066.1,256.1 2069.4,254.7 2070.6,256.2 2069.9,259.3 2067.8,258.2 2064.9,256.0 2066.7,253.2 2068.7,251.9 2071.4,254.1 2072.6,255.1 2074.5,257.3 2077.4,254.9 2076.1,252.2" fill="none" stroke="#000" stroke-width="2.6" stroke-linejoin="round"  stroke-linecap="round"/>
<polyline points="2056.9,258.8 2054.7,260.8 2052.5,258.4 2053.6,255.5 2055.6,255.7 2058.2,254.0 2056.6,251.5 2053.7,251.3 2053.3,248.1 2053.8,246.5 2050.8,245.3 2048.5,245.3 2047.4,243.9 2045.0,243.1 2042.7,240.3 2040.2,242.3 2042.3,244.7 2042.9,245.9 2041.3,247.3 2038.8,247.8 2039.5,251.3 2039.3,253.7 2037.3,255.8 2035.8,256.7 2032.3,256.4 2030.4,257.3 2028.0,255.9 2028.3,252.7 2030.9,252.5 2030.8,250.9 2034.1,249.0 2034.1,246.9 2034.3,243.6 2036.8,240.9 2038.5,239.7 2036.7,238.8 2040.4,238.3 2042.5,236.8 2042.6,238.3 2044.7,241.2 2047.5,243.4 2048.8,242.5 2049.3,239.0 2047.0,238.5 2045.0,239.1 2041.7,239.8 2041.0,238.6 2041.6,240.5 2042.4,243.8 2039.8,244.7 2040.3,246.0 2041.2,247.4 2039.7,250.6 2041.5,251.6 2043.4,253.2 2041.7,255.5 2043.7,258.8 2046.0,257.9 2048.5,258.2 2049.1,255.6 2050.8,252.2 2054.5,253.1 2054.7,254.9 2058.2,255.4 2060.8,254.9 2061.7,258.3 2064.1,257.9 2065.3,259.0 2067.5,261.9 2068.6,260.7 2070.5,259.2 2072.5,259.0 2073.0,256.8 2074.4,256.5 2075.6,254.3 2077.5,253.9 2074.8,255.8 2072.4,257.7 2073.2,259.3 2070.2,261.6 2067.9,261.0 2064.7,260.2 2064.9,256.9 2063.3,255.8 2063.5,253.5 2064.8,252.7 2064.8,250.6 2065.9,249.5 2067.7,249.6 2069.2,251.2 2070.6,252.1 2073.5,251.8 2075.2,254.9 2074.1,252.6 2074.2,251.0 2071.6,250.5 2072.1,247.2 2068.6,246.5 2067.8,249.8 2064.9,250.0 2063.0,250.9 2060.4,251.8 2061.1,254.5 2064.6,255.2 2066.0,254.4 2066.8,251.3 2065.6,250.6 2063.3,250.3 2061.2,251.6 2059.3,254.1 2056.4,253.1 2055.4,254.2 2052.8,256.2 2050.0,255.1 2049.9,252.2 2049.6,249.0 2049.3,245.6 2050.2,243.9 2051.5,241.8 2054.5,242.2 2057.3,241.8 2057.1,238.1 2058.1,235.9 2056.8,233.5 2057.4,231.7 2060.0,231.1 2061.5,232.9 2064.9,231.3 2066.7,232.5 2068.6,232.3 2070.2,228.9 2073.0,229.3 2076.4,229.3 2077.9,232.3 2076.3,233.3 2074.6,232.4 2071.8,233.0 2070.5,232.4 2069.4,234.4 2067.3,233.2 2066.3,229.5 2064.4,231.1 2062.6,233.9 2062.2,235.9 2059.5,236.4 2059.4,239.7 2061.4,240.9 2063.2,242.4 2064.7,241.3 2067.7,241.8 2069.6,241.2 2071.8,239.2 2073.0,235.9 2075.9,234.9 2076.1,231.9 2072.4,231.3 2069.9,229.6 2072.7,229.6 2073.9,232.6 2070.8,234.6 2067.9,232.7 2066.8,232.0 2067.8,228.6 2066.0,229.0 2064.5,229.7 2063.1,232.0 2065.3,233.6 2066.5,232.1 2068.2,231.1 2070.0,232.8 2069.9,235.3" fill="none" stroke="#000" stroke-width="2.6" stroke-linejoin="round"  stroke-linecap="round"/>
<polyline points="2056.9,251.8 2055.5,249.0 2053.5,247.3 2051.6,248.9 2049.9,251.5 2049.4,253.8 2047.6,254.2 2045.7,254.8 2042.2,254.7 2040.7,257.7 2043.2,259.1 2043.6,261.0 2042.4,263.5 2044.0,265.7 2042.7,264.9 2040.5,261.8 2038.2,259.3 2036.5,256.0 2033.9,255.3 2031.5,254.5 2030.1,253.2 2028.5,253.3 2028.0,252.0 2027.2,250.7 2024.5,249.5 2023.9,247.6 2023.4,245.3 2023.1,242.9 2021.8,240.7 2018.1,240.9 2016.6,241.7 2015.7,245.3 2012.3,246.3 2013.0,250.1 2015.2,251.9 2014.5,253.9 2015.1,255.1 2018.3,256.9 2018.8,258.9 2021.1,261.4 2024.5,260.4 2024.4,257.9 2023.0,257.8 2021.7,254.5 2018.4,255.8 2016.5,258.1 2014.6,260.2 2015.5,261.3 2014.3,264.2 2013.0,263.0 2011.4,260.4 2010.7,257.7 2012.8,255.9 2014.9,255.5 2016.3,253.3 2016.7,250.6 2016.7,247.4 2018.7,245.8 2019.8,244.0 2016.7,242.1 2014.4,244.5 2013.8,246.3 2013.4,248.7 2011.0,250.1 2008.8,252.1 2007.2,251.4 2006.1,248.0 2002.4,248.6 2001.2,247.5 2001.0,245.6 1999.1,243.2 1998.7,241.4 1996.8,242.1 1998.1,241.6 1999.9,244.6 1998.6,245.4 1997.0,244.0 2000.0,246.4 2000.9,247.7 2004.3,248.1 2004.2,249.9 2003.7,252.2 2004.0,253.7 2007.0,254.4 2007.1,256.5 2007.2,258.2 2006.1,259.0 2002.5,260.0 2003.3,258.8 2003.3,256.1 2000.6,255.7 2003.7,254.4 2003.3,252.8 2002.9,250.8 2000.5,248.8 2001.1,251.8 2002.9,251.6 2005.3,252.2 2007.2,251.2 2007.7,247.6 2004.6,247.0 2004.3,243.3 2006.9,241.1 2006.0,237.8 2003.0,238.6 2000.7,239.4 1998.4,236.6 1998.7,233.8 1996.9,232.6 1996.5,229.6 1997.6,231.8 1999.1,232.5 1999.5,236.0 1999.1,239.4 1999.7,241.8 1999.0,243.4 2002.6,243.2 2003.4,245.2 2003.2,248.7 2004.8,250.4 2007.1,251.7 2006.4,254.1 2005.1,256.7 2005.9,259.2 2007.3,259.2 2009.3,261.4 2010.1,262.6 2012.3,262.1 2015.8,263.0 2012.2,261.7 2009.5,262.2 2007.3,261.0 2006.2,257.3 2008.8,255.6 2011.0,257.5 2013.5,256.9 2017.0,257.3 2020.0,256.4 2023.0,258.6 2025.5,258.9 2027.2,256.0 2027.1,254.0 2028.2,252.9 2031.3,254.8 2031.9,257.2 2029.3,259.6 2028.0,259.7 2026.6,258.2 2024.6,258.5 2021.1,258.9 2018.7,258.4 2015.9,257.8 2015.4,256.1 2017.7,253.1 2019.9,250.7 2021.3,249.7 2024.0,249.4 2025.4,248.9 2028.1,249.6 2031.1,247.6 2030.3,244.3 2029.7,241.4 2031.8,242.0 2034.8,243.1 2037.2,244.0 2038.7,246.5 2042.1,247.4 2041.4,250.5 2038.2,249.9 2036.6,248.8 2035.4,247.3" fill="none" stroke="#000" stroke-width="2.6" stroke-linejoin="round"  stroke-linecap="round"/>
<polyline points="2017.6,264.1 2021.0,264.2 2024.0,262.2 2026.0,262.3 2026.5,264.1 2030.3,264.4 2028.3,265.6 2025.3,264.3 2022.8,263.9 2021.1,261.2 2018.0,261.4 2016.2,263.4 2014.4,264.0 2012.7,261.5 2015.2,259.0 2018.0,260.3 2018.6,264.1 2022.1,264.6 2024.0,265.3 2027.4,265.5 2028.5,264.3 2028.3,262.3 2030.9,261.7 2034.0,262.4 2036.4,264.1 2035.3,265.2 2036.8,263.1 2038.9,260.8 2038.6,257.3 2037.6,255.9 2034.8,257.0 2031.2,256.0 2029.0,256.9 2025.6,257.7 2025.6,260.8 2024.0,260.9 2023.7,262.8 2024.5,264.2 2027.4,263.2 2030.7,262.0 2032.8,261.5 2032.6,259.5 2030.3,259.5 2028.9,258.3 2026.4,258.8 2025.1,258.4 2025.7,255.7 2029.1,255.2 2031.5,255.3 2033.0,251.8 2035.6,249.1 2035.9,245.4 2039.0,244.5 2039.9,241.9 2043.1,241.0 2042.7,239.6 2043.0,236.8 2040.6,239.8 2037.5,241.6 2035.7,244.9 2036.2,248.0 2035.2,249.1 2033.2,247.8 2032.0,246.8 2030.6,246.0 2028.1,243.7 2029.0,241.8 2026.2,239.7 2022.6,241.1 2021.6,244.3 2023.4,246.0 2023.9,248.9 2021.2,249.7 2019.6,252.1 2019.2,253.8 2019.2,256.2 2015.7,256.9 2014.4,253.3 2013.4,250.7 2014.2,248.3 2012.3,246.6 2009.0,245.0 2006.2,245.4 2003.7,245.5 2002.4,247.0 1999.5,244.8 1997.7,245.5 2000.6,246.5 2002.6,247.1 2006.4,247.5 2008.9,247.2 2009.2,249.7 2008.6,251.0 2008.0,252.2 2006.6,251.6 2006.3,248.7 2007.5,247.7 2006.0,245.7 2006.4,243.6 2008.6,243.3 2010.7,240.8 2014.0,242.3 2013.4,244.8 2010.7,245.0 2007.0,244.8 2005.2,246.8 2001.4,247.7 2000.8,246.5 2001.8,244.7 2001.0,242.8 1998.7,239.9 1998.1,238.4 1997.6,236.0 1997.7,233.6 1998.8,231.9 1998.5,228.8 1997.6,230.7 1998.7,234.3 2001.9,233.9 2005.4,235.6 2009.1,236.5 2011.9,238.2 2014.3,237.2 2017.0,237.2 2018.4,235.2 2019.8,235.9 2020.1,237.7 2021.6,241.2 2023.6,243.2 2026.3,243.0 2028.3,241.5 2026.2,240.2 2023.0,240.2 2020.1,240.6 2019.6,239.0 2021.2,237.2 2019.8,235.3 2021.2,238.0 2023.4,240.7 2023.0,242.2 2021.0,242.7 2020.6,245.3 2019.9,247.0 2017.2,248.0 2018.0,251.3 2015.7,252.9 2016.2,256.5 2017.9,256.4 2019.2,253.1 2018.1,249.7 2017.5,247.7 2016.5,246.1 2017.9,243.2 2020.7,243.0 2022.0,243.2 2022.5,246.4 2023.3,248.8 2022.2,250.2 2020.2,252.5 2020.3,254.5 2020.5,256.5 2020.1,257.8 2016.3,258.5 2015.3,256.3 2013.4,256.5 2010.0,254.8 2009.9,253.3 2011.4,251.1 2010.4,248.9 2009.4,247.7 2008.9,244.1" fill="none" stroke="#000" stroke-width="2.6" stroke-linejoin="round"  stroke-linecap="round"/>
<polyline points="2072.2,256.0 2070.6,256.9 2069.0,256.8 2068.2,254.9 2068.9,253.3 2067.0,251.4 2067.8,249.8 2071.5,249.4 2073.8,248.8 2077.3,249.0 2078.3,251.9 2080.7,248.9 2081.8,247.2 2080.8,245.7 2081.9,243.2 2080.5,245.0 2078.5,245.0 2076.3,242.2 2073.3,239.9 2071.7,240.0 2070.2,242.9 2070.7,244.4 2074.0,246.2 2074.2,248.8 2076.9,250.6 2078.0,253.5 2080.3,250.5 2078.5,249.6 2076.7,247.0 2078.2,245.8 2076.8,242.7 2076.0,240.9 2075.2,239.6 2074.0,238.6 2071.4,240.1 2071.1,243.8 2069.9,244.6 2069.8,247.0 2073.1,247.2 2075.5,246.1 2076.6,247.6 2074.4,250.2 2072.9,250.6 2070.3,249.4 2068.2,246.5 2068.3,244.4 2069.6,244.1 2070.2,242.9 2073.6,242.6 2075.1,241.7 2076.1,238.4 2076.9,236.2 2080.0,236.8 2082.5,238.4 2082.3,241.0 2081.1,244.3 2079.6,244.0 2078.4,245.6 2076.6,245.7 2075.2,242.6 2073.5,243.4 2072.3,246.0 2070.9,245.8 2069.3,247.6 2070.7,250.4 2072.8,252.0 2075.5,250.5 2077.5,250.1 2079.7,248.0 2081.8,246.0 2081.7,243.2 2082.0,240.5 2079.9,240.1 2078.4,242.5 2076.6,242.2 2073.9,241.2 2072.4,239.4 2073.0,237.2 2076.3,237.6 2077.6,238.2 2078.9,239.9 2077.8,242.2 2076.2,242.7 2074.6,243.6 2072.9,243.4 2069.1,243.4 2069.1,239.9 2072.4,239.6 2074.0,238.3 2073.1,236.4 2070.3,235.3 2068.5,235.0 2067.8,233.3 2064.6,234.5 2062.6,232.5 2061.6,229.4 2063.2,228.7 2064.7,228.8 2066.3,229.7 2069.6,230.8 2072.8,231.0 2075.6,231.7 2075.3,235.2 2071.7,236.8 2069.5,237.0 2069.3,238.9 2070.9,239.1 2071.2,241.7 2071.6,243.2 2072.0,244.4 2074.1,244.0 2074.8,242.6 2072.9,241.3 2070.1,238.6 2067.6,240.3 2067.0,241.8 2065.4,243.1 2062.6,242.5 2061.3,241.4 2058.5,243.9 2057.8,245.1 2055.2,245.4 2051.8,245.0 2050.4,247.5 2051.9,249.2 2055.1,250.5 2056.4,248.0 2058.1,248.7 2059.9,250.2 2062.8,251.3 2063.5,250.0 2060.5,248.3 2061.4,246.7 2063.3,243.8 2062.9,240.6 2061.6,239.6 2060.1,236.2 2056.8,234.1 2058.1,236.0 2059.0,239.1 2062.1,239.8 2065.8,240.7 2065.9,242.3 2064.4,242.9 2061.1,241.8 2058.6,243.5 2056.8,246.2 2055.3,249.2 2057.6,251.9 2056.4,254.7 2058.9,256.9 2061.1,259.1 2063.1,258.4 2064.3,260.0 2065.7,263.1 2067.2,262.5 2067.2,260.4 2070.7,260.0 2071.9,258.9 2073.8,256.4 2076.2,254.1 2075.6,252.7 2076.3,251.5 2079.3,252.8 2080.8,250.3 2079.7,249.4 2077.5,250.4 2075.4,250.9 2075.5,252.7 2074.4,253.6 2073.9,254.8" fill="none" stroke="#000" stroke-width="2.6" stroke-linejoin="round"  stroke-linecap="round"/>
<polyline points="2066.5,253.4 2068.3,250.8 2069.5,251.4 2070.8,250.3 2073.4,249.4 2076.5,248.8 2077.3,251.1 2080.1,250.7 2081.5,247.5 2080.8,244.1 2077.6,242.5 2075.3,243.2 2071.7,242.2 2071.6,239.8 2071.8,236.2 2073.9,233.4 2073.7,230.6 2075.6,230.5 2078.6,230.5 2079.6,232.4 2078.8,235.6 2079.5,236.8 2077.6,238.7 2073.8,237.9 2073.3,235.9 2075.8,234.0 2074.2,231.1 2071.8,231.2 2071.2,229.9 2069.9,229.3 2069.0,231.3 2066.7,234.1 2063.3,234.3 2061.3,237.3 2061.6,241.1 2063.4,242.5 2064.4,244.8 2063.8,247.6 2065.9,249.0 2067.7,246.7 2071.1,245.3 2071.9,247.2 2075.1,249.2 2077.9,246.5 2077.0,243.3 2074.7,243.4 2072.4,245.2 2071.2,246.0 2068.2,245.5 2068.0,244.1 2067.5,242.5 2070.0,241.5 2072.0,239.2 2070.0,236.1 2071.2,235.2 2070.8,233.1 2072.4,232.3 2072.5,229.0 2070.7,229.5 2069.1,231.8 2070.4,232.7 2071.0,234.1 2072.9,234.3 2074.5,233.8 2078.0,234.5 2079.6,235.8 2080.5,236.8 2082.3,235.8 2080.0,237.4 2078.6,239.2 2078.0,241.6 2074.9,241.8 2073.4,241.9 2072.7,239.8 2070.8,237.4 2070.0,235.6 2068.6,234.9 2066.1,236.8 2064.4,237.8 2062.5,237.9 2060.8,235.0 2058.6,233.9 2057.4,232.9 2055.0,232.2 2053.8,235.0 2051.7,236.1 2048.2,236.0 2050.2,236.8 2051.6,239.8 2050.7,242.4 2052.5,244.7 2051.3,247.2 2049.9,246.9 2048.5,249.2 2048.3,251.2 2049.5,253.0 2052.7,252.6 2054.9,253.6 2057.6,254.6 2059.7,253.4 2061.0,253.5 2062.5,251.9 2063.8,252.5 2065.3,253.1 2068.8,254.0 2071.5,251.9 2071.3,250.2 2070.5,246.5 2071.7,243.9 2073.0,242.5 2075.7,241.0 2077.2,238.9 2077.2,236.4 2074.8,234.1 2072.6,234.6 2070.1,233.4 2069.5,230.8 2065.7,230.8 2063.2,229.3 2065.8,229.7 2068.2,230.1 2068.3,233.9 2069.8,235.9 2073.2,236.0 2075.2,233.2 2077.4,230.8 2078.6,230.3 2078.9,231.6 2079.8,233.1 2081.4,234.7 2082.8,233.3 2082.1,232.1 2080.8,232.8 2079.2,230.3 2079.1,233.0 2078.3,234.2 2077.0,233.5 2078.1,231.3 2080.6,231.5 2081.0,233.6 2081.9,236.6 2079.4,238.3 2079.9,240.8 2082.6,241.1 2082.5,238.4 2080.3,237.1 2082.0,234.0 2081.9,232.2 2081.4,235.4 2082.6,236.2 2079.1,235.9 2075.9,233.7 2072.8,234.2 2071.4,235.4 2068.4,235.1 2065.6,234.5 2064.4,236.6 2061.4,236.2 2061.3,234.7 2060.5,233.3 2058.4,231.0 2060.1,233.9 2063.0,232.4 2063.7,229.6 2063.0,233.0 2061.1,234.0 2060.6,235.6 2062.0,236.4 2064.0,236.2 2065.2,238.7 2067.4,239.2" fill="none" stroke="#000" stroke-width="2.6" stroke-linejoin="round"  stroke-linecap="round"/>
<polyline points="1979.5,240.4 1977.4,242.4 1976.8,244.5 1975.2,244.4 1973.8,243.3 1974.3,241.8 1972.7,239.0 1974.0,237.3 1975.6,234.9 1976.9,235.0 1977.5,237.2 1978.3,239.7 1979.6,243.2 1979.2,245.6 1978.4,246.6 1975.9,247.1 1975.9,248.8 1977.6,251.8 1978.3,249.2 1978.6,247.7 1977.8,246.2 1975.4,244.2 1972.0,244.6 1970.2,243.6 1969.9,241.5 1972.0,241.9 1974.1,243.1 1975.7,242.7 1975.8,240.1 1977.3,239.8 1980.2,241.4 1979.2,244.5 1980.2,247.0 1979.3,249.2 1979.1,250.5 1978.3,252.1 1979.6,251.7 1980.9,249.9 1978.5,246.9 1977.4,245.2 1974.6,244.7 1973.5,245.8 1971.0,246.1 1973.7,243.9 1973.5,242.2 1975.9,240.5 1977.4,240.1 1978.2,237.7 1976.8,235.0 1978.0,233.3 1979.1,231.3 1977.7,230.1 1977.6,226.5 1979.1,225.1 1980.5,225.5 1983.8,224.9 1986.0,226.4 1988.9,224.1 1988.2,221.1 1986.3,220.3 1987.9,221.5 1990.0,220.9 1990.3,219.4 1993.1,219.6 1995.3,220.1 1994.1,223.6 1995.4,224.4 1995.6,228.3 1997.1,227.2 1996.0,228.6 1994.2,228.8 1991.5,227.1 1990.0,227.6 1986.9,228.9 1984.4,228.4 1981.4,229.0 1979.9,226.9 1977.8,226.5 1977.0,225.3 1975.7,226.9 1974.2,226.3 1972.4,228.4 1972.6,229.8 1974.7,231.8 1976.4,234.4 1976.4,236.7 1973.3,237.9 1972.0,236.7 1970.0,237.0 1970.8,239.6 1972.1,243.1 1974.5,244.9 1975.9,245.3 1977.5,245.6 1978.3,243.9 1980.1,242.3 1981.6,240.4 1984.1,239.4 1983.8,236.6 1981.1,234.8 1981.0,231.0" fill="none" stroke="#000" stroke-width="2.6" stroke-linejoin="round"  stroke-linecap="round"/>
<polyline points="1990.2,232.9 1989.9,229.7 1987.7,228.0 1986.7,225.8 1985.7,224.2 1986.1,222.2 1988.0,223.7 1989.3,223.9 1991.6,226.5 1994.6,226.2 1998.3,225.2 1997.3,226.6 1996.8,228.1 1993.5,230.2 1992.3,231.8 1990.2,233.9 1990.3,236.9 1989.0,238.2 1986.9,237.1 1985.7,235.1 1987.4,233.4 1988.0,229.8 1990.9,228.8 1992.3,231.3 1994.5,231.1 1995.3,233.0 1996.3,234.7 1997.7,237.2 1997.0,234.8 1993.8,234.6 1992.3,235.1 1989.9,232.6 1988.3,230.7 1989.3,228.4 1991.4,227.2 1994.0,225.2 1996.3,223.5 1997.1,220.9 1996.0,221.8 1992.8,222.1 1992.1,225.2 1990.9,228.0 1988.8,228.2 1985.9,228.0 1982.6,229.3 1982.7,230.9 1983.6,233.1 1983.6,235.5 1986.5,236.9 1987.8,235.6 1991.0,236.7 1994.8,237.5 1995.4,240.9 1994.6,243.0 1993.3,244.6 1994.7,245.5 1996.8,246.4 1994.4,244.6 1993.1,241.6 1992.3,239.7 1989.5,238.9 1988.2,239.5 1984.9,240.1 1982.5,240.4 1979.5,240.9 1977.7,241.0 1976.1,239.2 1975.4,237.4 1976.7,234.6 1977.6,232.1 1977.5,229.5 1976.0,228.8 1974.3,228.9 1972.6,229.9 1970.9,231.5 1968.6,231.5 1970.9,232.2 1974.5,233.1 1977.5,233.9 1980.4,235.4 1982.6,238.3 1985.9,237.8 1987.7,235.5 1987.5,233.3 1987.6,231.8 1987.2,228.4 1986.4,226.2 1985.5,222.9 1987.9,220.1 1989.7,220.5 1992.8,219.6 1995.8,220.9 1993.0,220.6 1991.7,221.2 1989.5,223.3 1990.9,226.4 1992.1,226.9 1992.2,229.2 1990.8,230.7 1989.2,231.0 1988.1,232.7" fill="none" stroke="#000" stroke-width="2.6" stroke-linejoin="round"  stroke-linecap="round"/>
<polyline points="1996.7,225.6 1994.1,225.6 1993.2,222.8 1990.7,221.4 1990.9,218.9 1989.1,217.7 1992.8,218.8 1994.8,220.6 1992.6,220.7 1991.1,219.7 1991.1,218.1 1988.1,220.2 1986.4,222.8 1989.6,224.3 1991.4,223.4 1993.4,222.1 1995.0,221.7 1997.7,224.0 1996.4,226.8 1995.9,229.0 1995.5,232.2 1996.2,233.4 1997.5,233.1 1996.2,234.0 1996.7,235.9 1996.4,238.7 1994.9,241.1 1994.7,243.7 1994.3,245.9 1996.3,247.9 1995.5,244.6 1996.0,242.2 1995.7,239.7 1993.1,238.9 1990.6,236.6 1989.0,234.0 1990.0,231.6 1987.8,228.4 1988.3,227.3 1992.1,227.6 1994.1,225.7 1995.5,224.4 1998.3,224.4 1996.6,223.2 1993.1,223.2 1989.7,223.3 1989.0,225.7 1986.6,226.1 1984.9,223.6 1983.2,223.7 1984.2,221.4 1987.6,220.2 1990.4,221.2 1993.3,219.3 1991.4,219.3 1989.9,220.2 1990.3,222.9 1990.2,225.5 1988.3,228.8 1984.7,227.7 1983.3,228.1 1981.9,225.3 1981.5,223.6 1982.5,225.0 1984.3,227.1 1985.2,229.3 1984.0,230.6 1981.2,230.5 1979.4,232.7 1980.9,234.6 1980.0,237.6 1977.3,240.1 1976.3,241.0 1977.2,243.3 1980.2,243.3 1982.3,245.5 1984.5,247.2 1983.9,250.6 1981.3,252.0 1983.2,249.6 1982.3,247.9 1982.4,244.4 1980.1,243.6 1979.1,240.4 1980.4,237.3 1980.9,235.0 1978.9,233.7 1977.3,235.4 1976.9,238.4 1975.7,239.2 1973.3,239.1 1970.2,240.7 1972.9,239.0 1974.5,237.3 1974.8,235.8 1973.0,234.3 1972.0,233.5 1969.8,230.7 1970.1,229.2 1972.0,228.0 1974.6,226.0" fill="none" stroke="#000" stroke-width="2.6" stroke-linejoin="round"  stroke-linecap="round"/>
<polyline points="1979.1,234.5 1979.3,236.5 1977.4,237.5 1977.4,240.4 1978.7,242.3 1979.9,245.1 1980.6,246.5 1981.8,248.9 1980.8,250.7 1981.8,251.6 1983.2,251.9 1981.2,251.9 1982.0,248.2 1980.6,244.7 1982.1,243.4 1982.9,241.4 1984.4,241.4 1986.9,243.3 1987.7,245.1 1988.9,246.8 1987.2,247.1 1985.2,243.9 1985.6,241.0 1983.3,238.5 1981.4,237.2 1981.6,235.7 1979.2,234.9 1977.6,234.6 1976.1,233.8 1975.0,234.8 1974.5,236.2 1973.6,237.2 1972.0,238.7 1970.7,240.2 1969.4,242.8 1970.8,242.7 1973.8,242.9 1976.0,245.3 1977.9,248.7 1976.3,252.0 1975.0,252.2 1973.5,248.7 1972.7,247.0 1973.7,244.9 1972.4,243.0 1971.7,241.1 1974.0,238.9 1974.5,236.1 1976.2,232.8 1979.2,232.3 1982.3,230.4 1984.1,230.1 1986.8,231.2 1988.1,232.1 1990.7,229.7 1994.2,229.7 1995.9,228.1 1997.3,225.9 1995.6,223.8 1992.6,221.7 1989.7,222.1 1988.0,223.2 1986.1,224.0 1983.4,223.4 1986.0,223.7 1986.3,226.4 1987.7,229.0 1986.3,230.2 1984.1,231.1 1983.4,233.2 1982.9,237.0 1981.9,240.1 1982.9,241.3 1984.2,243.3 1984.9,244.8 1984.6,246.2 1983.0,247.0 1981.8,248.0 1978.9,249.8 1977.1,250.3 1975.1,249.3 1973.9,250.2 1973.0,252.0 1971.9,250.2 1973.2,248.9 1975.7,248.7 1977.4,251.7 1979.1,249.5 1980.6,249.2 1981.9,246.5 1984.9,246.3 1986.2,243.7 1989.0,242.1 1988.7,239.8 1990.1,237.2 1988.4,234.2 1990.4,232.3 1988.5,229.1 1988.6,226.6 1991.9,224.6 1991.5,222.1" fill="none" stroke="#000" stroke-width="2.6" stroke-linejoin="round"  stroke-linecap="round"/>
<polyline points="2069.3,227.1 2069.1,225.4 2072.3,223.8 2073.7,223.3 2076.4,222.0 2079.3,224.5 2081.0,225.2 2083.2,224.9 2084.9,226.5 2085.5,227.9 2084.7,231.1 2084.0,234.7 2086.5,236.5 2085.9,239.7 2088.5,241.4 2086.8,241.5 2084.2,241.2 2083.2,237.6 2085.6,236.1 2086.9,236.8 2090.3,235.8 2091.0,238.7 2089.7,236.1 2089.7,233.5 2090.2,230.6 2090.7,233.4 2087.7,235.5 2088.5,238.2 2091.0,236.7 2090.0,239.6 2090.6,241.2 2090.8,242.6 2090.0,245.5 2090.2,243.3 2089.2,245.0 2088.0,246.3 2085.2,244.0 2083.7,244.6 2083.8,246.1 2083.2,244.7 2083.3,241.6 2083.8,244.4 2084.2,248.0 2083.8,245.7 2083.5,243.7 2083.8,241.3 2083.2,239.5 2084.9,242.9 2085.9,245.7 2087.4,246.6 2084.3,246.4 2083.1,245.3 2083.4,244.0 2085.2,243.0 2086.7,244.2 2088.4,244.9 2087.7,242.2 2089.1,240.2 2090.0,238.9 2091.1,236.3 2090.1,232.6 2089.6,229.2 2087.8,226.7 2084.7,226.0 2083.1,225.1 2080.2,225.6 2077.3,226.6 2075.5,227.8 2073.9,228.3 2074.4,224.5 2073.2,223.3 2071.4,225.8 2070.0,227.2 2067.8,226.9 2067.6,225.6 2068.8,226.3 2070.3,226.6 2071.6,225.7 2073.9,226.5 2075.8,226.8 2078.2,226.0 2079.1,223.2 2078.4,219.5 2079.4,222.6 2081.0,223.9 2080.7,226.8 2078.3,228.6 2076.9,227.7 2074.9,227.6 2072.9,227.7 2076.0,227.5" fill="none" stroke="#000" stroke-width="2.6" stroke-linejoin="round"  stroke-linecap="round"/>
<polyline points="2088.5,221.3 2091.0,220.1 2088.1,217.8 2086.7,215.5 2085.9,216.9 2084.8,219.9 2082.8,222.5 2081.7,225.7 2082.9,229.0 2084.3,230.1 2085.6,232.4 2086.4,234.0 2087.1,235.4 2089.2,237.6 2090.0,238.5 2088.8,241.2 2090.8,242.7 2089.1,244.9 2087.2,244.4 2084.2,243.4 2083.0,243.8 2085.0,240.8 2084.2,237.6 2084.3,236.2 2084.7,234.6 2086.9,234.5 2090.3,233.1 2088.7,231.3 2087.2,229.5 2089.0,226.8 2087.8,223.2 2084.4,221.5 2083.2,222.2 2081.3,223.4 2080.4,226.4 2082.9,228.1 2084.3,227.4 2085.9,228.0 2089.2,229.2 2091.1,229.0 2088.4,227.2 2086.4,225.4 2083.1,225.8 2079.2,226.0 2078.1,224.3 2077.3,221.8 2078.4,223.1 2079.2,225.5 2080.3,227.2 2083.1,229.4 2082.4,231.0 2085.1,233.2 2087.6,232.9 2088.9,233.8 2085.7,232.3 2083.3,231.9 2082.6,230.1 2084.0,228.9 2084.5,227.0 2087.1,226.7 2090.5,226.8 2090.2,225.0 2089.4,223.6 2089.6,222.3 2092.4,220.0 2092.5,217.5 2090.5,219.4 2086.7,219.8 2085.7,217.7 2085.5,216.4 2083.4,219.0 2082.3,221.1 2082.5,224.0 2080.4,226.9 2076.9,225.4 2074.8,224.9 2072.6,227.8 2073.7,225.1 2075.3,225.4 2075.6,228.0 2076.6,224.6 2076.8,221.1 2075.9,224.0 2074.7,225.6 2075.0,227.6 2072.9,226.5 2071.5,224.5 2069.2,225.6 2068.0,227.1 2069.9,224.1 2066.4,225.4" fill="none" stroke="#000" stroke-width="2.6" stroke-linejoin="round"  stroke-linecap="round"/>
<polyline points="2086.8,223.2 2087.3,224.8 2089.1,226.9 2088.4,228.7 2087.0,228.4 2086.3,229.7 2085.7,231.4 2084.5,233.9 2083.0,232.7 2084.7,232.6 2086.0,235.5 2087.2,236.3 2089.8,235.6 2089.5,232.3 2088.4,228.5 2089.7,226.7 2090.7,224.7 2091.4,223.5 2090.6,224.8 2090.2,226.1 2086.4,226.3 2083.4,225.0 2081.4,226.7 2080.3,228.8 2077.3,229.2 2075.4,227.1 2074.2,227.7 2072.5,228.0 2074.4,226.1 2075.8,225.0 2075.5,223.6 2072.8,223.9 2070.6,224.8 2067.6,225.0 2065.3,225.3 2067.3,226.0 2069.6,225.2 2071.9,226.5 2071.2,225.2 2069.0,224.3 2070.3,226.8 2073.8,226.2 2075.8,225.2 2077.0,223.9 2078.3,222.4 2078.7,220.2 2080.5,221.2 2079.6,224.5 2075.8,224.5 2078.0,227.1 2081.6,227.8 2085.1,226.7 2085.0,224.0 2083.2,221.3 2084.4,220.0 2085.7,217.1 2085.7,219.6 2084.5,221.5 2084.1,223.9 2081.5,225.5 2078.4,224.9 2075.9,223.0 2075.9,221.5 2078.0,220.7 2080.7,220.0 2081.8,221.0 2080.8,224.1 2079.2,226.8 2078.2,228.0 2077.8,229.7 2075.9,228.0 2076.2,224.4 2077.6,223.3 2079.1,220.5 2080.4,219.7 2079.8,221.1 2076.8,222.2 2076.2,225.2 2077.2,227.5 2080.3,229.7 2081.9,226.9 2081.1,225.0 2079.8,225.2 2077.5,227.2 2075.5,228.0 2077.7,225.2 2079.3,224.9 2079.7,221.4 2081.2,220.9 2082.7,219.2 2084.6,217.7" fill="none" stroke="#000" stroke-width="2.6" stroke-linejoin="round"  stroke-linecap="round"/>
<polyline points="2079.0,221.3 2079.1,219.9 2077.9,221.8 2076.6,222.9 2075.4,224.0 2073.1,224.9 2071.8,225.7 2072.2,227.3 2072.7,223.8 2072.3,225.6 2070.5,226.2 2072.7,224.6 2073.2,223.4 2074.7,223.6 2075.7,224.7 2077.3,225.2 2077.4,228.8 2080.8,229.9 2083.7,231.1 2086.8,229.5 2086.4,225.9 2087.7,225.1 2090.4,228.0 2090.1,231.3 2089.8,229.7 2087.3,228.7 2084.7,226.3 2083.7,223.0 2080.7,223.1 2079.1,226.5 2078.8,228.5 2079.4,229.8 2081.1,229.0 2082.2,226.5 2080.5,224.2 2077.6,225.4 2077.6,228.5 2075.8,228.4 2074.8,227.4 2075.5,224.1 2077.3,223.1 2078.1,221.8 2075.8,222.5 2074.0,225.5 2074.5,227.2 2074.5,228.8 2071.5,227.6 2070.7,225.3 2070.1,224.1 2072.0,227.5 2075.6,227.1 2077.5,228.3 2077.1,229.6 2078.8,228.5 2077.4,225.1 2074.7,223.2 2072.9,224.1 2069.7,226.1 2066.3,225.7 2068.8,227.1 2070.8,227.0 2068.9,226.2 2065.7,225.6 2067.0,225.2 2069.3,225.5 2070.9,225.5 2074.6,225.3 2076.2,223.6 2076.7,225.0 2075.8,228.1 2071.9,227.7 2071.2,224.2 2071.6,226.3 2070.2,227.6 2067.4,224.9 2070.7,224.6 2073.5,224.4 2075.5,222.8 2077.9,221.2 2079.9,220.8 2081.5,221.7 2083.8,221.8 2084.9,219.8 2086.2,219.8 2088.3,219.8 2091.2,222.0 2090.7,218.6 2089.5,217.2 2090.7,215.8 2092.7,213.4 2092.7,214.9" fill="none" stroke="#000" stroke-width="2.6" stroke-linejoin="round"  stroke-linecap="round"/>
<polyline points="2125.6,168.9 2127.7,169.4 2128.4,168.5 2130.5,168.3 2131.3,170.0 2130.1,171.2 2128.0,169.3 2125.9,168.6 2125.3,167.2 2125.0,164.3 2122.3,163.4 2121.3,160.6 2120.1,160.1 2120.9,157.4 2120.4,159.0 2119.6,160.7 2117.7,158.9 2119.9,157.7 2118.2,159.3 2120.4,160.6 2121.8,160.1 2123.1,159.5 2122.4,156.6 2120.8,157.6 2121.3,159.5 2124.2,158.0 2122.5,157.0 2125.5,157.4 2128.4,157.1 2129.0,159.2 2130.1,161.7 2131.0,162.5 2130.4,164.1 2129.7,166.8 2130.8,167.1 2130.9,164.7 2129.9,163.4 2127.5,161.3 2125.7,162.2 2125.2,159.8 2123.1,159.3 2121.7,159.1 2120.1,159.9 2119.2,158.3 2119.3,160.5 2116.2,161.2 2115.8,162.2 2115.9,163.5 2116.2,164.7 2119.4,164.2 2121.3,165.0 2120.8,167.8 2120.5,169.9 2122.4,169.5 2121.5,167.2 2121.7,165.8 2122.6,164.8 2120.4,163.8 2117.4,162.9 2116.4,163.8 2117.0,165.8 2115.8,164.1 2115.8,163.0 2116.9,163.5 2118.4,164.6 2118.9,162.0 2116.6,162.2 2116.6,159.9 2118.0,159.8 2119.9,160.2 2120.6,158.8 2122.8,156.6 2124.6,158.2 2123.3,160.2 2124.8,161.2 2126.9,161.3 2129.9,159.9 2132.4,159.4 2129.8,160.0 2130.8,161.6 2131.5,159.5 2133.1,159.7 2132.8,162.3 2131.4,161.9 2130.7,160.7 2128.4,163.0 2131.4,163.6 2131.9,166.1 2129.8,167.6 2130.0,169.7 2133.0,169.9 2133.5,172.7 2130.8,173.1 2132.4,171.0 2133.0,172.0 2130.3,170.3 2132.2,169.5 2132.7,170.6 2133.6,170.0 2132.6,169.4 2133.3,168.3 2134.6,167.3 2133.1,165.9 2130.8,168.2 2130.3,170.6 2129.0,172.7 2128.3,174.2 2131.3,175.0 2132.0,173.1 2132.9,175.1 2132.9,172.9 2132.5,169.8 2129.5,170.4 2129.5,167.5 2128.3,166.3 2127.2,167.9 2125.8,166.6 2126.0,168.4 2128.1,167.2 2130.3,169.4 2131.1,167.6" fill="none" stroke="#000" stroke-width="2.6" stroke-linejoin="round"  stroke-linecap="round"/>
<circle cx="2119.3" cy="175" r="13.6" fill="none" stroke="#ff0000" stroke-width="1.3"/>
<rect x="1854.6" y="92.0" width="315.0" height="252.2" fill="none" stroke="#262626" stroke-width="1.3"/>
<line x1="1886.4" y1="344.2" x2="1886.4" y2="340.5" stroke="#262626" stroke-width="1.3" />
<line x1="1886.4" y1="92.0" x2="1886.4" y2="95.7" stroke="#262626" stroke-width="1.3" />
<line x1="1958.4" y1="344.2" x2="1958.4" y2="340.5" stroke="#262626" stroke-width="1.3" />
<line x1="1958.4" y1="92.0" x2="1958.4" y2="95.7" stroke="#262626" stroke-width="1.3" />
<line x1="2030.4" y1="344.2" x2="2030.4" y2="340.5" stroke="#262626" stroke-width="1.3" />
<line x1="2030.4" y1="92.0" x2="2030.4" y2="95.7" stroke="#262626" stroke-width="1.3" />
<line x1="2102.4" y1="344.2" x2="2102.4" y2="340.5" stroke="#262626" stroke-width="1.3" />
<line x1="2102.4" y1="92.0" x2="2102.4" y2="95.7" stroke="#262626" stroke-width="1.3" />
<line x1="1854.6" y1="145.7" x2="1858.3" y2="145.7" stroke="#262626" stroke-width="1.3" />
<line x1="2169.6" y1="145.7" x2="2165.9" y2="145.7" stroke="#262626" stroke-width="1.3" />
<line x1="1854.6" y1="210.7" x2="1858.3" y2="210.7" stroke="#262626" stroke-width="1.3" />
<line x1="2169.6" y1="210.7" x2="2165.9" y2="210.7" stroke="#262626" stroke-width="1.3" />
<line x1="1854.6" y1="275.7" x2="1858.3" y2="275.7" stroke="#262626" stroke-width="1.3" />
<line x1="2169.6" y1="275.7" x2="2165.9" y2="275.7" stroke="#262626" stroke-width="1.3" />
<line x1="1854.6" y1="340.7" x2="1858.3" y2="340.7" stroke="#262626" stroke-width="1.3" />
<line x1="2169.6" y1="340.7" x2="2165.9" y2="340.7" stroke="#262626" stroke-width="1.3" />
<text x="1884.9" y="380.0" font-size="26.4" text-anchor="middle" fill="#262626" font-weight="normal" >-4</text>
<text x="1956.9" y="380.0" font-size="26.4" text-anchor="middle" fill="#262626" font-weight="normal" >-2</text>
<text x="2030.4" y="380.0" font-size="26.4" text-anchor="middle" fill="#262626" font-weight="normal" >0</text>
<text x="2102.4" y="380.0" font-size="26.4" text-anchor="middle" fill="#262626" font-weight="normal" >2</text>
<text x="1845.0" y="155.2" font-size="26.4" text-anchor="end" fill="#262626" font-weight="normal" >-3</text>
<text x="1845.0" y="220.2" font-size="26.4" text-anchor="end" fill="#262626" font-weight="normal" >-4</text>
<text x="1845.0" y="285.2" font-size="26.4" text-anchor="end" fill="#262626" font-weight="normal" >-5</text>
<text x="1845.0" y="350.2" font-size="26.4" text-anchor="end" fill="#262626" font-weight="normal" >-6</text>
<text x="1967" y="415.2" font-size="29.4" fill="#262626">B<tspan font-size="24" dy="13.3">L</tspan><tspan dy="-13.3"> [nT]</tspan></text>
<text transform="translate(1795.4,266) rotate(-90)" font-size="29.4" fill="#262626">B<tspan font-size="24" dy="13.6">N</tspan><tspan dy="-13.6"> [nT]</tspan></text>
<text x="1881.7" y="327.3" font-size="40" text-anchor="start" fill="#000" font-weight="bold" >g</text>
<circle cx="1829.2" cy="734.8" r="6.2" fill="none" stroke="#000" stroke-width="1.2"/>
<circle cx="1796.6" cy="778.5" r="6.2" fill="none" stroke="#000" stroke-width="1.2"/>
<circle cx="1808.6" cy="765.6" r="6.2" fill="none" stroke="#000" stroke-width="1.2"/>
<circle cx="1821.0" cy="752.3" r="6.2" fill="none" stroke="#000" stroke-width="1.2"/>
<circle cx="1818.1" cy="761.3" r="6.2" fill="none" stroke="#000" stroke-width="1.2"/>
<circle cx="1782.7" cy="806.6" r="6.2" fill="none" stroke="#000" stroke-width="1.2"/>
<circle cx="1733.8" cy="817.5" r="6.2" fill="none" stroke="#000" stroke-width="1.2"/>
<circle cx="1823.3" cy="758.4" r="6.2" fill="none" stroke="#000" stroke-width="1.2"/>
<circle cx="1825.4" cy="744.4" r="6.2" fill="none" stroke="#000" stroke-width="1.2"/>
<circle cx="1834.1" cy="730.2" r="6.2" fill="none" stroke="#000" stroke-width="1.2"/>
<circle cx="1781.6" cy="781.2" r="6.2" fill="none" stroke="#000" stroke-width="1.2"/>
<circle cx="1825.3" cy="747.7" r="6.2" fill="none" stroke="#000" stroke-width="1.2"/>
<circle cx="1785.1" cy="783.2" r="6.2" fill="none" stroke="#000" stroke-width="1.2"/>
<circle cx="1784.1" cy="785.5" r="6.2" fill="none" stroke="#000" stroke-width="1.2"/>
<circle cx="1805.1" cy="775.8" r="6.2" fill="none" stroke="#000" stroke-width="1.2"/>
<circle cx="1739.8" cy="831.6" r="6.2" fill="none" stroke="#000" stroke-width="1.2"/>
<circle cx="1789.4" cy="755.9" r="6.2" fill="none" stroke="#000" stroke-width="1.2"/>
<circle cx="1786.8" cy="777.1" r="6.2" fill="none" stroke="#000" stroke-width="1.2"/>
<circle cx="1808.5" cy="765.3" r="6.2" fill="none" stroke="#000" stroke-width="1.2"/>
<circle cx="1818.1" cy="769.7" r="6.2" fill="none" stroke="#000" stroke-width="1.2"/>
<circle cx="1754.7" cy="819.3" r="6.2" fill="none" stroke="#000" stroke-width="1.2"/>
<circle cx="1767.3" cy="821.6" r="6.2" fill="none" stroke="#000" stroke-width="1.2"/>
<circle cx="1794.2" cy="773.4" r="6.2" fill="none" stroke="#000" stroke-width="1.2"/>
<circle cx="1866.7" cy="706.6" r="6.2" fill="none" stroke="#000" stroke-width="1.2"/>
<circle cx="1881.8" cy="699.3" r="6.2" fill="none" stroke="#000" stroke-width="1.2"/>
<circle cx="1793.2" cy="769.9" r="6.2" fill="none" stroke="#000" stroke-width="1.2"/>
<circle cx="1802.9" cy="769.2" r="6.2" fill="none" stroke="#000" stroke-width="1.2"/>
<circle cx="1843.0" cy="727.9" r="6.2" fill="none" stroke="#000" stroke-width="1.2"/>
<circle cx="1814.0" cy="750.6" r="6.2" fill="none" stroke="#000" stroke-width="1.2"/>
<circle cx="1697.3" cy="879.3" r="6.2" fill="none" stroke="#000" stroke-width="1.2"/>
<circle cx="1879.3" cy="696.8" r="6.2" fill="none" stroke="#000" stroke-width="1.2"/>
<circle cx="1746.0" cy="830.8" r="6.2" fill="none" stroke="#000" stroke-width="1.2"/>
<circle cx="1913.4" cy="664.8" r="6.2" fill="none" stroke="#000" stroke-width="1.2"/>
<circle cx="1819.7" cy="748.9" r="6.2" fill="none" stroke="#000" stroke-width="1.2"/>
<circle cx="1789.3" cy="781.8" r="6.2" fill="none" stroke="#000" stroke-width="1.2"/>
<circle cx="1832.8" cy="743.0" r="6.2" fill="none" stroke="#000" stroke-width="1.2"/>
<circle cx="1772.2" cy="808.7" r="6.2" fill="none" stroke="#000" stroke-width="1.2"/>
<circle cx="1763.1" cy="808.5" r="6.2" fill="none" stroke="#000" stroke-width="1.2"/>
<circle cx="1887.9" cy="685.8" r="6.2" fill="none" stroke="#000" stroke-width="1.2"/>
<circle cx="1860.0" cy="731.1" r="6.2" fill="none" stroke="#000" stroke-width="1.2"/>
<circle cx="1806.8" cy="764.3" r="6.2" fill="none" stroke="#000" stroke-width="1.2"/>
<circle cx="1826.4" cy="747.8" r="6.2" fill="none" stroke="#000" stroke-width="1.2"/>
<circle cx="1822.5" cy="745.0" r="6.2" fill="none" stroke="#000" stroke-width="1.2"/>
<circle cx="1824.2" cy="751.2" r="6.2" fill="none" stroke="#000" stroke-width="1.2"/>
<circle cx="1811.0" cy="761.6" r="6.2" fill="none" stroke="#000" stroke-width="1.2"/>
<circle cx="1828.7" cy="742.5" r="6.2" fill="none" stroke="#000" stroke-width="1.2"/>
<circle cx="1825.0" cy="753.9" r="6.2" fill="none" stroke="#000" stroke-width="1.2"/>
<circle cx="1827.9" cy="736.7" r="6.2" fill="none" stroke="#000" stroke-width="1.2"/>
<circle cx="1812.8" cy="757.6" r="6.2" fill="none" stroke="#000" stroke-width="1.2"/>
<circle cx="1818.1" cy="758.5" r="6.2" fill="none" stroke="#000" stroke-width="1.2"/>
<circle cx="1848.0" cy="705.2" r="6.2" fill="none" stroke="#000" stroke-width="1.2"/>
<circle cx="1820.2" cy="747.3" r="6.2" fill="none" stroke="#000" stroke-width="1.2"/>
<circle cx="1832.0" cy="771.2" r="6.2" fill="none" stroke="#000" stroke-width="1.2"/>
<circle cx="1849.0" cy="733.4" r="6.2" fill="none" stroke="#000" stroke-width="1.2"/>
<circle cx="1806.3" cy="763.1" r="6.2" fill="none" stroke="#000" stroke-width="1.2"/>
<circle cx="1751.3" cy="821.4" r="6.2" fill="none" stroke="#000" stroke-width="1.2"/>
<circle cx="1819.4" cy="737.7" r="6.2" fill="none" stroke="#000" stroke-width="1.2"/>
<circle cx="1887.5" cy="686.9" r="6.2" fill="none" stroke="#000" stroke-width="1.2"/>
<circle cx="1750.1" cy="817.2" r="6.2" fill="none" stroke="#000" stroke-width="1.2"/>
<circle cx="1835.6" cy="738.4" r="6.2" fill="none" stroke="#000" stroke-width="1.2"/>
<circle cx="1814.5" cy="760.9" r="6.2" fill="none" stroke="#000" stroke-width="1.2"/>
<circle cx="1787.6" cy="769.4" r="6.2" fill="none" stroke="#000" stroke-width="1.2"/>
<circle cx="1920.9" cy="653.6" r="6.2" fill="none" stroke="#000" stroke-width="1.2"/>
<circle cx="1808.8" cy="764.3" r="6.2" fill="none" stroke="#000" stroke-width="1.2"/>
<circle cx="1825.7" cy="765.0" r="6.2" fill="none" stroke="#000" stroke-width="1.2"/>
<circle cx="1758.3" cy="825.9" r="6.2" fill="none" stroke="#000" stroke-width="1.2"/>
<circle cx="1820.6" cy="741.9" r="6.2" fill="none" stroke="#000" stroke-width="1.2"/>
<circle cx="1870.2" cy="701.7" r="6.2" fill="none" stroke="#000" stroke-width="1.2"/>
<circle cx="1790.9" cy="780.8" r="6.2" fill="none" stroke="#000" stroke-width="1.2"/>
<circle cx="1781.0" cy="775.1" r="6.2" fill="none" stroke="#000" stroke-width="1.2"/>
<circle cx="1774.9" cy="815.9" r="6.2" fill="none" stroke="#000" stroke-width="1.2"/>
<circle cx="1865.3" cy="711.0" r="6.2" fill="none" stroke="#000" stroke-width="1.2"/>
<circle cx="1822.1" cy="738.2" r="6.2" fill="none" stroke="#000" stroke-width="1.2"/>
<circle cx="1795.0" cy="765.0" r="6.2" fill="none" stroke="#000" stroke-width="1.2"/>
<circle cx="1722.5" cy="851.6" r="6.2" fill="none" stroke="#000" stroke-width="1.2"/>
<circle cx="1832.4" cy="717.3" r="6.2" fill="none" stroke="#000" stroke-width="1.2"/>
<circle cx="1822.4" cy="775.7" r="6.2" fill="none" stroke="#000" stroke-width="1.2"/>
<circle cx="1806.6" cy="754.4" r="6.2" fill="none" stroke="#000" stroke-width="1.2"/>
<circle cx="1789.0" cy="783.5" r="6.2" fill="none" stroke="#000" stroke-width="1.2"/>
<circle cx="1829.0" cy="753.4" r="6.2" fill="none" stroke="#000" stroke-width="1.2"/>
<circle cx="1806.4" cy="752.7" r="6.2" fill="none" stroke="#000" stroke-width="1.2"/>
<circle cx="1843.3" cy="746.5" r="6.2" fill="none" stroke="#000" stroke-width="1.2"/>
<circle cx="1781.0" cy="787.3" r="6.2" fill="none" stroke="#000" stroke-width="1.2"/>
<circle cx="1801.0" cy="784.3" r="6.2" fill="none" stroke="#000" stroke-width="1.2"/>
<circle cx="1809.3" cy="770.7" r="6.2" fill="none" stroke="#000" stroke-width="1.2"/>
<circle cx="1818.0" cy="755.0" r="6.2" fill="none" stroke="#000" stroke-width="1.2"/>
<circle cx="1803.0" cy="772.6" r="6.2" fill="none" stroke="#000" stroke-width="1.2"/>
<circle cx="1790.6" cy="794.5" r="6.2" fill="none" stroke="#000" stroke-width="1.2"/>
<circle cx="1808.3" cy="755.7" r="6.2" fill="none" stroke="#000" stroke-width="1.2"/>
<circle cx="1828.3" cy="750.4" r="6.2" fill="none" stroke="#000" stroke-width="1.2"/>
<circle cx="1844.8" cy="747.9" r="6.2" fill="none" stroke="#000" stroke-width="1.2"/>
<circle cx="1786.6" cy="791.9" r="6.2" fill="none" stroke="#000" stroke-width="1.2"/>
<circle cx="1769.8" cy="801.4" r="6.2" fill="none" stroke="#000" stroke-width="1.2"/>
<circle cx="1770.4" cy="796.8" r="6.2" fill="none" stroke="#000" stroke-width="1.2"/>
<circle cx="1840.3" cy="742.0" r="6.2" fill="none" stroke="#000" stroke-width="1.2"/>
<circle cx="1909.6" cy="673.8" r="6.2" fill="none" stroke="#000" stroke-width="1.2"/>
<circle cx="1884.4" cy="683.4" r="6.2" fill="none" stroke="#000" stroke-width="1.2"/>
<circle cx="1828.0" cy="740.2" r="6.2" fill="none" stroke="#000" stroke-width="1.2"/>
<circle cx="1814.1" cy="756.5" r="6.2" fill="none" stroke="#000" stroke-width="1.2"/>
<circle cx="1830.3" cy="766.4" r="6.2" fill="none" stroke="#000" stroke-width="1.2"/>
<circle cx="1808.0" cy="780.3" r="6.2" fill="none" stroke="#000" stroke-width="1.2"/>
<circle cx="1849.3" cy="745.7" r="6.2" fill="none" stroke="#000" stroke-width="1.2"/>
<circle cx="1831.4" cy="747.6" r="6.2" fill="none" stroke="#000" stroke-width="1.2"/>
<circle cx="1848.3" cy="730.3" r="6.2" fill="none" stroke="#000" stroke-width="1.2"/>
<circle cx="1793.6" cy="774.2" r="6.2" fill="none" stroke="#000" stroke-width="1.2"/>
<circle cx="1819.1" cy="747.6" r="6.2" fill="none" stroke="#000" stroke-width="1.2"/>
<circle cx="1860.0" cy="716.9" r="6.2" fill="none" stroke="#000" stroke-width="1.2"/>
<circle cx="1830.1" cy="744.8" r="6.2" fill="none" stroke="#000" stroke-width="1.2"/>
<circle cx="1800.4" cy="773.3" r="6.2" fill="none" stroke="#000" stroke-width="1.2"/>
<circle cx="1871.7" cy="703.1" r="6.2" fill="none" stroke="#000" stroke-width="1.2"/>
<circle cx="1812.2" cy="745.4" r="6.2" fill="none" stroke="#000" stroke-width="1.2"/>
<circle cx="1821.6" cy="746.4" r="6.2" fill="none" stroke="#000" stroke-width="1.2"/>
<circle cx="1879.2" cy="693.3" r="6.2" fill="none" stroke="#000" stroke-width="1.2"/>
<circle cx="1838.0" cy="720.5" r="6.2" fill="none" stroke="#000" stroke-width="1.2"/>
<circle cx="1808.8" cy="769.3" r="6.2" fill="none" stroke="#000" stroke-width="1.2"/>
<circle cx="1806.4" cy="777.2" r="6.2" fill="none" stroke="#000" stroke-width="1.2"/>
<circle cx="1837.8" cy="744.1" r="6.2" fill="none" stroke="#000" stroke-width="1.2"/>
<circle cx="1876.2" cy="693.7" r="6.2" fill="none" stroke="#000" stroke-width="1.2"/>
<circle cx="1826.8" cy="757.1" r="6.2" fill="none" stroke="#000" stroke-width="1.2"/>
<circle cx="1774.1" cy="804.5" r="6.2" fill="none" stroke="#000" stroke-width="1.2"/>
<circle cx="1829.2" cy="737.8" r="6.2" fill="none" stroke="#000" stroke-width="1.2"/>
<circle cx="1822.1" cy="749.3" r="6.2" fill="none" stroke="#000" stroke-width="1.2"/>
<circle cx="1818.5" cy="748.2" r="6.2" fill="none" stroke="#000" stroke-width="1.2"/>
<circle cx="1814.6" cy="768.2" r="6.2" fill="none" stroke="#000" stroke-width="1.2"/>
<circle cx="1821.1" cy="745.7" r="6.2" fill="none" stroke="#000" stroke-width="1.2"/>
<circle cx="1813.7" cy="759.0" r="6.2" fill="none" stroke="#000" stroke-width="1.2"/>
<circle cx="1791.1" cy="783.5" r="6.2" fill="none" stroke="#000" stroke-width="1.2"/>
<circle cx="1821.7" cy="755.4" r="6.2" fill="none" stroke="#000" stroke-width="1.2"/>
<circle cx="1774.7" cy="791.7" r="6.2" fill="none" stroke="#000" stroke-width="1.2"/>
<circle cx="1779.6" cy="784.7" r="6.2" fill="none" stroke="#000" stroke-width="1.2"/>
<circle cx="1847.1" cy="731.2" r="6.2" fill="none" stroke="#000" stroke-width="1.2"/>
<circle cx="1799.7" cy="787.3" r="6.2" fill="none" stroke="#000" stroke-width="1.2"/>
<circle cx="1810.2" cy="761.3" r="6.2" fill="none" stroke="#000" stroke-width="1.2"/>
<circle cx="1840.9" cy="728.8" r="6.2" fill="none" stroke="#000" stroke-width="1.2"/>
<circle cx="1817.7" cy="753.6" r="6.2" fill="none" stroke="#000" stroke-width="1.2"/>
<circle cx="1851.3" cy="737.2" r="6.2" fill="none" stroke="#000" stroke-width="1.2"/>
<circle cx="1814.5" cy="751.8" r="6.2" fill="none" stroke="#000" stroke-width="1.2"/>
<circle cx="1824.7" cy="741.7" r="6.2" fill="none" stroke="#000" stroke-width="1.2"/>
<circle cx="1861.5" cy="723.4" r="6.2" fill="none" stroke="#000" stroke-width="1.2"/>
<circle cx="1815.4" cy="733.4" r="6.2" fill="none" stroke="#000" stroke-width="1.2"/>
<circle cx="1813.2" cy="760.9" r="6.2" fill="none" stroke="#000" stroke-width="1.2"/>
<circle cx="1792.3" cy="778.5" r="6.2" fill="none" stroke="#000" stroke-width="1.2"/>
<circle cx="1811.9" cy="762.5" r="6.2" fill="none" stroke="#000" stroke-width="1.2"/>
<circle cx="1829.4" cy="741.1" r="6.2" fill="none" stroke="#000" stroke-width="1.2"/>
<circle cx="1829.2" cy="745.4" r="6.2" fill="none" stroke="#000" stroke-width="1.2"/>
<circle cx="1794.4" cy="784.8" r="6.2" fill="none" stroke="#000" stroke-width="1.2"/>
<circle cx="1781.8" cy="803.2" r="6.2" fill="none" stroke="#000" stroke-width="1.2"/>
<circle cx="1773.4" cy="811.0" r="6.2" fill="none" stroke="#000" stroke-width="1.2"/>
<circle cx="1860.8" cy="720.0" r="6.2" fill="none" stroke="#000" stroke-width="1.2"/>
<circle cx="1787.7" cy="773.8" r="6.2" fill="none" stroke="#000" stroke-width="1.2"/>
<circle cx="1747.1" cy="823.5" r="6.2" fill="none" stroke="#000" stroke-width="1.2"/>
<circle cx="1780.3" cy="803.0" r="6.2" fill="none" stroke="#000" stroke-width="1.2"/>
<circle cx="1807.2" cy="760.4" r="6.2" fill="none" stroke="#000" stroke-width="1.2"/>
<circle cx="1749.0" cy="808.2" r="6.2" fill="none" stroke="#000" stroke-width="1.2"/>
<circle cx="1779.0" cy="792.2" r="6.2" fill="none" stroke="#000" stroke-width="1.2"/>
<circle cx="1818.3" cy="759.6" r="6.2" fill="none" stroke="#000" stroke-width="1.2"/>
<circle cx="1827.0" cy="761.7" r="6.2" fill="none" stroke="#000" stroke-width="1.2"/>
<circle cx="1795.2" cy="782.6" r="6.2" fill="none" stroke="#000" stroke-width="1.2"/>
<circle cx="1794.4" cy="773.6" r="6.2" fill="none" stroke="#000" stroke-width="1.2"/>
<circle cx="1784.6" cy="801.7" r="6.2" fill="none" stroke="#000" stroke-width="1.2"/>
<circle cx="1807.8" cy="766.8" r="6.2" fill="none" stroke="#000" stroke-width="1.2"/>
<circle cx="1799.8" cy="775.1" r="6.2" fill="none" stroke="#000" stroke-width="1.2"/>
<circle cx="1843.2" cy="735.5" r="6.2" fill="none" stroke="#000" stroke-width="1.2"/>
<circle cx="1763.8" cy="814.9" r="6.2" fill="none" stroke="#000" stroke-width="1.2"/>
<circle cx="1841.9" cy="733.5" r="6.2" fill="none" stroke="#000" stroke-width="1.2"/>
<circle cx="1763.2" cy="802.1" r="6.2" fill="none" stroke="#000" stroke-width="1.2"/>
<circle cx="1818.6" cy="756.7" r="6.2" fill="none" stroke="#000" stroke-width="1.2"/>
<circle cx="1782.5" cy="785.9" r="6.2" fill="none" stroke="#000" stroke-width="1.2"/>
<circle cx="1814.2" cy="767.5" r="6.2" fill="none" stroke="#000" stroke-width="1.2"/>
<circle cx="1764.0" cy="809.3" r="6.2" fill="none" stroke="#000" stroke-width="1.2"/>
<circle cx="1835.1" cy="746.1" r="6.2" fill="none" stroke="#000" stroke-width="1.2"/>
<circle cx="1726.5" cy="839.5" r="6.2" fill="none" stroke="#000" stroke-width="1.2"/>
<circle cx="1908.1" cy="663.4" r="6.2" fill="none" stroke="#000" stroke-width="1.2"/>
<circle cx="1818.2" cy="746.0" r="6.2" fill="none" stroke="#000" stroke-width="1.2"/>
<circle cx="1809.7" cy="758.4" r="6.2" fill="none" stroke="#000" stroke-width="1.2"/>
<circle cx="1856.6" cy="726.4" r="6.2" fill="none" stroke="#000" stroke-width="1.2"/>
<circle cx="1808.7" cy="760.3" r="6.2" fill="none" stroke="#000" stroke-width="1.2"/>
<circle cx="1808.0" cy="786.8" r="6.2" fill="none" stroke="#000" stroke-width="1.2"/>
<circle cx="1809.5" cy="762.2" r="6.2" fill="none" stroke="#000" stroke-width="1.2"/>
<circle cx="1852.6" cy="724.3" r="6.2" fill="none" stroke="#000" stroke-width="1.2"/>
<circle cx="1814.0" cy="768.6" r="6.2" fill="none" stroke="#000" stroke-width="1.2"/>
<circle cx="1818.5" cy="761.3" r="6.2" fill="none" stroke="#000" stroke-width="1.2"/>
<circle cx="1840.3" cy="719.9" r="6.2" fill="none" stroke="#000" stroke-width="1.2"/>
<circle cx="1814.4" cy="743.6" r="6.2" fill="none" stroke="#000" stroke-width="1.2"/>
<circle cx="1871.1" cy="701.5" r="6.2" fill="none" stroke="#000" stroke-width="1.2"/>
<circle cx="1804.9" cy="797.4" r="6.2" fill="none" stroke="#000" stroke-width="1.2"/>
<circle cx="1897.6" cy="690.8" r="6.2" fill="none" stroke="#000" stroke-width="1.2"/>
<circle cx="1828.6" cy="742.8" r="6.2" fill="none" stroke="#000" stroke-width="1.2"/>
<circle cx="1818.8" cy="761.3" r="6.2" fill="none" stroke="#000" stroke-width="1.2"/>
<circle cx="1855.6" cy="723.6" r="6.2" fill="none" stroke="#000" stroke-width="1.2"/>
<circle cx="1835.6" cy="758.2" r="6.2" fill="none" stroke="#000" stroke-width="1.2"/>
<circle cx="1877.5" cy="684.6" r="6.2" fill="none" stroke="#000" stroke-width="1.2"/>
<circle cx="1888.4" cy="704.7" r="6.2" fill="none" stroke="#000" stroke-width="1.2"/>
<circle cx="1812.6" cy="764.9" r="6.2" fill="none" stroke="#000" stroke-width="1.2"/>
<circle cx="1755.3" cy="809.2" r="6.2" fill="none" stroke="#000" stroke-width="1.2"/>
<circle cx="1811.1" cy="760.1" r="6.2" fill="none" stroke="#000" stroke-width="1.2"/>
<circle cx="1708.8" cy="865.8" r="6.2" fill="none" stroke="#000" stroke-width="1.2"/>
<circle cx="1816.6" cy="760.0" r="6.2" fill="none" stroke="#000" stroke-width="1.2"/>
<circle cx="1763.6" cy="811.3" r="6.2" fill="none" stroke="#000" stroke-width="1.2"/>
<circle cx="1787.9" cy="789.1" r="6.2" fill="none" stroke="#000" stroke-width="1.2"/>
<circle cx="1820.6" cy="748.9" r="6.2" fill="none" stroke="#000" stroke-width="1.2"/>
<circle cx="1852.2" cy="721.5" r="6.2" fill="none" stroke="#000" stroke-width="1.2"/>
<circle cx="1788.3" cy="762.8" r="6.2" fill="none" stroke="#000" stroke-width="1.2"/>
<circle cx="1816.5" cy="754.1" r="6.2" fill="none" stroke="#000" stroke-width="1.2"/>
<circle cx="1825.1" cy="746.4" r="6.2" fill="none" stroke="#000" stroke-width="1.2"/>
<circle cx="1779.0" cy="801.4" r="6.2" fill="none" stroke="#000" stroke-width="1.2"/>
<circle cx="1781.3" cy="785.1" r="6.2" fill="none" stroke="#000" stroke-width="1.2"/>
<circle cx="1801.8" cy="765.4" r="6.2" fill="none" stroke="#000" stroke-width="1.2"/>
<circle cx="1805.4" cy="742.6" r="6.2" fill="none" stroke="#000" stroke-width="1.2"/>
<circle cx="1787.9" cy="784.7" r="6.2" fill="none" stroke="#000" stroke-width="1.2"/>
<circle cx="1730.6" cy="837.8" r="6.2" fill="none" stroke="#000" stroke-width="1.2"/>
<circle cx="1827.5" cy="771.5" r="6.2" fill="none" stroke="#000" stroke-width="1.2"/>
<circle cx="1844.1" cy="731.5" r="6.2" fill="none" stroke="#000" stroke-width="1.2"/>
<circle cx="1811.0" cy="768.6" r="6.2" fill="none" stroke="#000" stroke-width="1.2"/>
<circle cx="1776.0" cy="795.5" r="6.2" fill="none" stroke="#000" stroke-width="1.2"/>
<circle cx="1813.5" cy="744.3" r="6.2" fill="none" stroke="#000" stroke-width="1.2"/>
<circle cx="1917.0" cy="674.6" r="6.2" fill="none" stroke="#000" stroke-width="1.2"/>
<circle cx="1821.9" cy="749.6" r="6.2" fill="none" stroke="#000" stroke-width="1.2"/>
<circle cx="1795.6" cy="799.0" r="6.2" fill="none" stroke="#000" stroke-width="1.2"/>
<circle cx="1776.2" cy="808.7" r="6.2" fill="none" stroke="#000" stroke-width="1.2"/>
<circle cx="1808.8" cy="766.2" r="6.2" fill="none" stroke="#000" stroke-width="1.2"/>
<circle cx="1822.7" cy="730.3" r="6.2" fill="none" stroke="#000" stroke-width="1.2"/>
<circle cx="1807.3" cy="761.7" r="6.2" fill="none" stroke="#000" stroke-width="1.2"/>
<circle cx="1795.1" cy="789.5" r="6.2" fill="none" stroke="#000" stroke-width="1.2"/>
<circle cx="1833.9" cy="737.1" r="6.2" fill="none" stroke="#000" stroke-width="1.2"/>
<circle cx="1793.8" cy="774.4" r="6.2" fill="none" stroke="#000" stroke-width="1.2"/>
<circle cx="1844.7" cy="731.8" r="6.2" fill="none" stroke="#000" stroke-width="1.2"/>
<circle cx="1839.2" cy="741.1" r="6.2" fill="none" stroke="#000" stroke-width="1.2"/>
<circle cx="1794.5" cy="777.6" r="6.2" fill="none" stroke="#000" stroke-width="1.2"/>
<circle cx="1851.0" cy="719.2" r="6.2" fill="none" stroke="#000" stroke-width="1.2"/>
<circle cx="1835.1" cy="739.7" r="6.2" fill="none" stroke="#000" stroke-width="1.2"/>
<circle cx="1788.9" cy="779.8" r="6.2" fill="none" stroke="#000" stroke-width="1.2"/>
<circle cx="1837.2" cy="742.6" r="6.2" fill="none" stroke="#000" stroke-width="1.2"/>
<circle cx="1803.6" cy="761.2" r="6.2" fill="none" stroke="#000" stroke-width="1.2"/>
<circle cx="1834.7" cy="724.7" r="6.2" fill="none" stroke="#000" stroke-width="1.2"/>
<circle cx="1788.9" cy="783.7" r="6.2" fill="none" stroke="#000" stroke-width="1.2"/>
<circle cx="1754.2" cy="812.2" r="6.2" fill="none" stroke="#000" stroke-width="1.2"/>
<circle cx="1801.7" cy="771.2" r="6.2" fill="none" stroke="#000" stroke-width="1.2"/>
<circle cx="1799.6" cy="782.0" r="6.2" fill="none" stroke="#000" stroke-width="1.2"/>
<circle cx="1816.9" cy="747.7" r="6.2" fill="none" stroke="#000" stroke-width="1.2"/>
<circle cx="1833.3" cy="744.6" r="6.2" fill="none" stroke="#000" stroke-width="1.2"/>
<circle cx="1825.2" cy="724.1" r="6.2" fill="none" stroke="#000" stroke-width="1.2"/>
<circle cx="1819.8" cy="754.1" r="6.2" fill="none" stroke="#000" stroke-width="1.2"/>
<circle cx="1844.2" cy="745.2" r="6.2" fill="none" stroke="#000" stroke-width="1.2"/>
<circle cx="1898.7" cy="683.4" r="6.2" fill="none" stroke="#000" stroke-width="1.2"/>
<circle cx="1830.7" cy="723.8" r="6.2" fill="none" stroke="#000" stroke-width="1.2"/>
<circle cx="1866.9" cy="709.2" r="6.2" fill="none" stroke="#000" stroke-width="1.2"/>
<circle cx="1802.1" cy="765.0" r="6.2" fill="none" stroke="#000" stroke-width="1.2"/>
<circle cx="1828.6" cy="747.0" r="6.2" fill="none" stroke="#000" stroke-width="1.2"/>
<circle cx="1822.8" cy="753.9" r="6.2" fill="none" stroke="#000" stroke-width="1.2"/>
<circle cx="1728.5" cy="850.2" r="6.2" fill="none" stroke="#000" stroke-width="1.2"/>
<circle cx="1867.1" cy="714.8" r="6.2" fill="none" stroke="#000" stroke-width="1.2"/>
<circle cx="1816.1" cy="774.2" r="6.2" fill="none" stroke="#000" stroke-width="1.2"/>
<circle cx="1843.3" cy="747.7" r="6.2" fill="none" stroke="#000" stroke-width="1.2"/>
<circle cx="1843.2" cy="749.2" r="6.2" fill="none" stroke="#000" stroke-width="1.2"/>
<circle cx="1849.4" cy="725.6" r="6.2" fill="none" stroke="#000" stroke-width="1.2"/>
<circle cx="1814.9" cy="752.9" r="6.2" fill="none" stroke="#000" stroke-width="1.2"/>
<circle cx="1800.1" cy="766.0" r="6.2" fill="none" stroke="#000" stroke-width="1.2"/>
<circle cx="1803.8" cy="756.6" r="6.2" fill="none" stroke="#000" stroke-width="1.2"/>
<circle cx="1807.0" cy="768.7" r="6.2" fill="none" stroke="#000" stroke-width="1.2"/>
<circle cx="1798.1" cy="758.4" r="6.2" fill="none" stroke="#000" stroke-width="1.2"/>
<circle cx="1833.6" cy="742.2" r="6.2" fill="none" stroke="#000" stroke-width="1.2"/>
<circle cx="1683.4" cy="878.9" r="6.2" fill="none" stroke="#000" stroke-width="1.2"/>
<circle cx="1912.5" cy="659.2" r="6.2" fill="none" stroke="#000" stroke-width="1.2"/>
<circle cx="1813.6" cy="750.3" r="6.2" fill="none" stroke="#000" stroke-width="1.2"/>
<circle cx="1824.2" cy="753.9" r="6.2" fill="none" stroke="#000" stroke-width="1.2"/>
<circle cx="1808.8" cy="783.8" r="6.2" fill="none" stroke="#000" stroke-width="1.2"/>
<circle cx="1788.2" cy="789.7" r="6.2" fill="none" stroke="#000" stroke-width="1.2"/>
<circle cx="1793.0" cy="766.5" r="6.2" fill="none" stroke="#000" stroke-width="1.2"/>
<circle cx="1823.7" cy="735.9" r="6.2" fill="none" stroke="#000" stroke-width="1.2"/>
<circle cx="1818.1" cy="755.7" r="6.2" fill="none" stroke="#000" stroke-width="1.2"/>
<circle cx="1766.6" cy="779.1" r="6.2" fill="none" stroke="#000" stroke-width="1.2"/>
<circle cx="1920.8" cy="663.2" r="6.2" fill="none" stroke="#000" stroke-width="1.2"/>
<circle cx="1821.4" cy="769.5" r="6.2" fill="none" stroke="#000" stroke-width="1.2"/>
<circle cx="1814.0" cy="759.5" r="6.2" fill="none" stroke="#000" stroke-width="1.2"/>
<circle cx="1851.6" cy="733.7" r="6.2" fill="none" stroke="#000" stroke-width="1.2"/>
<circle cx="1759.6" cy="812.9" r="6.2" fill="none" stroke="#000" stroke-width="1.2"/>
<circle cx="1797.7" cy="778.9" r="6.2" fill="none" stroke="#000" stroke-width="1.2"/>
<circle cx="1836.6" cy="740.4" r="6.2" fill="none" stroke="#000" stroke-width="1.2"/>
<circle cx="1801.5" cy="771.8" r="6.2" fill="none" stroke="#000" stroke-width="1.2"/>
<circle cx="1819.9" cy="749.4" r="6.2" fill="none" stroke="#000" stroke-width="1.2"/>
<circle cx="1768.2" cy="783.6" r="6.2" fill="none" stroke="#000" stroke-width="1.2"/>
<circle cx="1817.6" cy="739.2" r="6.2" fill="none" stroke="#000" stroke-width="1.2"/>
<circle cx="1830.7" cy="745.5" r="6.2" fill="none" stroke="#000" stroke-width="1.2"/>
<circle cx="1828.5" cy="764.6" r="6.2" fill="none" stroke="#000" stroke-width="1.2"/>
<circle cx="1687.3" cy="877.8" r="6.2" fill="none" stroke="#000" stroke-width="1.2"/>
<circle cx="1822.6" cy="739.7" r="6.2" fill="none" stroke="#000" stroke-width="1.2"/>
<circle cx="1769.1" cy="803.8" r="6.2" fill="none" stroke="#000" stroke-width="1.2"/>
<circle cx="1788.1" cy="785.3" r="6.2" fill="none" stroke="#000" stroke-width="1.2"/>
<circle cx="1703.5" cy="844.4" r="6.2" fill="none" stroke="#000" stroke-width="1.2"/>
<circle cx="1795.0" cy="782.7" r="6.2" fill="none" stroke="#000" stroke-width="1.2"/>
<circle cx="1821.5" cy="748.4" r="6.2" fill="none" stroke="#000" stroke-width="1.2"/>
<circle cx="1792.1" cy="789.0" r="6.2" fill="none" stroke="#000" stroke-width="1.2"/>
<circle cx="1830.0" cy="745.2" r="6.2" fill="none" stroke="#000" stroke-width="1.2"/>
<circle cx="1826.3" cy="741.4" r="6.2" fill="none" stroke="#000" stroke-width="1.2"/>
<circle cx="1820.2" cy="766.9" r="6.2" fill="none" stroke="#000" stroke-width="1.2"/>
<circle cx="1828.5" cy="741.3" r="6.2" fill="none" stroke="#000" stroke-width="1.2"/>
<circle cx="1803.4" cy="773.5" r="6.2" fill="none" stroke="#000" stroke-width="1.2"/>
<circle cx="1807.4" cy="776.2" r="6.2" fill="none" stroke="#000" stroke-width="1.2"/>
<circle cx="1797.6" cy="752.4" r="6.2" fill="none" stroke="#000" stroke-width="1.2"/>
<circle cx="1797.9" cy="779.0" r="6.2" fill="none" stroke="#000" stroke-width="1.2"/>
<circle cx="1854.4" cy="748.8" r="6.2" fill="none" stroke="#000" stroke-width="1.2"/>
<circle cx="1823.4" cy="736.8" r="6.2" fill="none" stroke="#000" stroke-width="1.2"/>
<circle cx="1853.2" cy="723.9" r="6.2" fill="none" stroke="#000" stroke-width="1.2"/>
<circle cx="1821.7" cy="762.6" r="6.2" fill="none" stroke="#000" stroke-width="1.2"/>
<circle cx="1791.0" cy="780.7" r="6.2" fill="none" stroke="#000" stroke-width="1.2"/>
<circle cx="1819.1" cy="769.7" r="6.2" fill="none" stroke="#000" stroke-width="1.2"/>
<circle cx="1782.6" cy="796.2" r="6.2" fill="none" stroke="#000" stroke-width="1.2"/>
<circle cx="1801.4" cy="767.1" r="6.2" fill="none" stroke="#000" stroke-width="1.2"/>
<circle cx="1825.6" cy="745.6" r="6.2" fill="none" stroke="#000" stroke-width="1.2"/>
<circle cx="1809.7" cy="755.6" r="6.2" fill="none" stroke="#000" stroke-width="1.2"/>
<circle cx="1768.6" cy="785.4" r="6.2" fill="none" stroke="#000" stroke-width="1.2"/>
<circle cx="1796.4" cy="759.6" r="6.2" fill="none" stroke="#000" stroke-width="1.2"/>
<circle cx="1830.0" cy="750.3" r="6.2" fill="none" stroke="#000" stroke-width="1.2"/>
<circle cx="1830.3" cy="743.0" r="6.2" fill="none" stroke="#000" stroke-width="1.2"/>
<circle cx="1794.4" cy="776.7" r="6.2" fill="none" stroke="#000" stroke-width="1.2"/>
<circle cx="1850.5" cy="724.1" r="6.2" fill="none" stroke="#000" stroke-width="1.2"/>
<circle cx="1803.5" cy="779.9" r="6.2" fill="none" stroke="#000" stroke-width="1.2"/>
<circle cx="1826.8" cy="743.5" r="6.2" fill="none" stroke="#000" stroke-width="1.2"/>
<circle cx="1833.0" cy="740.8" r="6.2" fill="none" stroke="#000" stroke-width="1.2"/>
<circle cx="1807.3" cy="766.5" r="6.2" fill="none" stroke="#000" stroke-width="1.2"/>
<circle cx="1803.5" cy="760.2" r="6.2" fill="none" stroke="#000" stroke-width="1.2"/>
<circle cx="1847.2" cy="736.1" r="6.2" fill="none" stroke="#000" stroke-width="1.2"/>
<circle cx="1802.5" cy="780.2" r="6.2" fill="none" stroke="#000" stroke-width="1.2"/>
<circle cx="1794.5" cy="788.4" r="6.2" fill="none" stroke="#000" stroke-width="1.2"/>
<circle cx="1820.2" cy="763.3" r="6.2" fill="none" stroke="#000" stroke-width="1.2"/>
<circle cx="1799.3" cy="772.5" r="6.2" fill="none" stroke="#000" stroke-width="1.2"/>
<circle cx="1781.9" cy="785.1" r="6.2" fill="none" stroke="#000" stroke-width="1.2"/>
<circle cx="1832.5" cy="736.3" r="6.2" fill="none" stroke="#000" stroke-width="1.2"/>
<circle cx="1827.8" cy="759.0" r="6.2" fill="none" stroke="#000" stroke-width="1.2"/>
<circle cx="1821.5" cy="756.3" r="6.2" fill="none" stroke="#000" stroke-width="1.2"/>
<circle cx="1802.2" cy="769.2" r="6.2" fill="none" stroke="#000" stroke-width="1.2"/>
<circle cx="1792.1" cy="790.3" r="6.2" fill="none" stroke="#000" stroke-width="1.2"/>
<circle cx="1711.0" cy="855.1" r="6.2" fill="none" stroke="#000" stroke-width="1.2"/>
<circle cx="1922.9" cy="663.0" r="6.2" fill="none" stroke="#000" stroke-width="1.2"/>
<circle cx="1780.2" cy="779.9" r="6.2" fill="none" stroke="#000" stroke-width="1.2"/>
<circle cx="1903.1" cy="680.3" r="6.2" fill="none" stroke="#000" stroke-width="1.2"/>
<circle cx="1823.8" cy="773.9" r="6.2" fill="none" stroke="#000" stroke-width="1.2"/>
<circle cx="1795.5" cy="764.0" r="6.2" fill="none" stroke="#000" stroke-width="1.2"/>
<circle cx="1825.4" cy="754.9" r="6.2" fill="none" stroke="#000" stroke-width="1.2"/>
<circle cx="1840.6" cy="727.0" r="6.2" fill="none" stroke="#000" stroke-width="1.2"/>
<circle cx="1728.7" cy="839.5" r="6.2" fill="none" stroke="#000" stroke-width="1.2"/>
<circle cx="1835.4" cy="734.8" r="6.2" fill="none" stroke="#000" stroke-width="1.2"/>
<circle cx="1816.4" cy="744.5" r="6.2" fill="none" stroke="#000" stroke-width="1.2"/>
<circle cx="1719.0" cy="853.3" r="6.2" fill="none" stroke="#000" stroke-width="1.2"/>
<circle cx="1847.6" cy="721.7" r="6.2" fill="none" stroke="#000" stroke-width="1.2"/>
<circle cx="1766.3" cy="788.6" r="6.2" fill="none" stroke="#000" stroke-width="1.2"/>
<circle cx="1747.2" cy="831.6" r="6.2" fill="none" stroke="#000" stroke-width="1.2"/>
<circle cx="1839.6" cy="737.8" r="6.2" fill="none" stroke="#000" stroke-width="1.2"/>
<circle cx="1818.0" cy="764.4" r="6.2" fill="none" stroke="#000" stroke-width="1.2"/>
<circle cx="1819.7" cy="766.2" r="6.2" fill="none" stroke="#000" stroke-width="1.2"/>
<circle cx="1837.7" cy="731.5" r="6.2" fill="none" stroke="#000" stroke-width="1.2"/>
<circle cx="1840.8" cy="732.7" r="6.2" fill="none" stroke="#000" stroke-width="1.2"/>
<circle cx="1788.3" cy="770.9" r="6.2" fill="none" stroke="#000" stroke-width="1.2"/>
<circle cx="1808.8" cy="765.5" r="6.2" fill="none" stroke="#000" stroke-width="1.2"/>
<circle cx="1814.7" cy="751.7" r="6.2" fill="none" stroke="#000" stroke-width="1.2"/>
<circle cx="1834.2" cy="763.2" r="6.2" fill="none" stroke="#000" stroke-width="1.2"/>
<circle cx="1810.6" cy="761.6" r="6.2" fill="none" stroke="#000" stroke-width="1.2"/>
<circle cx="1840.1" cy="727.3" r="6.2" fill="none" stroke="#000" stroke-width="1.2"/>
<circle cx="1814.0" cy="765.0" r="6.2" fill="none" stroke="#000" stroke-width="1.2"/>
<circle cx="1834.2" cy="747.8" r="6.2" fill="none" stroke="#000" stroke-width="1.2"/>
<circle cx="1800.5" cy="778.1" r="6.2" fill="none" stroke="#000" stroke-width="1.2"/>
<circle cx="1737.4" cy="829.8" r="6.2" fill="none" stroke="#000" stroke-width="1.2"/>
<circle cx="1835.3" cy="733.0" r="6.2" fill="none" stroke="#000" stroke-width="1.2"/>
<circle cx="1870.1" cy="715.5" r="6.2" fill="none" stroke="#000" stroke-width="1.2"/>
<circle cx="1822.0" cy="761.0" r="6.2" fill="none" stroke="#000" stroke-width="1.2"/>
<circle cx="1795.1" cy="784.4" r="6.2" fill="none" stroke="#000" stroke-width="1.2"/>
<circle cx="1858.2" cy="728.7" r="6.2" fill="none" stroke="#000" stroke-width="1.2"/>
<circle cx="1818.2" cy="758.4" r="6.2" fill="none" stroke="#000" stroke-width="1.2"/>
<circle cx="1802.5" cy="767.0" r="6.2" fill="none" stroke="#000" stroke-width="1.2"/>
<circle cx="1814.2" cy="761.9" r="6.2" fill="none" stroke="#000" stroke-width="1.2"/>
<circle cx="1832.7" cy="745.5" r="6.2" fill="none" stroke="#000" stroke-width="1.2"/>
<circle cx="1796.7" cy="783.8" r="6.2" fill="none" stroke="#000" stroke-width="1.2"/>
<circle cx="1822.5" cy="758.4" r="6.2" fill="none" stroke="#000" stroke-width="1.2"/>
<circle cx="1811.9" cy="759.4" r="6.2" fill="none" stroke="#000" stroke-width="1.2"/>
<circle cx="1870.3" cy="709.2" r="6.2" fill="none" stroke="#000" stroke-width="1.2"/>
<circle cx="1809.7" cy="764.8" r="6.2" fill="none" stroke="#000" stroke-width="1.2"/>
<circle cx="1772.7" cy="805.2" r="6.2" fill="none" stroke="#000" stroke-width="1.2"/>
<circle cx="1817.6" cy="756.9" r="6.2" fill="none" stroke="#000" stroke-width="1.2"/>
<circle cx="1818.8" cy="756.1" r="6.2" fill="none" stroke="#000" stroke-width="1.2"/>
<circle cx="1766.0" cy="721.7" r="6.2" fill="none" stroke="#000" stroke-width="1.2"/>
<circle cx="1744.5" cy="860.3" r="6.2" fill="none" stroke="#000" stroke-width="1.2"/>
<circle cx="1695.6" cy="852.3" r="6.2" fill="none" stroke="#000" stroke-width="1.2"/>
<circle cx="1719.5" cy="828.5" r="6.2" fill="none" stroke="#000" stroke-width="1.2"/>
<circle cx="1785.3" cy="758.0" r="6.2" fill="none" stroke="#000" stroke-width="1.2"/>
<circle cx="1769.4" cy="771.7" r="6.2" fill="none" stroke="#000" stroke-width="1.2"/>
<circle cx="1794.4" cy="797.8" r="6.2" fill="none" stroke="#000" stroke-width="1.2"/>
<circle cx="1811.4" cy="794.4" r="6.2" fill="none" stroke="#000" stroke-width="1.2"/>
<circle cx="1829.6" cy="781.9" r="6.2" fill="none" stroke="#000" stroke-width="1.2"/>
<circle cx="1842.1" cy="770.6" r="6.2" fill="none" stroke="#000" stroke-width="1.2"/>
<circle cx="1871.6" cy="747.9" r="6.2" fill="none" stroke="#000" stroke-width="1.2"/>
<circle cx="1885.2" cy="729.7" r="6.2" fill="none" stroke="#000" stroke-width="1.2"/>
<circle cx="1892.0" cy="718.3" r="6.2" fill="none" stroke="#000" stroke-width="1.2"/>
<circle cx="1908.0" cy="697.9" r="6.2" fill="none" stroke="#000" stroke-width="1.2"/>
<circle cx="1903.4" cy="677.5" r="6.2" fill="none" stroke="#000" stroke-width="1.2"/>
<circle cx="1825.1" cy="718.3" r="6.2" fill="none" stroke="#000" stroke-width="1.2"/>
<circle cx="1848.9" cy="709.3" r="6.2" fill="none" stroke="#000" stroke-width="1.2"/>
<circle cx="1912.5" cy="677.5" r="6.2" fill="none" stroke="#000" stroke-width="1.2"/>
<circle cx="1893.5" cy="718.8" r="6.2" fill="none" stroke="#000" stroke-width="1.2"/>
<circle cx="1923.0" cy="676.9" r="6.2" fill="none" stroke="#000" stroke-width="1.2"/>
<circle cx="1683.0" cy="878.0" r="6.2" fill="none" stroke="#000" stroke-width="1.2"/>
<circle cx="1688.0" cy="870.0" r="6.2" fill="none" stroke="#000" stroke-width="1.2"/>
<path d="M1674.1,884.1H1693.4M1674.1,872.6V895.6M1693.4,872.6V895.6" stroke="#0000ff" stroke-width="3" fill="none"/>
<path d="M1683.1,870.1L1696.1,894.1H1670.1Z" stroke="#0000ff" stroke-width="3.2" fill="none" stroke-linejoin="miter"/>
<path d="M1700.2,858.0H1730.8M1700.2,846.5V869.5M1730.8,846.5V869.5" stroke="#0000ff" stroke-width="3" fill="none"/>
<path d="M1717.2,844.0L1730.2,868.0H1704.2Z" stroke="#0000ff" stroke-width="3.2" fill="none" stroke-linejoin="miter"/>
<path d="M1725.1,831.9H1744.5M1725.1,820.4V843.4M1744.5,820.4V843.4" stroke="#0000ff" stroke-width="3" fill="none"/>
<path d="M1735.4,817.9L1748.4,841.9H1722.4Z" stroke="#0000ff" stroke-width="3.2" fill="none" stroke-linejoin="miter"/>
<path d="M1752.4,801.2H1781.9M1752.4,789.7V812.7M1781.9,789.7V812.7" stroke="#0000ff" stroke-width="3" fill="none"/>
<path d="M1767.2,787.2L1780.2,811.2H1754.2Z" stroke="#0000ff" stroke-width="3.2" fill="none" stroke-linejoin="miter"/>
<path d="M1789.9,776.2H1816.0M1789.9,764.7V787.7M1816.0,764.7V787.7" stroke="#0000ff" stroke-width="3" fill="none"/>
<path d="M1802.4,762.2L1815.4,786.2H1789.4Z" stroke="#0000ff" stroke-width="3.2" fill="none" stroke-linejoin="miter"/>
<path d="M1813.7,752.4H1841.0M1813.7,740.9V763.9M1841.0,740.9V763.9" stroke="#0000ff" stroke-width="3" fill="none"/>
<path d="M1826.2,738.4L1839.2,762.4H1813.2Z" stroke="#0000ff" stroke-width="3.2" fill="none" stroke-linejoin="miter"/>
<path d="M1834.1,727.4H1876.1M1834.1,715.9V738.9M1876.1,715.9V738.9" stroke="#0000ff" stroke-width="3" fill="none"/>
<path d="M1854.6,713.4L1867.6,737.4H1841.6Z" stroke="#0000ff" stroke-width="3.2" fill="none" stroke-linejoin="miter"/>
<path d="M1856.8,700.2H1905.7M1856.8,688.7V711.7M1905.7,688.7V711.7" stroke="#0000ff" stroke-width="3" fill="none"/>
<path d="M1880.7,686.2L1893.7,710.2H1867.7Z" stroke="#0000ff" stroke-width="3.2" fill="none" stroke-linejoin="miter"/>
<path d="M1901.1,671.8H1921.5M1901.1,660.3V683.3M1921.5,660.3V683.3" stroke="#0000ff" stroke-width="3" fill="none"/>
<path d="M1911.3,657.8L1924.3,681.8H1898.3Z" stroke="#0000ff" stroke-width="3.2" fill="none" stroke-linejoin="miter"/>
<line x1="1683.1" y1="883.0" x2="1910.2" y2="675.2" stroke="#ff0000" stroke-width="4.6" />
<rect x="1577.8" y="556.2" width="419.4" height="419.4" fill="none" stroke="#262626" stroke-width="1.3"/>
<line x1="1577.8" y1="975.6" x2="1577.8" y2="970.9" stroke="#262626" stroke-width="1.3" />
<line x1="1577.8" y1="556.2" x2="1577.8" y2="560.9" stroke="#262626" stroke-width="1.3" />
<line x1="1682.6" y1="975.6" x2="1682.6" y2="970.9" stroke="#262626" stroke-width="1.3" />
<line x1="1682.6" y1="556.2" x2="1682.6" y2="560.9" stroke="#262626" stroke-width="1.3" />
<line x1="1787.5" y1="975.6" x2="1787.5" y2="970.9" stroke="#262626" stroke-width="1.3" />
<line x1="1787.5" y1="556.2" x2="1787.5" y2="560.9" stroke="#262626" stroke-width="1.3" />
<line x1="1892.4" y1="975.6" x2="1892.4" y2="970.9" stroke="#262626" stroke-width="1.3" />
<line x1="1892.4" y1="556.2" x2="1892.4" y2="560.9" stroke="#262626" stroke-width="1.3" />
<line x1="1997.2" y1="975.6" x2="1997.2" y2="970.9" stroke="#262626" stroke-width="1.3" />
<line x1="1997.2" y1="556.2" x2="1997.2" y2="560.9" stroke="#262626" stroke-width="1.3" />
<line x1="1577.8" y1="975.6" x2="1582.5" y2="975.6" stroke="#262626" stroke-width="1.3" />
<line x1="1997.2" y1="975.6" x2="1992.5" y2="975.6" stroke="#262626" stroke-width="1.3" />
<line x1="1577.8" y1="870.8" x2="1582.5" y2="870.8" stroke="#262626" stroke-width="1.3" />
<line x1="1997.2" y1="870.8" x2="1992.5" y2="870.8" stroke="#262626" stroke-width="1.3" />
<line x1="1577.8" y1="765.9" x2="1582.5" y2="765.9" stroke="#262626" stroke-width="1.3" />
<line x1="1997.2" y1="765.9" x2="1992.5" y2="765.9" stroke="#262626" stroke-width="1.3" />
<line x1="1577.8" y1="661.0" x2="1582.5" y2="661.0" stroke="#262626" stroke-width="1.3" />
<line x1="1997.2" y1="661.0" x2="1992.5" y2="661.0" stroke="#262626" stroke-width="1.3" />
<line x1="1577.8" y1="556.2" x2="1582.5" y2="556.2" stroke="#262626" stroke-width="1.3" />
<line x1="1997.2" y1="556.2" x2="1992.5" y2="556.2" stroke="#262626" stroke-width="1.3" />
<text x="1575.8" y="1019.0" font-size="31.5" text-anchor="middle" fill="#262626" font-weight="normal" >-40</text>
<text x="1566.2" y="987.1" font-size="31.5" text-anchor="end" fill="#262626" font-weight="normal" >-40</text>
<text x="1680.6" y="1019.0" font-size="31.5" text-anchor="middle" fill="#262626" font-weight="normal" >-20</text>
<text x="1566.2" y="882.3" font-size="31.5" text-anchor="end" fill="#262626" font-weight="normal" >-20</text>
<text x="1787.5" y="1019.0" font-size="31.5" text-anchor="middle" fill="#262626" font-weight="normal" >0</text>
<text x="1566.2" y="777.4" font-size="31.5" text-anchor="end" fill="#262626" font-weight="normal" >0</text>
<text x="1892.4" y="1019.0" font-size="31.5" text-anchor="middle" fill="#262626" font-weight="normal" >20</text>
<text x="1566.2" y="672.5" font-size="31.5" text-anchor="end" fill="#262626" font-weight="normal" >20</text>
<text x="1997.2" y="1019.0" font-size="31.5" text-anchor="middle" fill="#262626" font-weight="normal" >40</text>
<text x="1566.2" y="567.7" font-size="31.5" text-anchor="end" fill="#262626" font-weight="normal" >40</text>
<text x="1618.0" y="606.6" font-size="30.3" text-anchor="start" fill="#000" font-weight="normal" >fitted Aniso: 0.155</text>
<text x="1618.1" y="646.0" font-size="30" text-anchor="start" fill="#000" font-weight="normal" >e</text>
<text x="1636.3" y="631.5" font-size="20" text-anchor="start" fill="#000" font-weight="normal" >-</text>
<text x="1655.0" y="646.0" font-size="30" text-anchor="start" fill="#000" font-weight="normal" >Aniso: 0.065</text>
<line x1="1580.8" y1="936.8" x2="1641.8" y2="936.8" stroke="#ff0000" stroke-width="4.8" />
<text x="1646.3" y="946.9" font-size="28.6" text-anchor="start" fill="#000" font-weight="normal" >slope:0.92+/- 0.01</text>
<text x="1912.5" y="946.9" font-size="28.6" text-anchor="start" fill="#000" font-weight="normal" >r:1.00</text>
<text x="1683.3" y="1062.1" font-size="34" fill="#262626"><tspan font-size="27">Δ</tspan>v<tspan font-size="29" dy="16.6">A,L</tspan><tspan dy="-16.6" dx="2"> (km/s)</tspan></text>
<text transform="translate(1490.3,862.7) rotate(-90)" font-size="34" fill="#262626"><tspan font-size="27">Δ</tspan>v<tspan font-size="29" dy="15.6">i,L</tspan><tspan dy="-15.6" dx="2"> (km/s)</tspan></text>
<text x="1438.6" y="553.4" font-size="40" text-anchor="start" fill="#000" font-weight="bold" >h</text>
</svg></body></html>
